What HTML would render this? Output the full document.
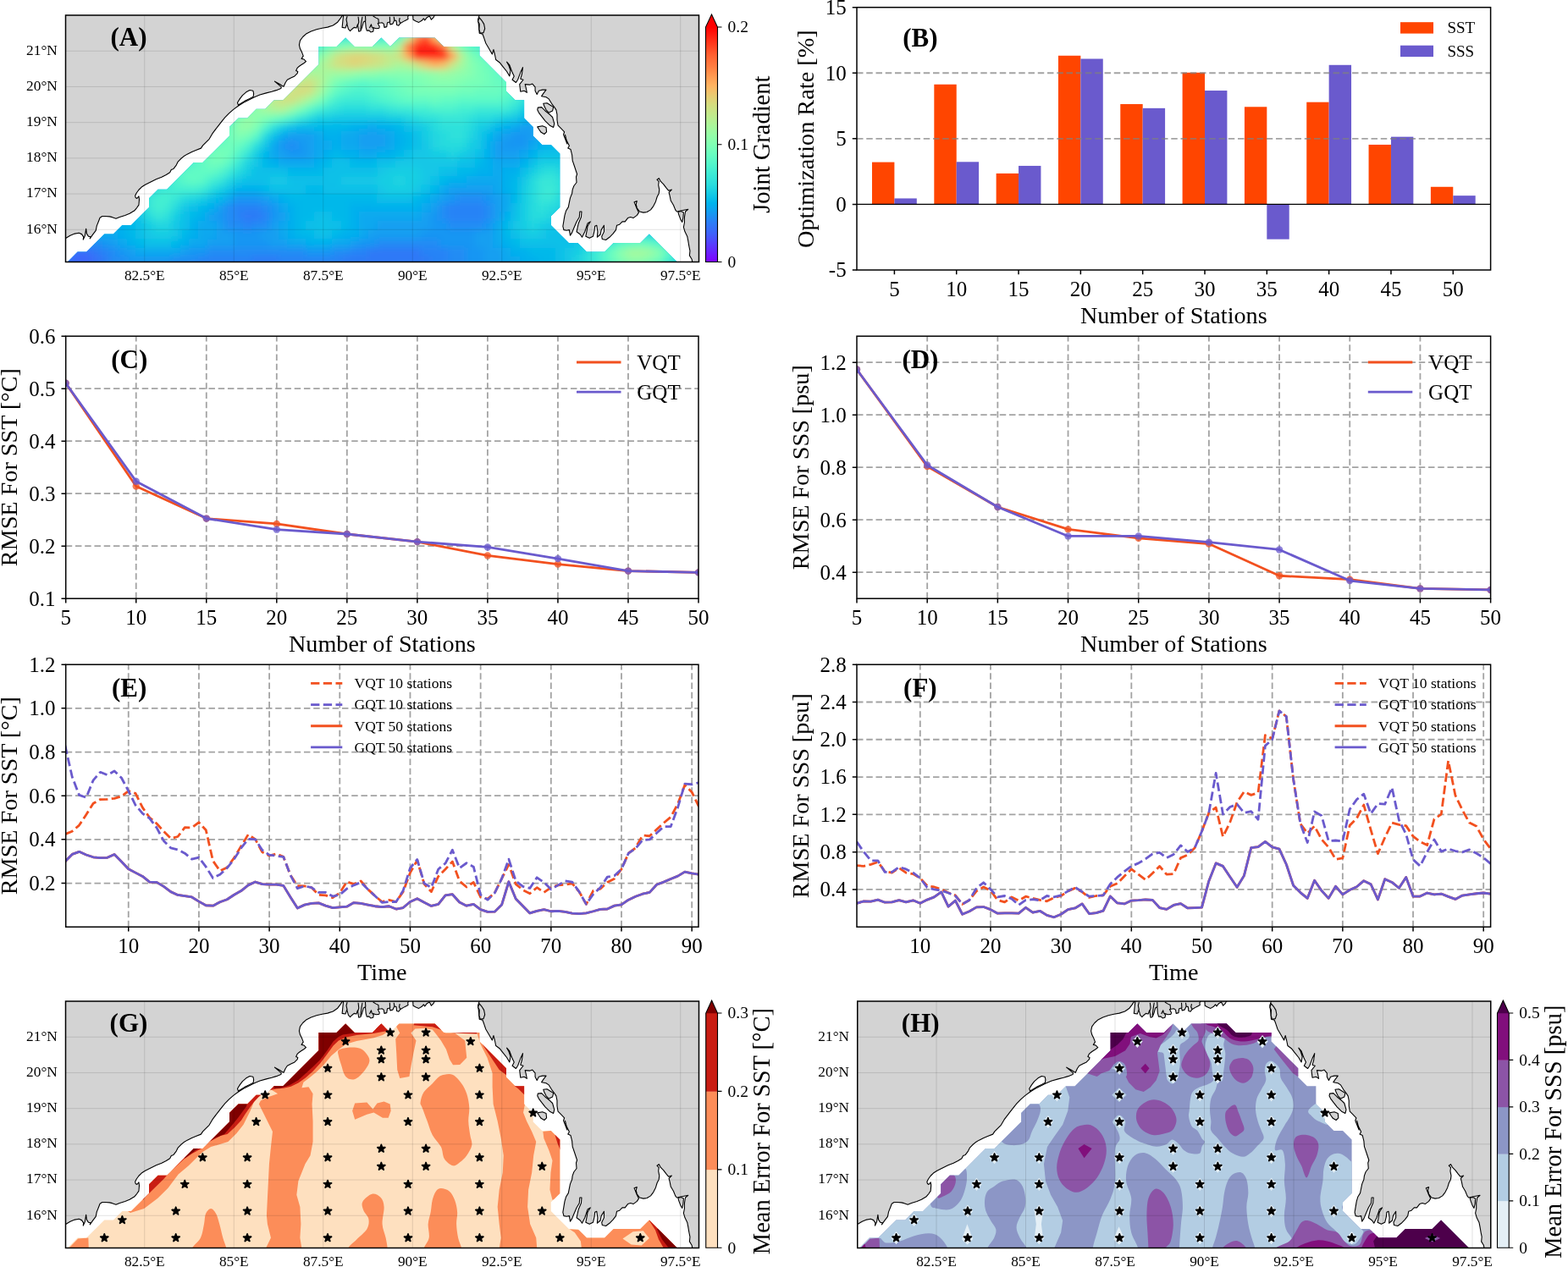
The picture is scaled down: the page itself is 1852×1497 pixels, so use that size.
<!DOCTYPE html>
<html lang="en"><head><meta charset="utf-8"><title>Figure</title>
<style>html,body{margin:0;padding:0;background:#fff}svg{display:block}text{fill:#000}</style></head>
<body>
<svg xmlns="http://www.w3.org/2000/svg" width="1852" height="1497" viewBox="0 0 1852 1497" font-family="'Liberation Serif','Times New Roman',serif">
<defs><linearGradient id="gradA" x1="0" y1="0" x2="0" y2="1"><stop offset="0" stop-color="#ff0000"/><stop offset="0.04" stop-color="#ff2111"/><stop offset="0.08" stop-color="#ff4221"/><stop offset="0.12" stop-color="#ff6232"/><stop offset="0.17" stop-color="#ff7f42"/><stop offset="0.21" stop-color="#ff9b52"/><stop offset="0.25" stop-color="#ffb462"/><stop offset="0.29" stop-color="#eaca71"/><stop offset="0.33" stop-color="#d5dd7f"/><stop offset="0.38" stop-color="#bfec8e"/><stop offset="0.42" stop-color="#aaf69b"/><stop offset="0.46" stop-color="#95fda8"/><stop offset="0.5" stop-color="#80ffb4"/><stop offset="0.54" stop-color="#6afdc0"/><stop offset="0.58" stop-color="#55f6ca"/><stop offset="0.62" stop-color="#40ecd4"/><stop offset="0.67" stop-color="#2bdddd"/><stop offset="0.71" stop-color="#15cae5"/><stop offset="0.75" stop-color="#00b4ec"/><stop offset="0.79" stop-color="#159bf1"/><stop offset="0.83" stop-color="#2b7ff6"/><stop offset="0.88" stop-color="#4062fa"/><stop offset="0.92" stop-color="#5542fd"/><stop offset="0.96" stop-color="#6a21fe"/><stop offset="1" stop-color="#8000ff"/></linearGradient></defs>
<rect width="1852" height="1497" fill="#fff"/>
<g transform="translate(0 0)">
<clipPath id="axA"><rect x="77.5" y="18" width="748" height="291.5"/></clipPath>
<clipPath id="mkA"><path d="M70.52 318.73 L91.62 297.62 L102.17 297.62 L123.28 276.52 L133.82 276.52 L144.38 265.98 L154.93 265.98 L176.03 244.88 L176.03 234.33 L186.57 223.78 L197.12 223.78 L228.78 192.12 L239.32 192.12 L270.98 160.48 L270.98 149.93 L281.52 139.38 L292.07 139.38 L302.62 128.82 L313.18 128.82 L323.73 118.28 L334.27 118.28 L376.48 76.08 L376.48 54.98 L397.58 54.98 L408.12 44.42 L418.68 54.98 L439.78 54.98 L450.33 44.42 L460.88 54.98 L471.43 44.42 L513.62 44.42 L524.17 54.98 L566.38 54.98 L566.38 65.53 L598.03 97.18 L598.03 107.72 L608.58 118.28 L619.12 118.28 L619.12 139.38 L629.67 149.93 L629.67 160.48 L640.23 171.03 L650.78 171.03 L661.33 181.57 L661.33 244.88 L650.78 255.43 L650.78 265.98 L671.88 287.08 L682.42 287.08 L692.98 297.62 L714.08 297.62 L724.62 287.08 L756.28 287.08 L766.83 276.52 L809.03 318.73Z"/></clipPath>
<g clip-path="url(#axA)">
<g fill="#d3d3d3" stroke="#000" stroke-width="1.1" stroke-linejoin="round">
<path d="M75.5 16 L75.5 281.49 L77.56 281.49 L82.96 278.25 L88.36 276.09 L93.22 275.33 L96.46 276.63 L98.62 279.87 L98.29 283.11 L100.24 278.79 L101.64 270.37 L102.4 276.09 L104.56 279.33 L107.26 279.87 L106.18 281.81 L109.96 276.63 L113.2 272.31 L114.28 266.91 L116.44 261.51 L118.06 257.19 L120.76 255.57 L124 255.57 L129.4 255.9 L132.63 256.65 L136.95 258.27 L141.27 256.44 L147.75 254.49 L153.15 252.33 L158.55 249.09 L161.79 245.31 L163.95 242.07 L164.49 235.59 L163.95 231.81 L161.79 234.51 L160.17 233.43 L159.63 231.27 L161.25 228.03 L163.95 224.25 L167.19 221.02 L171.51 218.32 L177.99 215.08 L184.47 211.84 L190.95 209.14 L196.35 206.44 L200.67 203.74 L202.29 200.5 L204.99 199.42 L208.23 195.1 L210.39 190.78 L213.63 187.54 L216.87 184.84 L221.19 182.14 L226.59 179.44 L231.99 177.28 L237.39 175.12 L239.55 171.88 L242.79 168.64 L247.11 164.32 L250.8 157.95 L257.28 149.31 L263.76 141.21 L265.38 139.05 L270.24 134.19 L275.64 129.33 L281.58 125.01 L287.52 121.23 L294 117.99 L300.48 114.75 L306.95 112.05 L314.51 109.89 L320.99 108.27 L326.39 106.65 L331.79 104.49 L332.33 102.87 L328.55 99.63 L325.31 96.93 L324.45 96.18 L329.63 99.09 L333.95 101.79 L335.03 102.33 L337.19 97.47 L339.35 94.23 L343.67 92.07 L347.99 89.91 L351.23 86.67 L351.77 84.51 L349.61 83.43 L351.23 80.19 L354.47 77.49 L358.79 74.79 L361.49 72.63 L358.79 69.94 L356.09 69.4 L358.25 66.16 L356.63 61.84 L354.47 57.52 L353.39 53.2 L354.47 47.8 L357.71 43.48 L362.03 39.7 L367.43 37 L373.91 34.84 L380.39 33.22 L386.87 32.14 L393.35 29.98 L398.75 26.2 L401.99 21.88 L404.15 18.64 L404.69 17.78 L404.69 16Z"/>
<path d="M566.2 16 L566.2 17.78 L564.58 22.96 L565.66 31.6 L566.2 39.16 L569.98 40.24 L571.6 44.56 L573.76 51.04 L577 56.44 L581.32 64 L582.94 58.6 L584.34 64 L585.64 70.48 L589.96 73.71 L594.28 79.11 L598.6 84.51 L601.84 89.91 L602.92 83.43 L600.76 76.95 L598.6 73.17 L601.84 76.95 L605.08 85.59 L607.24 89.91 L605.08 94.23 L609.4 97.47 L611.56 94.23 L614.79 85.59 L617.49 79.65 L616.41 87.75 L614.79 93.15 L618.03 94.23 L613.71 99.63 L614.79 108.27 L619.11 107.19 L622.35 109.35 L621.27 103.95 L620.19 99.63 L625.59 100.17 L628.83 99.09 L632.07 102.87 L632.07 107.19 L634.23 111.51 L636.39 107.19 L640.71 106.11 L645.03 106.11 L641.79 110.43 L639.63 113.67 L645.03 114.75 L648.27 116.91 L651.51 122.31 L654.75 126.63 L656.91 129.87 L657.99 135.27 L657.99 141.75 L659.07 148.23 L662.31 151.47 L666.63 155.79 L665.55 159.03 L667.71 164.43 L669.87 170.04 L667.54 159.32 L669.16 165.8 L672.4 172.28 L670.78 174.98 L674.02 176.6 L675.64 183.08 L676.18 189.56 L678.34 196.04 L680.5 202.52 L681.58 205.76 L680.5 209 L681.04 215.48 L677.8 219.79 L676.18 224.11 L675.64 228.43 L673.48 233.83 L672.4 239.23 L671.32 244.63 L668.62 248.95 L667 254.35 L665.92 260.83 L664.84 267.31 L665.92 271.63 L669.16 272.17 L672.4 271.63 L673.48 278.11 L675.64 274.87 L677.8 269.47 L681.04 261.91 L684.28 256.51 L684.82 250.03 L686.98 250.03 L686.44 256.51 L683.2 264.07 L681.04 273.79 L685.36 277.03 L687.52 280.27 L690.76 273.79 L694 264.07 L697.24 261.91 L694 267.31 L692.92 273.79 L691.84 279.19 L696.16 281.35 L700.48 279.19 L702.1 272.71 L702.63 267.31 L704.79 266.23 L705.87 273.79 L705.33 280.27 L709.11 277.03 L710.19 271.63 L713.43 266.23 L713.43 273.79 L710.73 279.19 L711.27 282.43 L715.59 283.51 L719.91 280.27 L724.23 275.95 L727.47 271.63 L728.55 266.23 L731.79 265.15 L735.03 261.91 L738.27 261.91 L741.51 257.59 L744.75 256.51 L747.99 257.59 L752.31 254.35 L754.47 251.11 L752.31 246.79 L750.15 241.39 L749.07 238.69 L752.31 237.61 L751.23 241.39 L752.31 245.71 L755.55 250.03 L759.87 251.11 L764.19 250.57 L768.51 247.87 L771.75 243.55 L774.45 238.15 L776.07 232.75 L778.23 228.43 L778.77 224.11 L777.69 218.71 L778.23 214.4 L776.07 212.24 L778.23 210.62 L780.39 214.4 L783.63 217.63 L786.87 221.95 L789.57 225.19 L793.35 224.11 L790.11 227.35 L791.19 231.67 L792.27 237.07 L795.51 242.47 L797.67 247.87 L799.29 250.03 L804.15 248.95 L812.79 247.33 L809.55 250.03 L808.47 256.51 L808.47 262.99 L807.39 268.39 L809.01 273.79 L811.71 279.19 L812.79 284.59 L813.87 291.07 L814.95 296.47 L814.41 301.87 L817.11 306.19 L817.65 309.21 L817.65 311.5 L827.5 311.5 L827.5 16Z"/>
<path d="M405.53 16 L405.53 17.97 L405.53 18.67 L404.13 32.36 L407.99 33.06 L409.74 28.14 L411.5 34.46 L413.6 36.57 L415.71 34.46 L418.16 32.36 L420.97 33.06 L422.38 28.85 L423.78 37.27 L425.89 36.57 L427.64 32.36 L429.4 26.04 L431.5 24.64 L432.2 32.36 L433.26 36.22 L435.71 35.87 L437.82 37.97 L440.63 37.27 L441.33 34.46 L439.92 32.36 L444.14 33.76 L447.65 33.41 L448.35 31.65 L446.24 27.44 L451.16 26.74 L453.26 28.14 L453.96 32.36 L456.77 31.65 L457.47 26.74 L460.28 26.04 L460.98 28.85 L463.79 28.14 L465.9 23.93 L468 24.64 L468.7 29.55 L470.81 30.25 L472.92 27.44 L477.83 24.64 L482.04 22.53 L481.69 19.72 L482.74 17.97 L482.74 16Z"/>
<path d="M487.66 16 L487.66 17.97 L488.01 23.23 L491.17 24.99 L494.68 26.39 L498.19 24.28 L500.29 21.83 L501.7 23.93 L504.5 20.42 L507.31 19.02 L509.42 23.23 L512.23 20.42 L512.93 18.67 L513.63 17.97 L513.63 16Z"/>
<path d="M635.31 127.17 L639.63 126.63 L643.95 130.95 L649.35 135.27 L652.59 138.51 L654.75 146.07 L653.67 150.39 L649.35 148.23 L643.95 142.83 L639.63 137.43 L636.39 133.11 L634.77 129.87Z"/>
<path d="M641.79 122.31 L646.11 121.77 L650.43 124.47 L653.67 126.63 L652.59 130.95 L648.27 133.11 L645.03 129.87 L642.87 125.55Z"/>
<path d="M634.77 149.85 L640.71 148.77 L645.03 150.39 L645.57 155.79 L642.87 158.49 L639.09 156.33 L636.39 152.55Z"/>
<path d="M566.2 20.8 L568.9 24.04 L571.6 28.36 L572.68 33.76 L571.06 38.62 L567.28 39.37 L565.98 34.84 L566.2 28.36 L564.58 25.12Z"/>
<path d="M800.91 250.57 L804.15 249.49 L807.39 251.11 L806.85 257.59 L805.77 262.45 L803.61 258.67 L801.99 254.35Z"/>
<path d="M281.58 124.47 L280.5 121.23 L283.2 116.91 L286.44 112.59 L290.76 108.81 L295.08 106.44 L298.86 107.19 L299.61 110.43 L299.18 114.21 L295.08 116.37 L288.6 119.61 L283.2 122.85Z" fill="#fff"/>
<path d="M410.09 19.02 L409.04 23.23 L410.09 28.14M423.08 19.72 L423.78 26.04 L422.73 29.55M427.99 19.72 L426.94 26.04 L425.89 35.16M431.5 19.02 L431.85 24.64M440.63 19.02 L444.14 21.13 L446.94 22.53 L447.3 27.44M460.28 19.72 L460.63 26.04M465.2 19.72 L465.9 23.93M472.21 21.13 L471.51 24.64 L472.92 27.44M436.42 33.06 L438.52 28.85 L439.22 32.36" fill="none"/>
</g>
<g clip-path="url(#mkA)">
<filter id="blA" x="-5%" y="-5%" width="110%" height="110%"><feGaussianBlur stdDeviation="4.2"/></filter><rect x="60" y="0" width="780" height="330" fill="#03b1ec"/><g filter="url(#blA)"><rect x="54.7" y="323.7" width="11.15" height="11.15" fill="#0ba8ef"/><rect x="65.25" y="323.7" width="11.15" height="11.15" fill="#129ff1"/><rect x="75.8" y="323.7" width="42.8" height="11.15" fill="#1996f3"/><rect x="118" y="323.7" width="21.7" height="11.15" fill="#129ff1"/><rect x="139.1" y="323.7" width="63.9" height="11.15" fill="#0ba8ef"/><rect x="202.4" y="323.7" width="317.1" height="11.15" fill="#129ff1"/><rect x="518.9" y="323.7" width="74.45" height="11.15" fill="#0ba8ef"/><rect x="592.75" y="323.7" width="63.9" height="11.15" fill="#04b0ed"/><rect x="656.05" y="323.7" width="32.25" height="11.15" fill="#04b8ea"/><rect x="687.7" y="323.7" width="32.25" height="11.15" fill="#0bc0e8"/><rect x="719.35" y="323.7" width="42.8" height="11.15" fill="#12c7e6"/><rect x="761.55" y="323.7" width="21.7" height="11.15" fill="#0bc0e8"/><rect x="782.65" y="323.7" width="32.25" height="11.15" fill="#04b8ea"/><rect x="814.3" y="323.7" width="21.7" height="11.15" fill="#04b0ed"/><rect x="54.7" y="313.15" width="11.15" height="11.15" fill="#1996f3"/><rect x="65.25" y="313.15" width="11.15" height="11.15" fill="#218cf4"/><rect x="75.8" y="313.15" width="11.15" height="11.15" fill="#2883f6"/><rect x="86.35" y="313.15" width="21.7" height="11.15" fill="#2f79f7"/><rect x="107.45" y="313.15" width="11.15" height="11.15" fill="#2883f6"/><rect x="118" y="313.15" width="11.15" height="11.15" fill="#218cf4"/><rect x="128.55" y="313.15" width="95.55" height="11.15" fill="#1996f3"/><rect x="223.5" y="313.15" width="201.05" height="11.15" fill="#218cf4"/><rect x="423.95" y="313.15" width="42.8" height="11.15" fill="#2883f6"/><rect x="466.15" y="313.15" width="53.35" height="11.15" fill="#218cf4"/><rect x="518.9" y="313.15" width="32.25" height="11.15" fill="#1996f3"/><rect x="550.55" y="313.15" width="32.25" height="11.15" fill="#129ff1"/><rect x="582.2" y="313.15" width="32.25" height="11.15" fill="#0ba8ef"/><rect x="613.85" y="313.15" width="32.25" height="11.15" fill="#04b0ed"/><rect x="645.5" y="313.15" width="21.7" height="11.15" fill="#04b8ea"/><rect x="666.6" y="313.15" width="11.15" height="11.15" fill="#0bc0e8"/><rect x="677.15" y="313.15" width="11.15" height="11.15" fill="#12c7e6"/><rect x="687.7" y="313.15" width="11.15" height="11.15" fill="#19cee3"/><rect x="698.25" y="313.15" width="11.15" height="11.15" fill="#21d5e1"/><rect x="708.8" y="313.15" width="11.15" height="11.15" fill="#2fe1db"/><rect x="719.35" y="313.15" width="11.15" height="11.15" fill="#37e6d8"/><rect x="729.9" y="313.15" width="32.25" height="11.15" fill="#3eead5"/><rect x="761.55" y="313.15" width="11.15" height="11.15" fill="#37e6d8"/><rect x="772.1" y="313.15" width="11.15" height="11.15" fill="#2fe1db"/><rect x="782.65" y="313.15" width="11.15" height="11.15" fill="#21d5e1"/><rect x="793.2" y="313.15" width="11.15" height="11.15" fill="#12c7e6"/><rect x="803.75" y="313.15" width="11.15" height="11.15" fill="#0bc0e8"/><rect x="814.3" y="313.15" width="11.15" height="11.15" fill="#04b8ea"/><rect x="824.85" y="313.15" width="11.15" height="11.15" fill="#04b0ed"/><rect x="54.7" y="302.6" width="11.15" height="11.15" fill="#218cf4"/><rect x="65.25" y="302.6" width="11.15" height="11.15" fill="#2f79f7"/><rect x="75.8" y="302.6" width="11.15" height="11.15" fill="#376ff9"/><rect x="86.35" y="302.6" width="21.7" height="11.15" fill="#3e64fa"/><rect x="107.45" y="302.6" width="11.15" height="11.15" fill="#376ff9"/><rect x="118" y="302.6" width="11.15" height="11.15" fill="#2f79f7"/><rect x="128.55" y="302.6" width="21.7" height="11.15" fill="#218cf4"/><rect x="149.65" y="302.6" width="53.35" height="11.15" fill="#1996f3"/><rect x="202.4" y="302.6" width="32.25" height="11.15" fill="#218cf4"/><rect x="234.05" y="302.6" width="63.9" height="11.15" fill="#2883f6"/><rect x="297.35" y="302.6" width="32.25" height="11.15" fill="#2f79f7"/><rect x="329" y="302.6" width="74.45" height="11.15" fill="#2883f6"/><rect x="402.85" y="302.6" width="106.1" height="11.15" fill="#2f79f7"/><rect x="508.35" y="302.6" width="21.7" height="11.15" fill="#2883f6"/><rect x="529.45" y="302.6" width="21.7" height="11.15" fill="#218cf4"/><rect x="550.55" y="302.6" width="21.7" height="11.15" fill="#1996f3"/><rect x="571.65" y="302.6" width="21.7" height="11.15" fill="#129ff1"/><rect x="592.75" y="302.6" width="21.7" height="11.15" fill="#0ba8ef"/><rect x="613.85" y="302.6" width="21.7" height="11.15" fill="#04b0ed"/><rect x="634.95" y="302.6" width="21.7" height="11.15" fill="#04b8ea"/><rect x="656.05" y="302.6" width="11.15" height="11.15" fill="#0bc0e8"/><rect x="666.6" y="302.6" width="11.15" height="11.15" fill="#12c7e6"/><rect x="677.15" y="302.6" width="11.15" height="11.15" fill="#21d5e1"/><rect x="687.7" y="302.6" width="11.15" height="11.15" fill="#2fe1db"/><rect x="698.25" y="302.6" width="11.15" height="11.15" fill="#3eead5"/><rect x="708.8" y="302.6" width="11.15" height="11.15" fill="#54f6cb"/><rect x="719.35" y="302.6" width="11.15" height="11.15" fill="#6afdc0"/><rect x="729.9" y="302.6" width="11.15" height="11.15" fill="#80ffb4"/><rect x="740.45" y="302.6" width="21.7" height="11.15" fill="#8efeac"/><rect x="761.55" y="302.6" width="11.15" height="11.15" fill="#80ffb4"/><rect x="772.1" y="302.6" width="11.15" height="11.15" fill="#71febc"/><rect x="782.65" y="302.6" width="11.15" height="11.15" fill="#4df3ce"/><rect x="793.2" y="302.6" width="11.15" height="11.15" fill="#2fe1db"/><rect x="803.75" y="302.6" width="11.15" height="11.15" fill="#12c7e6"/><rect x="814.3" y="302.6" width="21.7" height="11.15" fill="#04b8ea"/><rect x="54.7" y="292.05" width="11.15" height="11.15" fill="#1996f3"/><rect x="65.25" y="292.05" width="11.15" height="11.15" fill="#2883f6"/><rect x="75.8" y="292.05" width="11.15" height="11.15" fill="#2f79f7"/><rect x="86.35" y="292.05" width="21.7" height="11.15" fill="#376ff9"/><rect x="107.45" y="292.05" width="11.15" height="11.15" fill="#2f79f7"/><rect x="118" y="292.05" width="11.15" height="11.15" fill="#2883f6"/><rect x="128.55" y="292.05" width="11.15" height="11.15" fill="#218cf4"/><rect x="139.1" y="292.05" width="11.15" height="11.15" fill="#1996f3"/><rect x="149.65" y="292.05" width="11.15" height="11.15" fill="#129ff1"/><rect x="160.2" y="292.05" width="53.35" height="11.15" fill="#0ba8ef"/><rect x="212.95" y="292.05" width="11.15" height="11.15" fill="#129ff1"/><rect x="223.5" y="292.05" width="21.7" height="11.15" fill="#1996f3"/><rect x="244.6" y="292.05" width="116.65" height="11.15" fill="#218cf4"/><rect x="360.65" y="292.05" width="32.25" height="11.15" fill="#1996f3"/><rect x="392.3" y="292.05" width="21.7" height="11.15" fill="#218cf4"/><rect x="413.4" y="292.05" width="21.7" height="11.15" fill="#2883f6"/><rect x="434.5" y="292.05" width="63.9" height="11.15" fill="#2f79f7"/><rect x="497.8" y="292.05" width="32.25" height="11.15" fill="#2883f6"/><rect x="529.45" y="292.05" width="21.7" height="11.15" fill="#218cf4"/><rect x="550.55" y="292.05" width="21.7" height="11.15" fill="#1996f3"/><rect x="571.65" y="292.05" width="21.7" height="11.15" fill="#129ff1"/><rect x="592.75" y="292.05" width="11.15" height="11.15" fill="#0ba8ef"/><rect x="603.3" y="292.05" width="21.7" height="11.15" fill="#04b0ed"/><rect x="624.4" y="292.05" width="32.25" height="11.15" fill="#04b8ea"/><rect x="656.05" y="292.05" width="11.15" height="11.15" fill="#0bc0e8"/><rect x="666.6" y="292.05" width="11.15" height="11.15" fill="#12c7e6"/><rect x="677.15" y="292.05" width="11.15" height="11.15" fill="#19cee3"/><rect x="687.7" y="292.05" width="11.15" height="11.15" fill="#28dbde"/><rect x="698.25" y="292.05" width="11.15" height="11.15" fill="#3eead5"/><rect x="708.8" y="292.05" width="11.15" height="11.15" fill="#54f6cb"/><rect x="719.35" y="292.05" width="11.15" height="11.15" fill="#71febc"/><rect x="729.9" y="292.05" width="11.15" height="11.15" fill="#8efeac"/><rect x="740.45" y="292.05" width="21.7" height="11.15" fill="#a4f99f"/><rect x="761.55" y="292.05" width="11.15" height="11.15" fill="#9dfba3"/><rect x="772.1" y="292.05" width="11.15" height="11.15" fill="#87ffb0"/><rect x="782.65" y="292.05" width="11.15" height="11.15" fill="#62fbc4"/><rect x="793.2" y="292.05" width="11.15" height="11.15" fill="#37e6d8"/><rect x="803.75" y="292.05" width="11.15" height="11.15" fill="#19cee3"/><rect x="814.3" y="292.05" width="21.7" height="11.15" fill="#04b8ea"/><rect x="54.7" y="281.5" width="11.15" height="11.15" fill="#129ff1"/><rect x="65.25" y="281.5" width="11.15" height="11.15" fill="#1996f3"/><rect x="75.8" y="281.5" width="42.8" height="11.15" fill="#218cf4"/><rect x="118" y="281.5" width="11.15" height="11.15" fill="#1996f3"/><rect x="128.55" y="281.5" width="11.15" height="11.15" fill="#129ff1"/><rect x="139.1" y="281.5" width="11.15" height="11.15" fill="#0ba8ef"/><rect x="149.65" y="281.5" width="11.15" height="11.15" fill="#04b0ed"/><rect x="160.2" y="281.5" width="11.15" height="11.15" fill="#04b8ea"/><rect x="170.75" y="281.5" width="32.25" height="11.15" fill="#0bc0e8"/><rect x="202.4" y="281.5" width="11.15" height="11.15" fill="#04b8ea"/><rect x="212.95" y="281.5" width="11.15" height="11.15" fill="#04b0ed"/><rect x="223.5" y="281.5" width="21.7" height="11.15" fill="#0ba8ef"/><rect x="244.6" y="281.5" width="32.25" height="11.15" fill="#129ff1"/><rect x="276.25" y="281.5" width="42.8" height="11.15" fill="#1996f3"/><rect x="318.45" y="281.5" width="21.7" height="11.15" fill="#129ff1"/><rect x="339.55" y="281.5" width="21.7" height="11.15" fill="#0ba8ef"/><rect x="360.65" y="281.5" width="32.25" height="11.15" fill="#04b0ed"/><rect x="392.3" y="281.5" width="21.7" height="11.15" fill="#0ba8ef"/><rect x="413.4" y="281.5" width="11.15" height="11.15" fill="#129ff1"/><rect x="423.95" y="281.5" width="21.7" height="11.15" fill="#1996f3"/><rect x="445.05" y="281.5" width="74.45" height="11.15" fill="#218cf4"/><rect x="518.9" y="281.5" width="42.8" height="11.15" fill="#1996f3"/><rect x="561.1" y="281.5" width="21.7" height="11.15" fill="#129ff1"/><rect x="582.2" y="281.5" width="11.15" height="11.15" fill="#0ba8ef"/><rect x="592.75" y="281.5" width="11.15" height="11.15" fill="#04b0ed"/><rect x="603.3" y="281.5" width="11.15" height="11.15" fill="#04b8ea"/><rect x="613.85" y="281.5" width="63.9" height="11.15" fill="#0bc0e8"/><rect x="677.15" y="281.5" width="11.15" height="11.15" fill="#12c7e6"/><rect x="687.7" y="281.5" width="11.15" height="11.15" fill="#19cee3"/><rect x="698.25" y="281.5" width="11.15" height="11.15" fill="#21d5e1"/><rect x="708.8" y="281.5" width="11.15" height="11.15" fill="#2fe1db"/><rect x="719.35" y="281.5" width="11.15" height="11.15" fill="#45efd2"/><rect x="729.9" y="281.5" width="11.15" height="11.15" fill="#5bf9c7"/><rect x="740.45" y="281.5" width="11.15" height="11.15" fill="#62fbc4"/><rect x="751" y="281.5" width="11.15" height="11.15" fill="#6afdc0"/><rect x="761.55" y="281.5" width="11.15" height="11.15" fill="#62fbc4"/><rect x="772.1" y="281.5" width="11.15" height="11.15" fill="#54f6cb"/><rect x="782.65" y="281.5" width="11.15" height="11.15" fill="#37e6d8"/><rect x="793.2" y="281.5" width="11.15" height="11.15" fill="#21d5e1"/><rect x="803.75" y="281.5" width="11.15" height="11.15" fill="#0bc0e8"/><rect x="814.3" y="281.5" width="11.15" height="11.15" fill="#04b8ea"/><rect x="824.85" y="281.5" width="11.15" height="11.15" fill="#04b0ed"/><rect x="54.7" y="270.95" width="32.25" height="11.15" fill="#0ba8ef"/><rect x="86.35" y="270.95" width="21.7" height="11.15" fill="#129ff1"/><rect x="107.45" y="270.95" width="32.25" height="11.15" fill="#0ba8ef"/><rect x="139.1" y="270.95" width="11.15" height="11.15" fill="#04b0ed"/><rect x="149.65" y="270.95" width="11.15" height="11.15" fill="#04b8ea"/><rect x="160.2" y="270.95" width="11.15" height="11.15" fill="#0bc0e8"/><rect x="170.75" y="270.95" width="11.15" height="11.15" fill="#12c7e6"/><rect x="181.3" y="270.95" width="21.7" height="11.15" fill="#19cee3"/><rect x="202.4" y="270.95" width="11.15" height="11.15" fill="#12c7e6"/><rect x="212.95" y="270.95" width="11.15" height="11.15" fill="#04b8ea"/><rect x="223.5" y="270.95" width="11.15" height="11.15" fill="#04b0ed"/><rect x="234.05" y="270.95" width="21.7" height="11.15" fill="#0ba8ef"/><rect x="255.15" y="270.95" width="21.7" height="11.15" fill="#129ff1"/><rect x="276.25" y="270.95" width="32.25" height="11.15" fill="#1996f3"/><rect x="307.9" y="270.95" width="21.7" height="11.15" fill="#129ff1"/><rect x="329" y="270.95" width="11.15" height="11.15" fill="#0ba8ef"/><rect x="339.55" y="270.95" width="11.15" height="11.15" fill="#04b0ed"/><rect x="350.1" y="270.95" width="21.7" height="11.15" fill="#04b8ea"/><rect x="371.2" y="270.95" width="21.7" height="11.15" fill="#0bc0e8"/><rect x="392.3" y="270.95" width="11.15" height="11.15" fill="#04b8ea"/><rect x="402.85" y="270.95" width="21.7" height="11.15" fill="#04b0ed"/><rect x="423.95" y="270.95" width="11.15" height="11.15" fill="#0ba8ef"/><rect x="434.5" y="270.95" width="63.9" height="11.15" fill="#129ff1"/><rect x="497.8" y="270.95" width="63.9" height="11.15" fill="#1996f3"/><rect x="561.1" y="270.95" width="21.7" height="11.15" fill="#129ff1"/><rect x="582.2" y="270.95" width="11.15" height="11.15" fill="#0ba8ef"/><rect x="592.75" y="270.95" width="11.15" height="11.15" fill="#04b8ea"/><rect x="603.3" y="270.95" width="11.15" height="11.15" fill="#0bc0e8"/><rect x="613.85" y="270.95" width="11.15" height="11.15" fill="#12c7e6"/><rect x="624.4" y="270.95" width="11.15" height="11.15" fill="#19cee3"/><rect x="634.95" y="270.95" width="11.15" height="11.15" fill="#12c7e6"/><rect x="645.5" y="270.95" width="21.7" height="11.15" fill="#0bc0e8"/><rect x="666.6" y="270.95" width="32.25" height="11.15" fill="#04b8ea"/><rect x="698.25" y="270.95" width="11.15" height="11.15" fill="#0bc0e8"/><rect x="708.8" y="270.95" width="21.7" height="11.15" fill="#12c7e6"/><rect x="729.9" y="270.95" width="11.15" height="11.15" fill="#19cee3"/><rect x="740.45" y="270.95" width="32.25" height="11.15" fill="#21d5e1"/><rect x="772.1" y="270.95" width="11.15" height="11.15" fill="#19cee3"/><rect x="782.65" y="270.95" width="11.15" height="11.15" fill="#12c7e6"/><rect x="793.2" y="270.95" width="11.15" height="11.15" fill="#0bc0e8"/><rect x="803.75" y="270.95" width="11.15" height="11.15" fill="#04b8ea"/><rect x="814.3" y="270.95" width="21.7" height="11.15" fill="#04b0ed"/><rect x="54.7" y="260.4" width="95.55" height="11.15" fill="#04b0ed"/><rect x="149.65" y="260.4" width="11.15" height="11.15" fill="#04b8ea"/><rect x="160.2" y="260.4" width="11.15" height="11.15" fill="#0bc0e8"/><rect x="170.75" y="260.4" width="11.15" height="11.15" fill="#19cee3"/><rect x="181.3" y="260.4" width="21.7" height="11.15" fill="#21d5e1"/><rect x="202.4" y="260.4" width="11.15" height="11.15" fill="#12c7e6"/><rect x="212.95" y="260.4" width="11.15" height="11.15" fill="#0bc0e8"/><rect x="223.5" y="260.4" width="11.15" height="11.15" fill="#04b0ed"/><rect x="234.05" y="260.4" width="21.7" height="11.15" fill="#0ba8ef"/><rect x="255.15" y="260.4" width="11.15" height="11.15" fill="#129ff1"/><rect x="265.7" y="260.4" width="21.7" height="11.15" fill="#218cf4"/><rect x="286.8" y="260.4" width="11.15" height="11.15" fill="#2883f6"/><rect x="297.35" y="260.4" width="21.7" height="11.15" fill="#218cf4"/><rect x="318.45" y="260.4" width="11.15" height="11.15" fill="#129ff1"/><rect x="329" y="260.4" width="11.15" height="11.15" fill="#0ba8ef"/><rect x="339.55" y="260.4" width="11.15" height="11.15" fill="#04b0ed"/><rect x="350.1" y="260.4" width="11.15" height="11.15" fill="#04b8ea"/><rect x="360.65" y="260.4" width="42.8" height="11.15" fill="#0bc0e8"/><rect x="402.85" y="260.4" width="11.15" height="11.15" fill="#04b8ea"/><rect x="413.4" y="260.4" width="11.15" height="11.15" fill="#04b0ed"/><rect x="423.95" y="260.4" width="21.7" height="11.15" fill="#0ba8ef"/><rect x="445.05" y="260.4" width="63.9" height="11.15" fill="#129ff1"/><rect x="508.35" y="260.4" width="21.7" height="11.15" fill="#1996f3"/><rect x="529.45" y="260.4" width="42.8" height="11.15" fill="#218cf4"/><rect x="571.65" y="260.4" width="11.15" height="11.15" fill="#1996f3"/><rect x="582.2" y="260.4" width="11.15" height="11.15" fill="#0ba8ef"/><rect x="592.75" y="260.4" width="11.15" height="11.15" fill="#04b8ea"/><rect x="603.3" y="260.4" width="11.15" height="11.15" fill="#12c7e6"/><rect x="613.85" y="260.4" width="11.15" height="11.15" fill="#19cee3"/><rect x="624.4" y="260.4" width="11.15" height="11.15" fill="#21d5e1"/><rect x="634.95" y="260.4" width="11.15" height="11.15" fill="#19cee3"/><rect x="645.5" y="260.4" width="11.15" height="11.15" fill="#12c7e6"/><rect x="656.05" y="260.4" width="11.15" height="11.15" fill="#0bc0e8"/><rect x="666.6" y="260.4" width="127.2" height="11.15" fill="#04b8ea"/><rect x="793.2" y="260.4" width="42.8" height="11.15" fill="#04b0ed"/><rect x="54.7" y="249.85" width="95.55" height="11.15" fill="#04b0ed"/><rect x="149.65" y="249.85" width="11.15" height="11.15" fill="#04b8ea"/><rect x="160.2" y="249.85" width="11.15" height="11.15" fill="#12c7e6"/><rect x="170.75" y="249.85" width="11.15" height="11.15" fill="#28dbde"/><rect x="181.3" y="249.85" width="11.15" height="11.15" fill="#37e6d8"/><rect x="191.85" y="249.85" width="11.15" height="11.15" fill="#2fe1db"/><rect x="202.4" y="249.85" width="11.15" height="11.15" fill="#19cee3"/><rect x="212.95" y="249.85" width="11.15" height="11.15" fill="#0bc0e8"/><rect x="223.5" y="249.85" width="11.15" height="11.15" fill="#04b8ea"/><rect x="234.05" y="249.85" width="11.15" height="11.15" fill="#04b0ed"/><rect x="244.6" y="249.85" width="11.15" height="11.15" fill="#129ff1"/><rect x="255.15" y="249.85" width="11.15" height="11.15" fill="#1996f3"/><rect x="265.7" y="249.85" width="11.15" height="11.15" fill="#218cf4"/><rect x="276.25" y="249.85" width="11.15" height="11.15" fill="#2883f6"/><rect x="286.8" y="249.85" width="21.7" height="11.15" fill="#2f79f7"/><rect x="307.9" y="249.85" width="11.15" height="11.15" fill="#2883f6"/><rect x="318.45" y="249.85" width="11.15" height="11.15" fill="#1996f3"/><rect x="329" y="249.85" width="11.15" height="11.15" fill="#129ff1"/><rect x="339.55" y="249.85" width="11.15" height="11.15" fill="#04b0ed"/><rect x="350.1" y="249.85" width="21.7" height="11.15" fill="#04b8ea"/><rect x="371.2" y="249.85" width="21.7" height="11.15" fill="#0bc0e8"/><rect x="392.3" y="249.85" width="21.7" height="11.15" fill="#04b8ea"/><rect x="413.4" y="249.85" width="11.15" height="11.15" fill="#04b0ed"/><rect x="423.95" y="249.85" width="74.45" height="11.15" fill="#0ba8ef"/><rect x="497.8" y="249.85" width="11.15" height="11.15" fill="#129ff1"/><rect x="508.35" y="249.85" width="11.15" height="11.15" fill="#1996f3"/><rect x="518.9" y="249.85" width="11.15" height="11.15" fill="#218cf4"/><rect x="529.45" y="249.85" width="42.8" height="11.15" fill="#2883f6"/><rect x="571.65" y="249.85" width="11.15" height="11.15" fill="#218cf4"/><rect x="582.2" y="249.85" width="11.15" height="11.15" fill="#129ff1"/><rect x="592.75" y="249.85" width="11.15" height="11.15" fill="#04b0ed"/><rect x="603.3" y="249.85" width="11.15" height="11.15" fill="#0bc0e8"/><rect x="613.85" y="249.85" width="11.15" height="11.15" fill="#19cee3"/><rect x="624.4" y="249.85" width="21.7" height="11.15" fill="#28dbde"/><rect x="645.5" y="249.85" width="11.15" height="11.15" fill="#21d5e1"/><rect x="656.05" y="249.85" width="11.15" height="11.15" fill="#12c7e6"/><rect x="666.6" y="249.85" width="11.15" height="11.15" fill="#0bc0e8"/><rect x="677.15" y="249.85" width="21.7" height="11.15" fill="#04b8ea"/><rect x="698.25" y="249.85" width="137.75" height="11.15" fill="#04b0ed"/><rect x="54.7" y="239.3" width="85" height="11.15" fill="#04b0ed"/><rect x="139.1" y="239.3" width="11.15" height="11.15" fill="#04b8ea"/><rect x="149.65" y="239.3" width="11.15" height="11.15" fill="#0bc0e8"/><rect x="160.2" y="239.3" width="11.15" height="11.15" fill="#19cee3"/><rect x="170.75" y="239.3" width="11.15" height="11.15" fill="#37e6d8"/><rect x="181.3" y="239.3" width="11.15" height="11.15" fill="#45efd2"/><rect x="191.85" y="239.3" width="11.15" height="11.15" fill="#3eead5"/><rect x="202.4" y="239.3" width="11.15" height="11.15" fill="#28dbde"/><rect x="212.95" y="239.3" width="11.15" height="11.15" fill="#12c7e6"/><rect x="223.5" y="239.3" width="11.15" height="11.15" fill="#0bc0e8"/><rect x="234.05" y="239.3" width="11.15" height="11.15" fill="#04b8ea"/><rect x="244.6" y="239.3" width="11.15" height="11.15" fill="#04b0ed"/><rect x="255.15" y="239.3" width="11.15" height="11.15" fill="#129ff1"/><rect x="265.7" y="239.3" width="11.15" height="11.15" fill="#218cf4"/><rect x="276.25" y="239.3" width="32.25" height="11.15" fill="#2883f6"/><rect x="307.9" y="239.3" width="11.15" height="11.15" fill="#218cf4"/><rect x="318.45" y="239.3" width="11.15" height="11.15" fill="#1996f3"/><rect x="329" y="239.3" width="11.15" height="11.15" fill="#0ba8ef"/><rect x="339.55" y="239.3" width="11.15" height="11.15" fill="#04b0ed"/><rect x="350.1" y="239.3" width="63.9" height="11.15" fill="#04b8ea"/><rect x="413.4" y="239.3" width="85" height="11.15" fill="#04b0ed"/><rect x="497.8" y="239.3" width="11.15" height="11.15" fill="#0ba8ef"/><rect x="508.35" y="239.3" width="11.15" height="11.15" fill="#129ff1"/><rect x="518.9" y="239.3" width="11.15" height="11.15" fill="#218cf4"/><rect x="529.45" y="239.3" width="42.8" height="11.15" fill="#2883f6"/><rect x="571.65" y="239.3" width="11.15" height="11.15" fill="#218cf4"/><rect x="582.2" y="239.3" width="11.15" height="11.15" fill="#129ff1"/><rect x="592.75" y="239.3" width="11.15" height="11.15" fill="#0ba8ef"/><rect x="603.3" y="239.3" width="11.15" height="11.15" fill="#0bc0e8"/><rect x="613.85" y="239.3" width="11.15" height="11.15" fill="#19cee3"/><rect x="624.4" y="239.3" width="11.15" height="11.15" fill="#28dbde"/><rect x="634.95" y="239.3" width="11.15" height="11.15" fill="#2fe1db"/><rect x="645.5" y="239.3" width="11.15" height="11.15" fill="#28dbde"/><rect x="656.05" y="239.3" width="11.15" height="11.15" fill="#21d5e1"/><rect x="666.6" y="239.3" width="11.15" height="11.15" fill="#12c7e6"/><rect x="677.15" y="239.3" width="11.15" height="11.15" fill="#0bc0e8"/><rect x="687.7" y="239.3" width="11.15" height="11.15" fill="#04b8ea"/><rect x="698.25" y="239.3" width="137.75" height="11.15" fill="#04b0ed"/><rect x="54.7" y="228.75" width="95.55" height="11.15" fill="#04b0ed"/><rect x="149.65" y="228.75" width="11.15" height="11.15" fill="#0bc0e8"/><rect x="160.2" y="228.75" width="11.15" height="11.15" fill="#19cee3"/><rect x="170.75" y="228.75" width="11.15" height="11.15" fill="#37e6d8"/><rect x="181.3" y="228.75" width="21.7" height="11.15" fill="#45efd2"/><rect x="202.4" y="228.75" width="11.15" height="11.15" fill="#37e6d8"/><rect x="212.95" y="228.75" width="11.15" height="11.15" fill="#28dbde"/><rect x="223.5" y="228.75" width="11.15" height="11.15" fill="#21d5e1"/><rect x="234.05" y="228.75" width="11.15" height="11.15" fill="#19cee3"/><rect x="244.6" y="228.75" width="11.15" height="11.15" fill="#0bc0e8"/><rect x="255.15" y="228.75" width="11.15" height="11.15" fill="#04b8ea"/><rect x="265.7" y="228.75" width="11.15" height="11.15" fill="#0ba8ef"/><rect x="276.25" y="228.75" width="32.25" height="11.15" fill="#1996f3"/><rect x="307.9" y="228.75" width="11.15" height="11.15" fill="#129ff1"/><rect x="318.45" y="228.75" width="11.15" height="11.15" fill="#0ba8ef"/><rect x="329" y="228.75" width="11.15" height="11.15" fill="#04b0ed"/><rect x="339.55" y="228.75" width="106.1" height="11.15" fill="#04b8ea"/><rect x="445.05" y="228.75" width="42.8" height="11.15" fill="#0bc0e8"/><rect x="487.25" y="228.75" width="11.15" height="11.15" fill="#04b8ea"/><rect x="497.8" y="228.75" width="11.15" height="11.15" fill="#04b0ed"/><rect x="508.35" y="228.75" width="11.15" height="11.15" fill="#0ba8ef"/><rect x="518.9" y="228.75" width="11.15" height="11.15" fill="#129ff1"/><rect x="529.45" y="228.75" width="11.15" height="11.15" fill="#1996f3"/><rect x="540" y="228.75" width="32.25" height="11.15" fill="#218cf4"/><rect x="571.65" y="228.75" width="11.15" height="11.15" fill="#1996f3"/><rect x="582.2" y="228.75" width="11.15" height="11.15" fill="#129ff1"/><rect x="592.75" y="228.75" width="11.15" height="11.15" fill="#0ba8ef"/><rect x="603.3" y="228.75" width="11.15" height="11.15" fill="#04b8ea"/><rect x="613.85" y="228.75" width="11.15" height="11.15" fill="#19cee3"/><rect x="624.4" y="228.75" width="11.15" height="11.15" fill="#28dbde"/><rect x="634.95" y="228.75" width="21.7" height="11.15" fill="#37e6d8"/><rect x="656.05" y="228.75" width="11.15" height="11.15" fill="#28dbde"/><rect x="666.6" y="228.75" width="11.15" height="11.15" fill="#19cee3"/><rect x="677.15" y="228.75" width="11.15" height="11.15" fill="#0bc0e8"/><rect x="687.7" y="228.75" width="11.15" height="11.15" fill="#04b8ea"/><rect x="698.25" y="228.75" width="137.75" height="11.15" fill="#04b0ed"/><rect x="54.7" y="218.2" width="95.55" height="11.15" fill="#04b0ed"/><rect x="149.65" y="218.2" width="11.15" height="11.15" fill="#04b8ea"/><rect x="160.2" y="218.2" width="11.15" height="11.15" fill="#12c7e6"/><rect x="170.75" y="218.2" width="11.15" height="11.15" fill="#21d5e1"/><rect x="181.3" y="218.2" width="11.15" height="11.15" fill="#37e6d8"/><rect x="191.85" y="218.2" width="11.15" height="11.15" fill="#3eead5"/><rect x="202.4" y="218.2" width="32.25" height="11.15" fill="#45efd2"/><rect x="234.05" y="218.2" width="11.15" height="11.15" fill="#3eead5"/><rect x="244.6" y="218.2" width="11.15" height="11.15" fill="#28dbde"/><rect x="255.15" y="218.2" width="11.15" height="11.15" fill="#19cee3"/><rect x="265.7" y="218.2" width="11.15" height="11.15" fill="#0bc0e8"/><rect x="276.25" y="218.2" width="32.25" height="11.15" fill="#04b0ed"/><rect x="307.9" y="218.2" width="11.15" height="11.15" fill="#04b8ea"/><rect x="318.45" y="218.2" width="42.8" height="11.15" fill="#0bc0e8"/><rect x="360.65" y="218.2" width="21.7" height="11.15" fill="#04b8ea"/><rect x="381.75" y="218.2" width="63.9" height="11.15" fill="#0bc0e8"/><rect x="445.05" y="218.2" width="11.15" height="11.15" fill="#12c7e6"/><rect x="455.6" y="218.2" width="32.25" height="11.15" fill="#19cee3"/><rect x="487.25" y="218.2" width="11.15" height="11.15" fill="#12c7e6"/><rect x="497.8" y="218.2" width="11.15" height="11.15" fill="#0bc0e8"/><rect x="508.35" y="218.2" width="11.15" height="11.15" fill="#04b8ea"/><rect x="518.9" y="218.2" width="11.15" height="11.15" fill="#0ba8ef"/><rect x="529.45" y="218.2" width="53.35" height="11.15" fill="#129ff1"/><rect x="582.2" y="218.2" width="11.15" height="11.15" fill="#0ba8ef"/><rect x="592.75" y="218.2" width="11.15" height="11.15" fill="#04b0ed"/><rect x="603.3" y="218.2" width="11.15" height="11.15" fill="#04b8ea"/><rect x="613.85" y="218.2" width="11.15" height="11.15" fill="#19cee3"/><rect x="624.4" y="218.2" width="11.15" height="11.15" fill="#28dbde"/><rect x="634.95" y="218.2" width="11.15" height="11.15" fill="#37e6d8"/><rect x="645.5" y="218.2" width="11.15" height="11.15" fill="#3eead5"/><rect x="656.05" y="218.2" width="11.15" height="11.15" fill="#2fe1db"/><rect x="666.6" y="218.2" width="11.15" height="11.15" fill="#19cee3"/><rect x="677.15" y="218.2" width="11.15" height="11.15" fill="#0bc0e8"/><rect x="687.7" y="218.2" width="11.15" height="11.15" fill="#04b8ea"/><rect x="698.25" y="218.2" width="137.75" height="11.15" fill="#04b0ed"/><rect x="54.7" y="207.65" width="95.55" height="11.15" fill="#04b0ed"/><rect x="149.65" y="207.65" width="21.7" height="11.15" fill="#04b8ea"/><rect x="170.75" y="207.65" width="11.15" height="11.15" fill="#12c7e6"/><rect x="181.3" y="207.65" width="11.15" height="11.15" fill="#21d5e1"/><rect x="191.85" y="207.65" width="11.15" height="11.15" fill="#37e6d8"/><rect x="202.4" y="207.65" width="11.15" height="11.15" fill="#4df3ce"/><rect x="212.95" y="207.65" width="11.15" height="11.15" fill="#5bf9c7"/><rect x="223.5" y="207.65" width="11.15" height="11.15" fill="#62fbc4"/><rect x="234.05" y="207.65" width="11.15" height="11.15" fill="#5bf9c7"/><rect x="244.6" y="207.65" width="11.15" height="11.15" fill="#45efd2"/><rect x="255.15" y="207.65" width="11.15" height="11.15" fill="#37e6d8"/><rect x="265.7" y="207.65" width="11.15" height="11.15" fill="#21d5e1"/><rect x="276.25" y="207.65" width="11.15" height="11.15" fill="#12c7e6"/><rect x="286.8" y="207.65" width="32.25" height="11.15" fill="#0bc0e8"/><rect x="318.45" y="207.65" width="21.7" height="11.15" fill="#12c7e6"/><rect x="339.55" y="207.65" width="63.9" height="11.15" fill="#0bc0e8"/><rect x="402.85" y="207.65" width="42.8" height="11.15" fill="#12c7e6"/><rect x="445.05" y="207.65" width="21.7" height="11.15" fill="#19cee3"/><rect x="466.15" y="207.65" width="11.15" height="11.15" fill="#21d5e1"/><rect x="476.7" y="207.65" width="21.7" height="11.15" fill="#19cee3"/><rect x="497.8" y="207.65" width="11.15" height="11.15" fill="#12c7e6"/><rect x="508.35" y="207.65" width="11.15" height="11.15" fill="#0bc0e8"/><rect x="518.9" y="207.65" width="11.15" height="11.15" fill="#04b8ea"/><rect x="529.45" y="207.65" width="21.7" height="11.15" fill="#04b0ed"/><rect x="550.55" y="207.65" width="42.8" height="11.15" fill="#0ba8ef"/><rect x="592.75" y="207.65" width="11.15" height="11.15" fill="#04b0ed"/><rect x="603.3" y="207.65" width="11.15" height="11.15" fill="#04b8ea"/><rect x="613.85" y="207.65" width="11.15" height="11.15" fill="#12c7e6"/><rect x="624.4" y="207.65" width="11.15" height="11.15" fill="#28dbde"/><rect x="634.95" y="207.65" width="21.7" height="11.15" fill="#37e6d8"/><rect x="656.05" y="207.65" width="11.15" height="11.15" fill="#2fe1db"/><rect x="666.6" y="207.65" width="11.15" height="11.15" fill="#19cee3"/><rect x="677.15" y="207.65" width="11.15" height="11.15" fill="#0bc0e8"/><rect x="687.7" y="207.65" width="11.15" height="11.15" fill="#04b8ea"/><rect x="698.25" y="207.65" width="137.75" height="11.15" fill="#04b0ed"/><rect x="54.7" y="197.1" width="106.1" height="11.15" fill="#04b0ed"/><rect x="160.2" y="197.1" width="11.15" height="11.15" fill="#04b8ea"/><rect x="170.75" y="197.1" width="11.15" height="11.15" fill="#0bc0e8"/><rect x="181.3" y="197.1" width="11.15" height="11.15" fill="#19cee3"/><rect x="191.85" y="197.1" width="11.15" height="11.15" fill="#28dbde"/><rect x="202.4" y="197.1" width="11.15" height="11.15" fill="#45efd2"/><rect x="212.95" y="197.1" width="11.15" height="11.15" fill="#5bf9c7"/><rect x="223.5" y="197.1" width="32.25" height="11.15" fill="#62fbc4"/><rect x="255.15" y="197.1" width="11.15" height="11.15" fill="#54f6cb"/><rect x="265.7" y="197.1" width="11.15" height="11.15" fill="#3eead5"/><rect x="276.25" y="197.1" width="11.15" height="11.15" fill="#28dbde"/><rect x="286.8" y="197.1" width="11.15" height="11.15" fill="#19cee3"/><rect x="297.35" y="197.1" width="42.8" height="11.15" fill="#0bc0e8"/><rect x="339.55" y="197.1" width="42.8" height="11.15" fill="#04b8ea"/><rect x="381.75" y="197.1" width="63.9" height="11.15" fill="#0bc0e8"/><rect x="445.05" y="197.1" width="11.15" height="11.15" fill="#12c7e6"/><rect x="455.6" y="197.1" width="42.8" height="11.15" fill="#19cee3"/><rect x="497.8" y="197.1" width="21.7" height="11.15" fill="#12c7e6"/><rect x="518.9" y="197.1" width="21.7" height="11.15" fill="#0bc0e8"/><rect x="540" y="197.1" width="21.7" height="11.15" fill="#04b8ea"/><rect x="561.1" y="197.1" width="21.7" height="11.15" fill="#04b0ed"/><rect x="582.2" y="197.1" width="11.15" height="11.15" fill="#0ba8ef"/><rect x="592.75" y="197.1" width="21.7" height="11.15" fill="#04b0ed"/><rect x="613.85" y="197.1" width="11.15" height="11.15" fill="#0bc0e8"/><rect x="624.4" y="197.1" width="11.15" height="11.15" fill="#19cee3"/><rect x="634.95" y="197.1" width="11.15" height="11.15" fill="#28dbde"/><rect x="645.5" y="197.1" width="11.15" height="11.15" fill="#2fe1db"/><rect x="656.05" y="197.1" width="11.15" height="11.15" fill="#21d5e1"/><rect x="666.6" y="197.1" width="11.15" height="11.15" fill="#19cee3"/><rect x="677.15" y="197.1" width="11.15" height="11.15" fill="#0bc0e8"/><rect x="687.7" y="197.1" width="11.15" height="11.15" fill="#04b8ea"/><rect x="698.25" y="197.1" width="137.75" height="11.15" fill="#04b0ed"/><rect x="54.7" y="186.55" width="116.65" height="11.15" fill="#04b0ed"/><rect x="170.75" y="186.55" width="11.15" height="11.15" fill="#04b8ea"/><rect x="181.3" y="186.55" width="11.15" height="11.15" fill="#0bc0e8"/><rect x="191.85" y="186.55" width="11.15" height="11.15" fill="#19cee3"/><rect x="202.4" y="186.55" width="11.15" height="11.15" fill="#2fe1db"/><rect x="212.95" y="186.55" width="11.15" height="11.15" fill="#3eead5"/><rect x="223.5" y="186.55" width="11.15" height="11.15" fill="#54f6cb"/><rect x="234.05" y="186.55" width="11.15" height="11.15" fill="#62fbc4"/><rect x="244.6" y="186.55" width="21.7" height="11.15" fill="#71febc"/><rect x="265.7" y="186.55" width="11.15" height="11.15" fill="#5bf9c7"/><rect x="276.25" y="186.55" width="11.15" height="11.15" fill="#3eead5"/><rect x="286.8" y="186.55" width="11.15" height="11.15" fill="#21d5e1"/><rect x="297.35" y="186.55" width="11.15" height="11.15" fill="#12c7e6"/><rect x="307.9" y="186.55" width="11.15" height="11.15" fill="#04b8ea"/><rect x="318.45" y="186.55" width="11.15" height="11.15" fill="#04b0ed"/><rect x="329" y="186.55" width="42.8" height="11.15" fill="#0ba8ef"/><rect x="371.2" y="186.55" width="11.15" height="11.15" fill="#04b0ed"/><rect x="381.75" y="186.55" width="11.15" height="11.15" fill="#04b8ea"/><rect x="392.3" y="186.55" width="21.7" height="11.15" fill="#0bc0e8"/><rect x="413.4" y="186.55" width="32.25" height="11.15" fill="#04b8ea"/><rect x="445.05" y="186.55" width="21.7" height="11.15" fill="#0bc0e8"/><rect x="466.15" y="186.55" width="74.45" height="11.15" fill="#12c7e6"/><rect x="540" y="186.55" width="21.7" height="11.15" fill="#0bc0e8"/><rect x="561.1" y="186.55" width="11.15" height="11.15" fill="#04b8ea"/><rect x="571.65" y="186.55" width="11.15" height="11.15" fill="#04b0ed"/><rect x="582.2" y="186.55" width="32.25" height="11.15" fill="#0ba8ef"/><rect x="613.85" y="186.55" width="11.15" height="11.15" fill="#04b0ed"/><rect x="624.4" y="186.55" width="11.15" height="11.15" fill="#0bc0e8"/><rect x="634.95" y="186.55" width="32.25" height="11.15" fill="#19cee3"/><rect x="666.6" y="186.55" width="11.15" height="11.15" fill="#0bc0e8"/><rect x="677.15" y="186.55" width="21.7" height="11.15" fill="#04b8ea"/><rect x="698.25" y="186.55" width="137.75" height="11.15" fill="#04b0ed"/><rect x="54.7" y="176" width="127.2" height="11.15" fill="#04b0ed"/><rect x="181.3" y="176" width="11.15" height="11.15" fill="#04b8ea"/><rect x="191.85" y="176" width="11.15" height="11.15" fill="#0bc0e8"/><rect x="202.4" y="176" width="11.15" height="11.15" fill="#12c7e6"/><rect x="212.95" y="176" width="11.15" height="11.15" fill="#28dbde"/><rect x="223.5" y="176" width="11.15" height="11.15" fill="#3eead5"/><rect x="234.05" y="176" width="11.15" height="11.15" fill="#5bf9c7"/><rect x="244.6" y="176" width="11.15" height="11.15" fill="#71febc"/><rect x="255.15" y="176" width="11.15" height="11.15" fill="#78ffb8"/><rect x="265.7" y="176" width="11.15" height="11.15" fill="#71febc"/><rect x="276.25" y="176" width="11.15" height="11.15" fill="#54f6cb"/><rect x="286.8" y="176" width="11.15" height="11.15" fill="#37e6d8"/><rect x="297.35" y="176" width="11.15" height="11.15" fill="#19cee3"/><rect x="307.9" y="176" width="11.15" height="11.15" fill="#04b8ea"/><rect x="318.45" y="176" width="11.15" height="11.15" fill="#0ba8ef"/><rect x="329" y="176" width="11.15" height="11.15" fill="#129ff1"/><rect x="339.55" y="176" width="21.7" height="11.15" fill="#1996f3"/><rect x="360.65" y="176" width="11.15" height="11.15" fill="#129ff1"/><rect x="371.2" y="176" width="11.15" height="11.15" fill="#0ba8ef"/><rect x="381.75" y="176" width="11.15" height="11.15" fill="#04b0ed"/><rect x="392.3" y="176" width="11.15" height="11.15" fill="#04b8ea"/><rect x="402.85" y="176" width="21.7" height="11.15" fill="#04b0ed"/><rect x="423.95" y="176" width="21.7" height="11.15" fill="#0ba8ef"/><rect x="445.05" y="176" width="21.7" height="11.15" fill="#04b0ed"/><rect x="466.15" y="176" width="11.15" height="11.15" fill="#04b8ea"/><rect x="476.7" y="176" width="11.15" height="11.15" fill="#0bc0e8"/><rect x="487.25" y="176" width="21.7" height="11.15" fill="#12c7e6"/><rect x="508.35" y="176" width="21.7" height="11.15" fill="#19cee3"/><rect x="529.45" y="176" width="11.15" height="11.15" fill="#21d5e1"/><rect x="540" y="176" width="11.15" height="11.15" fill="#19cee3"/><rect x="550.55" y="176" width="11.15" height="11.15" fill="#12c7e6"/><rect x="561.1" y="176" width="11.15" height="11.15" fill="#0bc0e8"/><rect x="571.65" y="176" width="11.15" height="11.15" fill="#04b0ed"/><rect x="582.2" y="176" width="32.25" height="11.15" fill="#129ff1"/><rect x="613.85" y="176" width="11.15" height="11.15" fill="#0ba8ef"/><rect x="624.4" y="176" width="11.15" height="11.15" fill="#04b0ed"/><rect x="634.95" y="176" width="32.25" height="11.15" fill="#0bc0e8"/><rect x="666.6" y="176" width="21.7" height="11.15" fill="#04b8ea"/><rect x="687.7" y="176" width="148.3" height="11.15" fill="#04b0ed"/><rect x="54.7" y="165.45" width="137.75" height="11.15" fill="#04b0ed"/><rect x="191.85" y="165.45" width="11.15" height="11.15" fill="#04b8ea"/><rect x="202.4" y="165.45" width="11.15" height="11.15" fill="#0bc0e8"/><rect x="212.95" y="165.45" width="11.15" height="11.15" fill="#12c7e6"/><rect x="223.5" y="165.45" width="11.15" height="11.15" fill="#21d5e1"/><rect x="234.05" y="165.45" width="11.15" height="11.15" fill="#3eead5"/><rect x="244.6" y="165.45" width="11.15" height="11.15" fill="#5bf9c7"/><rect x="255.15" y="165.45" width="11.15" height="11.15" fill="#6afdc0"/><rect x="265.7" y="165.45" width="11.15" height="11.15" fill="#71febc"/><rect x="276.25" y="165.45" width="11.15" height="11.15" fill="#6afdc0"/><rect x="286.8" y="165.45" width="11.15" height="11.15" fill="#54f6cb"/><rect x="297.35" y="165.45" width="11.15" height="11.15" fill="#2fe1db"/><rect x="307.9" y="165.45" width="11.15" height="11.15" fill="#12c7e6"/><rect x="318.45" y="165.45" width="11.15" height="11.15" fill="#0ba8ef"/><rect x="329" y="165.45" width="11.15" height="11.15" fill="#1996f3"/><rect x="339.55" y="165.45" width="11.15" height="11.15" fill="#218cf4"/><rect x="350.1" y="165.45" width="11.15" height="11.15" fill="#1996f3"/><rect x="360.65" y="165.45" width="11.15" height="11.15" fill="#129ff1"/><rect x="371.2" y="165.45" width="21.7" height="11.15" fill="#0ba8ef"/><rect x="392.3" y="165.45" width="11.15" height="11.15" fill="#04b0ed"/><rect x="402.85" y="165.45" width="21.7" height="11.15" fill="#0ba8ef"/><rect x="423.95" y="165.45" width="32.25" height="11.15" fill="#129ff1"/><rect x="455.6" y="165.45" width="11.15" height="11.15" fill="#0ba8ef"/><rect x="466.15" y="165.45" width="11.15" height="11.15" fill="#04b0ed"/><rect x="476.7" y="165.45" width="11.15" height="11.15" fill="#04b8ea"/><rect x="487.25" y="165.45" width="11.15" height="11.15" fill="#0bc0e8"/><rect x="497.8" y="165.45" width="11.15" height="11.15" fill="#12c7e6"/><rect x="508.35" y="165.45" width="11.15" height="11.15" fill="#21d5e1"/><rect x="518.9" y="165.45" width="32.25" height="11.15" fill="#28dbde"/><rect x="550.55" y="165.45" width="11.15" height="11.15" fill="#19cee3"/><rect x="561.1" y="165.45" width="11.15" height="11.15" fill="#12c7e6"/><rect x="571.65" y="165.45" width="11.15" height="11.15" fill="#04b0ed"/><rect x="582.2" y="165.45" width="11.15" height="11.15" fill="#129ff1"/><rect x="592.75" y="165.45" width="32.25" height="11.15" fill="#1996f3"/><rect x="624.4" y="165.45" width="11.15" height="11.15" fill="#0ba8ef"/><rect x="634.95" y="165.45" width="11.15" height="11.15" fill="#04b0ed"/><rect x="645.5" y="165.45" width="32.25" height="11.15" fill="#04b8ea"/><rect x="677.15" y="165.45" width="158.85" height="11.15" fill="#04b0ed"/><rect x="54.7" y="154.9" width="148.3" height="11.15" fill="#04b0ed"/><rect x="202.4" y="154.9" width="21.7" height="11.15" fill="#04b8ea"/><rect x="223.5" y="154.9" width="11.15" height="11.15" fill="#12c7e6"/><rect x="234.05" y="154.9" width="11.15" height="11.15" fill="#21d5e1"/><rect x="244.6" y="154.9" width="11.15" height="11.15" fill="#37e6d8"/><rect x="255.15" y="154.9" width="11.15" height="11.15" fill="#54f6cb"/><rect x="265.7" y="154.9" width="11.15" height="11.15" fill="#71febc"/><rect x="276.25" y="154.9" width="11.15" height="11.15" fill="#80ffb4"/><rect x="286.8" y="154.9" width="11.15" height="11.15" fill="#78ffb8"/><rect x="297.35" y="154.9" width="11.15" height="11.15" fill="#5bf9c7"/><rect x="307.9" y="154.9" width="11.15" height="11.15" fill="#28dbde"/><rect x="318.45" y="154.9" width="11.15" height="11.15" fill="#0bc0e8"/><rect x="329" y="154.9" width="11.15" height="11.15" fill="#0ba8ef"/><rect x="339.55" y="154.9" width="32.25" height="11.15" fill="#129ff1"/><rect x="371.2" y="154.9" width="11.15" height="11.15" fill="#0ba8ef"/><rect x="381.75" y="154.9" width="21.7" height="11.15" fill="#04b0ed"/><rect x="402.85" y="154.9" width="21.7" height="11.15" fill="#0ba8ef"/><rect x="423.95" y="154.9" width="32.25" height="11.15" fill="#129ff1"/><rect x="455.6" y="154.9" width="11.15" height="11.15" fill="#0ba8ef"/><rect x="466.15" y="154.9" width="11.15" height="11.15" fill="#04b0ed"/><rect x="476.7" y="154.9" width="11.15" height="11.15" fill="#04b8ea"/><rect x="487.25" y="154.9" width="11.15" height="11.15" fill="#0bc0e8"/><rect x="497.8" y="154.9" width="11.15" height="11.15" fill="#19cee3"/><rect x="508.35" y="154.9" width="11.15" height="11.15" fill="#21d5e1"/><rect x="518.9" y="154.9" width="11.15" height="11.15" fill="#28dbde"/><rect x="529.45" y="154.9" width="21.7" height="11.15" fill="#2fe1db"/><rect x="550.55" y="154.9" width="11.15" height="11.15" fill="#21d5e1"/><rect x="561.1" y="154.9" width="11.15" height="11.15" fill="#12c7e6"/><rect x="571.65" y="154.9" width="11.15" height="11.15" fill="#04b8ea"/><rect x="582.2" y="154.9" width="11.15" height="11.15" fill="#0ba8ef"/><rect x="592.75" y="154.9" width="11.15" height="11.15" fill="#129ff1"/><rect x="603.3" y="154.9" width="21.7" height="11.15" fill="#1996f3"/><rect x="624.4" y="154.9" width="11.15" height="11.15" fill="#129ff1"/><rect x="634.95" y="154.9" width="21.7" height="11.15" fill="#0ba8ef"/><rect x="656.05" y="154.9" width="179.95" height="11.15" fill="#04b0ed"/><rect x="54.7" y="144.35" width="158.85" height="11.15" fill="#04b0ed"/><rect x="212.95" y="144.35" width="21.7" height="11.15" fill="#04b8ea"/><rect x="234.05" y="144.35" width="11.15" height="11.15" fill="#0bc0e8"/><rect x="244.6" y="144.35" width="11.15" height="11.15" fill="#21d5e1"/><rect x="255.15" y="144.35" width="11.15" height="11.15" fill="#3eead5"/><rect x="265.7" y="144.35" width="11.15" height="11.15" fill="#6afdc0"/><rect x="276.25" y="144.35" width="11.15" height="11.15" fill="#8efeac"/><rect x="286.8" y="144.35" width="11.15" height="11.15" fill="#95fda8"/><rect x="297.35" y="144.35" width="11.15" height="11.15" fill="#80ffb4"/><rect x="307.9" y="144.35" width="11.15" height="11.15" fill="#54f6cb"/><rect x="318.45" y="144.35" width="11.15" height="11.15" fill="#2fe1db"/><rect x="329" y="144.35" width="11.15" height="11.15" fill="#19cee3"/><rect x="339.55" y="144.35" width="11.15" height="11.15" fill="#0bc0e8"/><rect x="350.1" y="144.35" width="63.9" height="11.15" fill="#04b8ea"/><rect x="413.4" y="144.35" width="21.7" height="11.15" fill="#04b0ed"/><rect x="434.5" y="144.35" width="11.15" height="11.15" fill="#0ba8ef"/><rect x="445.05" y="144.35" width="21.7" height="11.15" fill="#04b0ed"/><rect x="466.15" y="144.35" width="11.15" height="11.15" fill="#04b8ea"/><rect x="476.7" y="144.35" width="11.15" height="11.15" fill="#0bc0e8"/><rect x="487.25" y="144.35" width="11.15" height="11.15" fill="#12c7e6"/><rect x="497.8" y="144.35" width="11.15" height="11.15" fill="#19cee3"/><rect x="508.35" y="144.35" width="11.15" height="11.15" fill="#28dbde"/><rect x="518.9" y="144.35" width="32.25" height="11.15" fill="#2fe1db"/><rect x="550.55" y="144.35" width="11.15" height="11.15" fill="#28dbde"/><rect x="561.1" y="144.35" width="11.15" height="11.15" fill="#19cee3"/><rect x="571.65" y="144.35" width="11.15" height="11.15" fill="#12c7e6"/><rect x="582.2" y="144.35" width="11.15" height="11.15" fill="#04b8ea"/><rect x="592.75" y="144.35" width="11.15" height="11.15" fill="#04b0ed"/><rect x="603.3" y="144.35" width="11.15" height="11.15" fill="#0ba8ef"/><rect x="613.85" y="144.35" width="32.25" height="11.15" fill="#129ff1"/><rect x="645.5" y="144.35" width="11.15" height="11.15" fill="#0ba8ef"/><rect x="656.05" y="144.35" width="179.95" height="11.15" fill="#04b0ed"/><rect x="54.7" y="133.8" width="158.85" height="11.15" fill="#04b0ed"/><rect x="212.95" y="133.8" width="32.25" height="11.15" fill="#04b8ea"/><rect x="244.6" y="133.8" width="11.15" height="11.15" fill="#12c7e6"/><rect x="255.15" y="133.8" width="11.15" height="11.15" fill="#2fe1db"/><rect x="265.7" y="133.8" width="11.15" height="11.15" fill="#54f6cb"/><rect x="276.25" y="133.8" width="11.15" height="11.15" fill="#80ffb4"/><rect x="286.8" y="133.8" width="11.15" height="11.15" fill="#95fda8"/><rect x="297.35" y="133.8" width="11.15" height="11.15" fill="#8efeac"/><rect x="307.9" y="133.8" width="11.15" height="11.15" fill="#80ffb4"/><rect x="318.45" y="133.8" width="11.15" height="11.15" fill="#71febc"/><rect x="329" y="133.8" width="11.15" height="11.15" fill="#62fbc4"/><rect x="339.55" y="133.8" width="11.15" height="11.15" fill="#4df3ce"/><rect x="350.1" y="133.8" width="11.15" height="11.15" fill="#37e6d8"/><rect x="360.65" y="133.8" width="11.15" height="11.15" fill="#28dbde"/><rect x="371.2" y="133.8" width="21.7" height="11.15" fill="#19cee3"/><rect x="392.3" y="133.8" width="63.9" height="11.15" fill="#12c7e6"/><rect x="455.6" y="133.8" width="21.7" height="11.15" fill="#19cee3"/><rect x="476.7" y="133.8" width="11.15" height="11.15" fill="#21d5e1"/><rect x="487.25" y="133.8" width="11.15" height="11.15" fill="#28dbde"/><rect x="497.8" y="133.8" width="21.7" height="11.15" fill="#2fe1db"/><rect x="518.9" y="133.8" width="32.25" height="11.15" fill="#37e6d8"/><rect x="550.55" y="133.8" width="11.15" height="11.15" fill="#2fe1db"/><rect x="561.1" y="133.8" width="21.7" height="11.15" fill="#28dbde"/><rect x="582.2" y="133.8" width="11.15" height="11.15" fill="#21d5e1"/><rect x="592.75" y="133.8" width="11.15" height="11.15" fill="#19cee3"/><rect x="603.3" y="133.8" width="11.15" height="11.15" fill="#12c7e6"/><rect x="613.85" y="133.8" width="11.15" height="11.15" fill="#04b8ea"/><rect x="624.4" y="133.8" width="11.15" height="11.15" fill="#0ba8ef"/><rect x="634.95" y="133.8" width="11.15" height="11.15" fill="#129ff1"/><rect x="645.5" y="133.8" width="11.15" height="11.15" fill="#0ba8ef"/><rect x="656.05" y="133.8" width="179.95" height="11.15" fill="#04b0ed"/><rect x="54.7" y="123.25" width="148.3" height="11.15" fill="#04b0ed"/><rect x="202.4" y="123.25" width="42.8" height="11.15" fill="#04b8ea"/><rect x="244.6" y="123.25" width="11.15" height="11.15" fill="#0bc0e8"/><rect x="255.15" y="123.25" width="11.15" height="11.15" fill="#21d5e1"/><rect x="265.7" y="123.25" width="11.15" height="11.15" fill="#37e6d8"/><rect x="276.25" y="123.25" width="11.15" height="11.15" fill="#5bf9c7"/><rect x="286.8" y="123.25" width="11.15" height="11.15" fill="#71febc"/><rect x="297.35" y="123.25" width="11.15" height="11.15" fill="#8efeac"/><rect x="307.9" y="123.25" width="11.15" height="11.15" fill="#a4f99f"/><rect x="318.45" y="123.25" width="21.7" height="11.15" fill="#b2f396"/><rect x="339.55" y="123.25" width="11.15" height="11.15" fill="#95fda8"/><rect x="350.1" y="123.25" width="11.15" height="11.15" fill="#78ffb8"/><rect x="360.65" y="123.25" width="11.15" height="11.15" fill="#5bf9c7"/><rect x="371.2" y="123.25" width="11.15" height="11.15" fill="#45efd2"/><rect x="381.75" y="123.25" width="11.15" height="11.15" fill="#37e6d8"/><rect x="392.3" y="123.25" width="11.15" height="11.15" fill="#2fe1db"/><rect x="402.85" y="123.25" width="32.25" height="11.15" fill="#28dbde"/><rect x="434.5" y="123.25" width="21.7" height="11.15" fill="#2fe1db"/><rect x="455.6" y="123.25" width="11.15" height="11.15" fill="#37e6d8"/><rect x="466.15" y="123.25" width="21.7" height="11.15" fill="#3eead5"/><rect x="487.25" y="123.25" width="21.7" height="11.15" fill="#45efd2"/><rect x="508.35" y="123.25" width="32.25" height="11.15" fill="#4df3ce"/><rect x="540" y="123.25" width="21.7" height="11.15" fill="#45efd2"/><rect x="561.1" y="123.25" width="42.8" height="11.15" fill="#3eead5"/><rect x="603.3" y="123.25" width="11.15" height="11.15" fill="#2fe1db"/><rect x="613.85" y="123.25" width="11.15" height="11.15" fill="#19cee3"/><rect x="624.4" y="123.25" width="11.15" height="11.15" fill="#04b8ea"/><rect x="634.95" y="123.25" width="32.25" height="11.15" fill="#04b0ed"/><rect x="666.6" y="123.25" width="53.35" height="11.15" fill="#04b8ea"/><rect x="719.35" y="123.25" width="116.65" height="11.15" fill="#04b0ed"/><rect x="54.7" y="112.7" width="137.75" height="11.15" fill="#04b0ed"/><rect x="191.85" y="112.7" width="53.35" height="11.15" fill="#04b8ea"/><rect x="244.6" y="112.7" width="11.15" height="11.15" fill="#0bc0e8"/><rect x="255.15" y="112.7" width="11.15" height="11.15" fill="#12c7e6"/><rect x="265.7" y="112.7" width="11.15" height="11.15" fill="#21d5e1"/><rect x="276.25" y="112.7" width="11.15" height="11.15" fill="#37e6d8"/><rect x="286.8" y="112.7" width="11.15" height="11.15" fill="#4df3ce"/><rect x="297.35" y="112.7" width="11.15" height="11.15" fill="#71febc"/><rect x="307.9" y="112.7" width="11.15" height="11.15" fill="#9dfba3"/><rect x="318.45" y="112.7" width="11.15" height="11.15" fill="#c1ea8c"/><rect x="329" y="112.7" width="21.7" height="11.15" fill="#d0e183"/><rect x="350.1" y="112.7" width="11.15" height="11.15" fill="#baef91"/><rect x="360.65" y="112.7" width="11.15" height="11.15" fill="#9dfba3"/><rect x="371.2" y="112.7" width="11.15" height="11.15" fill="#80ffb4"/><rect x="381.75" y="112.7" width="11.15" height="11.15" fill="#5bf9c7"/><rect x="392.3" y="112.7" width="11.15" height="11.15" fill="#45efd2"/><rect x="402.85" y="112.7" width="32.25" height="11.15" fill="#3eead5"/><rect x="434.5" y="112.7" width="11.15" height="11.15" fill="#45efd2"/><rect x="445.05" y="112.7" width="11.15" height="11.15" fill="#4df3ce"/><rect x="455.6" y="112.7" width="11.15" height="11.15" fill="#54f6cb"/><rect x="466.15" y="112.7" width="11.15" height="11.15" fill="#5bf9c7"/><rect x="476.7" y="112.7" width="32.25" height="11.15" fill="#62fbc4"/><rect x="508.35" y="112.7" width="11.15" height="11.15" fill="#6afdc0"/><rect x="518.9" y="112.7" width="21.7" height="11.15" fill="#62fbc4"/><rect x="540" y="112.7" width="53.35" height="11.15" fill="#5bf9c7"/><rect x="592.75" y="112.7" width="11.15" height="11.15" fill="#54f6cb"/><rect x="603.3" y="112.7" width="11.15" height="11.15" fill="#45efd2"/><rect x="613.85" y="112.7" width="11.15" height="11.15" fill="#2fe1db"/><rect x="624.4" y="112.7" width="11.15" height="11.15" fill="#12c7e6"/><rect x="634.95" y="112.7" width="106.1" height="11.15" fill="#04b8ea"/><rect x="740.45" y="112.7" width="95.55" height="11.15" fill="#04b0ed"/><rect x="54.7" y="102.15" width="127.2" height="11.15" fill="#04b0ed"/><rect x="181.3" y="102.15" width="63.9" height="11.15" fill="#04b8ea"/><rect x="244.6" y="102.15" width="21.7" height="11.15" fill="#0bc0e8"/><rect x="265.7" y="102.15" width="11.15" height="11.15" fill="#12c7e6"/><rect x="276.25" y="102.15" width="11.15" height="11.15" fill="#21d5e1"/><rect x="286.8" y="102.15" width="11.15" height="11.15" fill="#2fe1db"/><rect x="297.35" y="102.15" width="11.15" height="11.15" fill="#4df3ce"/><rect x="307.9" y="102.15" width="11.15" height="11.15" fill="#6afdc0"/><rect x="318.45" y="102.15" width="11.15" height="11.15" fill="#95fda8"/><rect x="329" y="102.15" width="11.15" height="11.15" fill="#b2f396"/><rect x="339.55" y="102.15" width="11.15" height="11.15" fill="#d0e183"/><rect x="350.1" y="102.15" width="11.15" height="11.15" fill="#d7db7e"/><rect x="360.65" y="102.15" width="11.15" height="11.15" fill="#d0e183"/><rect x="371.2" y="102.15" width="11.15" height="11.15" fill="#abf69a"/><rect x="381.75" y="102.15" width="11.15" height="11.15" fill="#80ffb4"/><rect x="392.3" y="102.15" width="11.15" height="11.15" fill="#62fbc4"/><rect x="402.85" y="102.15" width="11.15" height="11.15" fill="#54f6cb"/><rect x="413.4" y="102.15" width="21.7" height="11.15" fill="#4df3ce"/><rect x="434.5" y="102.15" width="11.15" height="11.15" fill="#54f6cb"/><rect x="445.05" y="102.15" width="11.15" height="11.15" fill="#5bf9c7"/><rect x="455.6" y="102.15" width="11.15" height="11.15" fill="#62fbc4"/><rect x="466.15" y="102.15" width="11.15" height="11.15" fill="#6afdc0"/><rect x="476.7" y="102.15" width="11.15" height="11.15" fill="#71febc"/><rect x="487.25" y="102.15" width="53.35" height="11.15" fill="#78ffb8"/><rect x="540" y="102.15" width="21.7" height="11.15" fill="#71febc"/><rect x="561.1" y="102.15" width="32.25" height="11.15" fill="#6afdc0"/><rect x="592.75" y="102.15" width="11.15" height="11.15" fill="#62fbc4"/><rect x="603.3" y="102.15" width="11.15" height="11.15" fill="#54f6cb"/><rect x="613.85" y="102.15" width="11.15" height="11.15" fill="#37e6d8"/><rect x="624.4" y="102.15" width="11.15" height="11.15" fill="#21d5e1"/><rect x="634.95" y="102.15" width="11.15" height="11.15" fill="#12c7e6"/><rect x="645.5" y="102.15" width="32.25" height="11.15" fill="#0bc0e8"/><rect x="677.15" y="102.15" width="74.45" height="11.15" fill="#04b8ea"/><rect x="751" y="102.15" width="85" height="11.15" fill="#04b0ed"/><rect x="54.7" y="91.6" width="116.65" height="11.15" fill="#04b0ed"/><rect x="170.75" y="91.6" width="63.9" height="11.15" fill="#04b8ea"/><rect x="234.05" y="91.6" width="32.25" height="11.15" fill="#0bc0e8"/><rect x="265.7" y="91.6" width="11.15" height="11.15" fill="#12c7e6"/><rect x="276.25" y="91.6" width="11.15" height="11.15" fill="#19cee3"/><rect x="286.8" y="91.6" width="11.15" height="11.15" fill="#21d5e1"/><rect x="297.35" y="91.6" width="11.15" height="11.15" fill="#2fe1db"/><rect x="307.9" y="91.6" width="11.15" height="11.15" fill="#3eead5"/><rect x="318.45" y="91.6" width="11.15" height="11.15" fill="#5bf9c7"/><rect x="329" y="91.6" width="11.15" height="11.15" fill="#87ffb0"/><rect x="339.55" y="91.6" width="11.15" height="11.15" fill="#abf69a"/><rect x="350.1" y="91.6" width="11.15" height="11.15" fill="#c8e688"/><rect x="360.65" y="91.6" width="11.15" height="11.15" fill="#d0e183"/><rect x="371.2" y="91.6" width="11.15" height="11.15" fill="#baef91"/><rect x="381.75" y="91.6" width="11.15" height="11.15" fill="#95fda8"/><rect x="392.3" y="91.6" width="11.15" height="11.15" fill="#78ffb8"/><rect x="402.85" y="91.6" width="11.15" height="11.15" fill="#6afdc0"/><rect x="413.4" y="91.6" width="11.15" height="11.15" fill="#62fbc4"/><rect x="423.95" y="91.6" width="11.15" height="11.15" fill="#5bf9c7"/><rect x="434.5" y="91.6" width="21.7" height="11.15" fill="#62fbc4"/><rect x="455.6" y="91.6" width="11.15" height="11.15" fill="#6afdc0"/><rect x="466.15" y="91.6" width="11.15" height="11.15" fill="#71febc"/><rect x="476.7" y="91.6" width="21.7" height="11.15" fill="#78ffb8"/><rect x="497.8" y="91.6" width="11.15" height="11.15" fill="#80ffb4"/><rect x="508.35" y="91.6" width="32.25" height="11.15" fill="#87ffb0"/><rect x="540" y="91.6" width="11.15" height="11.15" fill="#80ffb4"/><rect x="550.55" y="91.6" width="21.7" height="11.15" fill="#78ffb8"/><rect x="571.65" y="91.6" width="11.15" height="11.15" fill="#71febc"/><rect x="582.2" y="91.6" width="11.15" height="11.15" fill="#6afdc0"/><rect x="592.75" y="91.6" width="11.15" height="11.15" fill="#62fbc4"/><rect x="603.3" y="91.6" width="11.15" height="11.15" fill="#4df3ce"/><rect x="613.85" y="91.6" width="11.15" height="11.15" fill="#37e6d8"/><rect x="624.4" y="91.6" width="11.15" height="11.15" fill="#28dbde"/><rect x="634.95" y="91.6" width="11.15" height="11.15" fill="#19cee3"/><rect x="645.5" y="91.6" width="11.15" height="11.15" fill="#12c7e6"/><rect x="656.05" y="91.6" width="42.8" height="11.15" fill="#0bc0e8"/><rect x="698.25" y="91.6" width="63.9" height="11.15" fill="#04b8ea"/><rect x="761.55" y="91.6" width="74.45" height="11.15" fill="#04b0ed"/><rect x="54.7" y="81.05" width="106.1" height="11.15" fill="#04b0ed"/><rect x="160.2" y="81.05" width="74.45" height="11.15" fill="#04b8ea"/><rect x="234.05" y="81.05" width="32.25" height="11.15" fill="#0bc0e8"/><rect x="265.7" y="81.05" width="21.7" height="11.15" fill="#12c7e6"/><rect x="286.8" y="81.05" width="11.15" height="11.15" fill="#19cee3"/><rect x="297.35" y="81.05" width="11.15" height="11.15" fill="#21d5e1"/><rect x="307.9" y="81.05" width="11.15" height="11.15" fill="#28dbde"/><rect x="318.45" y="81.05" width="11.15" height="11.15" fill="#3eead5"/><rect x="329" y="81.05" width="11.15" height="11.15" fill="#5bf9c7"/><rect x="339.55" y="81.05" width="11.15" height="11.15" fill="#80ffb4"/><rect x="350.1" y="81.05" width="11.15" height="11.15" fill="#9dfba3"/><rect x="360.65" y="81.05" width="21.7" height="11.15" fill="#abf69a"/><rect x="381.75" y="81.05" width="11.15" height="11.15" fill="#a4f99f"/><rect x="392.3" y="81.05" width="21.7" height="11.15" fill="#9dfba3"/><rect x="413.4" y="81.05" width="11.15" height="11.15" fill="#95fda8"/><rect x="423.95" y="81.05" width="21.7" height="11.15" fill="#8efeac"/><rect x="445.05" y="81.05" width="53.35" height="11.15" fill="#87ffb0"/><rect x="497.8" y="81.05" width="11.15" height="11.15" fill="#8efeac"/><rect x="508.35" y="81.05" width="11.15" height="11.15" fill="#95fda8"/><rect x="518.9" y="81.05" width="11.15" height="11.15" fill="#9dfba3"/><rect x="529.45" y="81.05" width="11.15" height="11.15" fill="#95fda8"/><rect x="540" y="81.05" width="11.15" height="11.15" fill="#8efeac"/><rect x="550.55" y="81.05" width="11.15" height="11.15" fill="#87ffb0"/><rect x="561.1" y="81.05" width="11.15" height="11.15" fill="#78ffb8"/><rect x="571.65" y="81.05" width="11.15" height="11.15" fill="#71febc"/><rect x="582.2" y="81.05" width="11.15" height="11.15" fill="#62fbc4"/><rect x="592.75" y="81.05" width="11.15" height="11.15" fill="#54f6cb"/><rect x="603.3" y="81.05" width="11.15" height="11.15" fill="#45efd2"/><rect x="613.85" y="81.05" width="11.15" height="11.15" fill="#37e6d8"/><rect x="624.4" y="81.05" width="11.15" height="11.15" fill="#28dbde"/><rect x="634.95" y="81.05" width="11.15" height="11.15" fill="#19cee3"/><rect x="645.5" y="81.05" width="21.7" height="11.15" fill="#12c7e6"/><rect x="666.6" y="81.05" width="32.25" height="11.15" fill="#0bc0e8"/><rect x="698.25" y="81.05" width="74.45" height="11.15" fill="#04b8ea"/><rect x="772.1" y="81.05" width="63.9" height="11.15" fill="#04b0ed"/><rect x="54.7" y="70.5" width="106.1" height="11.15" fill="#04b0ed"/><rect x="160.2" y="70.5" width="74.45" height="11.15" fill="#04b8ea"/><rect x="234.05" y="70.5" width="32.25" height="11.15" fill="#0bc0e8"/><rect x="265.7" y="70.5" width="21.7" height="11.15" fill="#12c7e6"/><rect x="286.8" y="70.5" width="21.7" height="11.15" fill="#19cee3"/><rect x="307.9" y="70.5" width="11.15" height="11.15" fill="#21d5e1"/><rect x="318.45" y="70.5" width="11.15" height="11.15" fill="#2fe1db"/><rect x="329" y="70.5" width="11.15" height="11.15" fill="#3eead5"/><rect x="339.55" y="70.5" width="11.15" height="11.15" fill="#54f6cb"/><rect x="350.1" y="70.5" width="11.15" height="11.15" fill="#6afdc0"/><rect x="360.65" y="70.5" width="11.15" height="11.15" fill="#80ffb4"/><rect x="371.2" y="70.5" width="11.15" height="11.15" fill="#9dfba3"/><rect x="381.75" y="70.5" width="11.15" height="11.15" fill="#baef91"/><rect x="392.3" y="70.5" width="11.15" height="11.15" fill="#d0e183"/><rect x="402.85" y="70.5" width="11.15" height="11.15" fill="#d7db7e"/><rect x="413.4" y="70.5" width="11.15" height="11.15" fill="#ded579"/><rect x="423.95" y="70.5" width="11.15" height="11.15" fill="#d7db7e"/><rect x="434.5" y="70.5" width="11.15" height="11.15" fill="#d0e183"/><rect x="445.05" y="70.5" width="11.15" height="11.15" fill="#c8e688"/><rect x="455.6" y="70.5" width="11.15" height="11.15" fill="#baef91"/><rect x="466.15" y="70.5" width="11.15" height="11.15" fill="#abf69a"/><rect x="476.7" y="70.5" width="11.15" height="11.15" fill="#b2f396"/><rect x="487.25" y="70.5" width="11.15" height="11.15" fill="#d0e183"/><rect x="497.8" y="70.5" width="11.15" height="11.15" fill="#edc76f"/><rect x="508.35" y="70.5" width="11.15" height="11.15" fill="#ffb05f"/><rect x="518.9" y="70.5" width="11.15" height="11.15" fill="#f4c069"/><rect x="529.45" y="70.5" width="11.15" height="11.15" fill="#c8e688"/><rect x="540" y="70.5" width="11.15" height="11.15" fill="#a4f99f"/><rect x="550.55" y="70.5" width="11.15" height="11.15" fill="#87ffb0"/><rect x="561.1" y="70.5" width="11.15" height="11.15" fill="#78ffb8"/><rect x="571.65" y="70.5" width="11.15" height="11.15" fill="#6afdc0"/><rect x="582.2" y="70.5" width="11.15" height="11.15" fill="#5bf9c7"/><rect x="592.75" y="70.5" width="11.15" height="11.15" fill="#4df3ce"/><rect x="603.3" y="70.5" width="11.15" height="11.15" fill="#3eead5"/><rect x="613.85" y="70.5" width="11.15" height="11.15" fill="#2fe1db"/><rect x="624.4" y="70.5" width="11.15" height="11.15" fill="#21d5e1"/><rect x="634.95" y="70.5" width="11.15" height="11.15" fill="#19cee3"/><rect x="645.5" y="70.5" width="21.7" height="11.15" fill="#12c7e6"/><rect x="666.6" y="70.5" width="32.25" height="11.15" fill="#0bc0e8"/><rect x="698.25" y="70.5" width="74.45" height="11.15" fill="#04b8ea"/><rect x="772.1" y="70.5" width="63.9" height="11.15" fill="#04b0ed"/><rect x="54.7" y="59.95" width="106.1" height="11.15" fill="#04b0ed"/><rect x="160.2" y="59.95" width="74.45" height="11.15" fill="#04b8ea"/><rect x="234.05" y="59.95" width="42.8" height="11.15" fill="#0bc0e8"/><rect x="276.25" y="59.95" width="21.7" height="11.15" fill="#12c7e6"/><rect x="297.35" y="59.95" width="21.7" height="11.15" fill="#19cee3"/><rect x="318.45" y="59.95" width="11.15" height="11.15" fill="#21d5e1"/><rect x="329" y="59.95" width="11.15" height="11.15" fill="#28dbde"/><rect x="339.55" y="59.95" width="11.15" height="11.15" fill="#37e6d8"/><rect x="350.1" y="59.95" width="11.15" height="11.15" fill="#45efd2"/><rect x="360.65" y="59.95" width="11.15" height="11.15" fill="#62fbc4"/><rect x="371.2" y="59.95" width="11.15" height="11.15" fill="#80ffb4"/><rect x="381.75" y="59.95" width="11.15" height="11.15" fill="#a4f99f"/><rect x="392.3" y="59.95" width="11.15" height="11.15" fill="#c8e688"/><rect x="402.85" y="59.95" width="11.15" height="11.15" fill="#d7db7e"/><rect x="413.4" y="59.95" width="21.7" height="11.15" fill="#ded579"/><rect x="434.5" y="59.95" width="11.15" height="11.15" fill="#d7db7e"/><rect x="445.05" y="59.95" width="11.15" height="11.15" fill="#d0e183"/><rect x="455.6" y="59.95" width="11.15" height="11.15" fill="#c1ea8c"/><rect x="466.15" y="59.95" width="11.15" height="11.15" fill="#d0e183"/><rect x="476.7" y="59.95" width="11.15" height="11.15" fill="#ffa85a"/><rect x="487.25" y="59.95" width="11.15" height="11.15" fill="#ff2412"/><rect x="497.8" y="59.95" width="11.15" height="11.15" fill="#ff2412"/><rect x="508.35" y="59.95" width="11.15" height="11.15" fill="#ff2412"/><rect x="518.9" y="59.95" width="11.15" height="11.15" fill="#ff2412"/><rect x="529.45" y="59.95" width="11.15" height="11.15" fill="#ffa85a"/><rect x="540" y="59.95" width="11.15" height="11.15" fill="#b2f396"/><rect x="550.55" y="59.95" width="11.15" height="11.15" fill="#80ffb4"/><rect x="561.1" y="59.95" width="11.15" height="11.15" fill="#6afdc0"/><rect x="571.65" y="59.95" width="11.15" height="11.15" fill="#54f6cb"/><rect x="582.2" y="59.95" width="11.15" height="11.15" fill="#45efd2"/><rect x="592.75" y="59.95" width="11.15" height="11.15" fill="#3eead5"/><rect x="603.3" y="59.95" width="11.15" height="11.15" fill="#2fe1db"/><rect x="613.85" y="59.95" width="11.15" height="11.15" fill="#28dbde"/><rect x="624.4" y="59.95" width="21.7" height="11.15" fill="#19cee3"/><rect x="645.5" y="59.95" width="21.7" height="11.15" fill="#12c7e6"/><rect x="666.6" y="59.95" width="32.25" height="11.15" fill="#0bc0e8"/><rect x="698.25" y="59.95" width="74.45" height="11.15" fill="#04b8ea"/><rect x="772.1" y="59.95" width="63.9" height="11.15" fill="#04b0ed"/><rect x="54.7" y="49.4" width="127.2" height="11.15" fill="#04b0ed"/><rect x="181.3" y="49.4" width="74.45" height="11.15" fill="#04b8ea"/><rect x="255.15" y="49.4" width="32.25" height="11.15" fill="#0bc0e8"/><rect x="286.8" y="49.4" width="32.25" height="11.15" fill="#12c7e6"/><rect x="318.45" y="49.4" width="21.7" height="11.15" fill="#19cee3"/><rect x="339.55" y="49.4" width="11.15" height="11.15" fill="#21d5e1"/><rect x="350.1" y="49.4" width="11.15" height="11.15" fill="#28dbde"/><rect x="360.65" y="49.4" width="11.15" height="11.15" fill="#37e6d8"/><rect x="371.2" y="49.4" width="11.15" height="11.15" fill="#4df3ce"/><rect x="381.75" y="49.4" width="11.15" height="11.15" fill="#6afdc0"/><rect x="392.3" y="49.4" width="11.15" height="11.15" fill="#78ffb8"/><rect x="402.85" y="49.4" width="11.15" height="11.15" fill="#87ffb0"/><rect x="413.4" y="49.4" width="21.7" height="11.15" fill="#8efeac"/><rect x="434.5" y="49.4" width="32.25" height="11.15" fill="#87ffb0"/><rect x="466.15" y="49.4" width="11.15" height="11.15" fill="#b2f396"/><rect x="476.7" y="49.4" width="11.15" height="11.15" fill="#ff793e"/><rect x="487.25" y="49.4" width="11.15" height="11.15" fill="#ff2412"/><rect x="497.8" y="49.4" width="11.15" height="11.15" fill="#ff2412"/><rect x="508.35" y="49.4" width="11.15" height="11.15" fill="#ff2412"/><rect x="518.9" y="49.4" width="11.15" height="11.15" fill="#ff6f39"/><rect x="529.45" y="49.4" width="11.15" height="11.15" fill="#baef91"/><rect x="540" y="49.4" width="11.15" height="11.15" fill="#78ffb8"/><rect x="550.55" y="49.4" width="11.15" height="11.15" fill="#5bf9c7"/><rect x="561.1" y="49.4" width="11.15" height="11.15" fill="#4df3ce"/><rect x="571.65" y="49.4" width="11.15" height="11.15" fill="#3eead5"/><rect x="582.2" y="49.4" width="11.15" height="11.15" fill="#37e6d8"/><rect x="592.75" y="49.4" width="11.15" height="11.15" fill="#28dbde"/><rect x="603.3" y="49.4" width="11.15" height="11.15" fill="#21d5e1"/><rect x="613.85" y="49.4" width="11.15" height="11.15" fill="#19cee3"/><rect x="624.4" y="49.4" width="21.7" height="11.15" fill="#12c7e6"/><rect x="645.5" y="49.4" width="32.25" height="11.15" fill="#0bc0e8"/><rect x="677.15" y="49.4" width="74.45" height="11.15" fill="#04b8ea"/><rect x="751" y="49.4" width="85" height="11.15" fill="#04b0ed"/><rect x="54.7" y="38.85" width="137.75" height="11.15" fill="#04b0ed"/><rect x="191.85" y="38.85" width="85" height="11.15" fill="#04b8ea"/><rect x="276.25" y="38.85" width="42.8" height="11.15" fill="#0bc0e8"/><rect x="318.45" y="38.85" width="32.25" height="11.15" fill="#12c7e6"/><rect x="350.1" y="38.85" width="11.15" height="11.15" fill="#19cee3"/><rect x="360.65" y="38.85" width="11.15" height="11.15" fill="#21d5e1"/><rect x="371.2" y="38.85" width="11.15" height="11.15" fill="#28dbde"/><rect x="381.75" y="38.85" width="11.15" height="11.15" fill="#2fe1db"/><rect x="392.3" y="38.85" width="21.7" height="11.15" fill="#37e6d8"/><rect x="413.4" y="38.85" width="42.8" height="11.15" fill="#3eead5"/><rect x="455.6" y="38.85" width="11.15" height="11.15" fill="#45efd2"/><rect x="466.15" y="38.85" width="11.15" height="11.15" fill="#62fbc4"/><rect x="476.7" y="38.85" width="11.15" height="11.15" fill="#baef91"/><rect x="487.25" y="38.85" width="11.15" height="11.15" fill="#ff8344"/><rect x="497.8" y="38.85" width="11.15" height="11.15" fill="#ff4422"/><rect x="508.35" y="38.85" width="11.15" height="11.15" fill="#ffb05f"/><rect x="518.9" y="38.85" width="11.15" height="11.15" fill="#9dfba3"/><rect x="529.45" y="38.85" width="11.15" height="11.15" fill="#5bf9c7"/><rect x="540" y="38.85" width="11.15" height="11.15" fill="#3eead5"/><rect x="550.55" y="38.85" width="11.15" height="11.15" fill="#37e6d8"/><rect x="561.1" y="38.85" width="11.15" height="11.15" fill="#2fe1db"/><rect x="571.65" y="38.85" width="11.15" height="11.15" fill="#28dbde"/><rect x="582.2" y="38.85" width="11.15" height="11.15" fill="#21d5e1"/><rect x="592.75" y="38.85" width="11.15" height="11.15" fill="#19cee3"/><rect x="603.3" y="38.85" width="21.7" height="11.15" fill="#12c7e6"/><rect x="624.4" y="38.85" width="32.25" height="11.15" fill="#0bc0e8"/><rect x="656.05" y="38.85" width="85" height="11.15" fill="#04b8ea"/><rect x="740.45" y="38.85" width="95.55" height="11.15" fill="#04b0ed"/><rect x="54.7" y="28.3" width="169.4" height="11.15" fill="#04b0ed"/><rect x="223.5" y="28.3" width="95.55" height="11.15" fill="#04b8ea"/><rect x="318.45" y="28.3" width="53.35" height="11.15" fill="#0bc0e8"/><rect x="371.2" y="28.3" width="63.9" height="11.15" fill="#12c7e6"/><rect x="434.5" y="28.3" width="32.25" height="11.15" fill="#19cee3"/><rect x="466.15" y="28.3" width="11.15" height="11.15" fill="#21d5e1"/><rect x="476.7" y="28.3" width="11.15" height="11.15" fill="#37e6d8"/><rect x="487.25" y="28.3" width="11.15" height="11.15" fill="#54f6cb"/><rect x="497.8" y="28.3" width="11.15" height="11.15" fill="#62fbc4"/><rect x="508.35" y="28.3" width="11.15" height="11.15" fill="#4df3ce"/><rect x="518.9" y="28.3" width="11.15" height="11.15" fill="#37e6d8"/><rect x="529.45" y="28.3" width="11.15" height="11.15" fill="#21d5e1"/><rect x="540" y="28.3" width="21.7" height="11.15" fill="#19cee3"/><rect x="561.1" y="28.3" width="32.25" height="11.15" fill="#12c7e6"/><rect x="592.75" y="28.3" width="32.25" height="11.15" fill="#0bc0e8"/><rect x="624.4" y="28.3" width="85" height="11.15" fill="#04b8ea"/><rect x="708.8" y="28.3" width="127.2" height="11.15" fill="#04b0ed"/><rect x="54.7" y="17.75" width="211.6" height="11.15" fill="#04b0ed"/><rect x="265.7" y="17.75" width="137.75" height="11.15" fill="#04b8ea"/><rect x="402.85" y="17.75" width="85" height="11.15" fill="#0bc0e8"/><rect x="487.25" y="17.75" width="32.25" height="11.15" fill="#12c7e6"/><rect x="518.9" y="17.75" width="53.35" height="11.15" fill="#0bc0e8"/><rect x="571.65" y="17.75" width="95.55" height="11.15" fill="#04b8ea"/><rect x="666.6" y="17.75" width="169.4" height="11.15" fill="#04b0ed"/></g>
</g>
<path d="M170.75 18V309.5M276.25 18V309.5M381.75 18V309.5M487.25 18V309.5M592.75 18V309.5M698.25 18V309.5M803.75 18V309.5M77.5 271.25H825.5M77.5 229.05H825.5M77.5 186.85H825.5M77.5 144.65H825.5M77.5 102.45H825.5M77.5 60.25H825.5" stroke="#000" stroke-opacity="0.2" stroke-width="0.6" fill="none"/>
</g>
<rect x="77.5" y="18" width="748" height="291.5" fill="none" stroke="#000" stroke-width="1.5"/>
<text x="170.75" y="330.6" font-size="17.3" text-anchor="middle" >82.5°E</text>
<text x="276.25" y="330.6" font-size="17.3" text-anchor="middle" >85°E</text>
<text x="381.75" y="330.6" font-size="17.3" text-anchor="middle" >87.5°E</text>
<text x="487.25" y="330.6" font-size="17.3" text-anchor="middle" >90°E</text>
<text x="592.75" y="330.6" font-size="17.3" text-anchor="middle" >92.5°E</text>
<text x="698.25" y="330.6" font-size="17.3" text-anchor="middle" >95°E</text>
<text x="803.75" y="330.6" font-size="17.3" text-anchor="middle" >97.5°E</text>
<text x="67.8" y="275.65" font-size="17.3" text-anchor="end" >16°N</text>
<text x="67.8" y="233.45" font-size="17.3" text-anchor="end" >17°N</text>
<text x="67.8" y="191.25" font-size="17.3" text-anchor="end" >18°N</text>
<text x="67.8" y="149.05" font-size="17.3" text-anchor="end" >19°N</text>
<text x="67.8" y="106.85" font-size="17.3" text-anchor="end" >20°N</text>
<text x="67.8" y="64.65" font-size="17.3" text-anchor="end" >21°N</text>
<text x="152" y="54.2" font-size="31" text-anchor="middle" font-weight="bold" >(A)</text>
</g>
<rect x="833.5" y="32" width="14" height="277.5" fill="url(#gradA)"/>
<path d="M833.5 32.3L840.5 17L847.5 32.3Z" fill="#ff0000"/>
<path d="M833.5 309.5L833.5 32L840.5 17L847.5 32L847.5 309.5Z" fill="none" stroke="#000" stroke-width="1.1" stroke-linejoin="miter"/>
<path d="M847.5 309.5h5M847.5 170.75h5M847.5 32h5" stroke="#000" stroke-width="1.2"/>
<text x="859.5" y="315.9" font-size="19.5" text-anchor="start" >0</text>
<text x="859.5" y="177.15" font-size="19.5" text-anchor="start" >0.1</text>
<text x="859.5" y="38.4" font-size="19.5" text-anchor="start" >0.2</text>
<text x="909.5" y="170.7" font-size="28.5" text-anchor="middle" transform="rotate(-90 909.5 170.7)" >Joint Gradient</text>
<g>
<rect x="1030" y="191.6" width="26.4" height="49.8" fill="#ff4500"/>
<rect x="1056.4" y="234.42" width="26.4" height="6.98" fill="#6a5acd"/>
<rect x="1103.32" y="99.75" width="26.4" height="141.65" fill="#ff4500"/>
<rect x="1129.72" y="191.29" width="26.4" height="50.11" fill="#6a5acd"/>
<rect x="1176.64" y="204.94" width="26.4" height="36.46" fill="#ff4500"/>
<rect x="1203.04" y="195.94" width="26.4" height="45.46" fill="#6a5acd"/>
<rect x="1249.96" y="65.77" width="26.4" height="175.63" fill="#ff4500"/>
<rect x="1276.36" y="69.49" width="26.4" height="171.91" fill="#6a5acd"/>
<rect x="1323.28" y="123.02" width="26.4" height="118.38" fill="#ff4500"/>
<rect x="1349.68" y="127.83" width="26.4" height="113.57" fill="#6a5acd"/>
<rect x="1396.6" y="85.78" width="26.4" height="155.62" fill="#ff4500"/>
<rect x="1423" y="107.04" width="26.4" height="134.36" fill="#6a5acd"/>
<rect x="1469.92" y="126.28" width="26.4" height="115.12" fill="#ff4500"/>
<rect x="1496.32" y="241.4" width="26.4" height="41.27" fill="#6a5acd"/>
<rect x="1543.24" y="120.69" width="26.4" height="120.71" fill="#ff4500"/>
<rect x="1569.64" y="76.79" width="26.4" height="164.61" fill="#6a5acd"/>
<rect x="1616.56" y="170.96" width="26.4" height="70.44" fill="#ff4500"/>
<rect x="1642.96" y="161.65" width="26.4" height="79.75" fill="#6a5acd"/>
<rect x="1689.88" y="220.77" width="26.4" height="20.63" fill="#ff4500"/>
<rect x="1716.28" y="231.16" width="26.4" height="10.24" fill="#6a5acd"/>
<path d="M1012 163.82H1760.6M1012 86.25H1760.6" stroke="#808080" stroke-opacity="0.72" stroke-width="1.8" stroke-dasharray="7.5 3.75" fill="none"/>
<path d="M1012 241.4H1760.6" stroke="#000" stroke-width="1.4"/>
</g>
<rect x="1012" y="8.7" width="748.6" height="310.3" fill="none" stroke="#000" stroke-width="1.5"/>
<path d="M1056.4 319v5.2M1129.72 319v5.2M1203.04 319v5.2M1276.36 319v5.2M1349.68 319v5.2M1423 319v5.2M1496.32 319v5.2M1569.64 319v5.2M1642.96 319v5.2M1716.28 319v5.2" stroke="#000" stroke-width="1.5" fill="none"/>
<text x="1056.4" y="349.6" font-size="25" text-anchor="middle" >5</text>
<text x="1129.72" y="349.6" font-size="25" text-anchor="middle" >10</text>
<text x="1203.04" y="349.6" font-size="25" text-anchor="middle" >15</text>
<text x="1276.36" y="349.6" font-size="25" text-anchor="middle" >20</text>
<text x="1349.68" y="349.6" font-size="25" text-anchor="middle" >25</text>
<text x="1423" y="349.6" font-size="25" text-anchor="middle" >30</text>
<text x="1496.32" y="349.6" font-size="25" text-anchor="middle" >35</text>
<text x="1569.64" y="349.6" font-size="25" text-anchor="middle" >40</text>
<text x="1642.96" y="349.6" font-size="25" text-anchor="middle" >45</text>
<text x="1716.28" y="349.6" font-size="25" text-anchor="middle" >50</text>
<path d="M1012 318.98h-5.2M1012 241.4h-5.2M1012 163.82h-5.2M1012 86.25h-5.2M1012 8.67h-5.2" stroke="#000" stroke-width="1.5" fill="none"/>
<text x="999.7" y="327.38" font-size="25" text-anchor="end" >-5</text>
<text x="999.7" y="249.8" font-size="25" text-anchor="end" >0</text>
<text x="999.7" y="172.22" font-size="25" text-anchor="end" >5</text>
<text x="999.7" y="94.65" font-size="25" text-anchor="end" >10</text>
<text x="999.7" y="17.07" font-size="25" text-anchor="end" >15</text>
<text x="1386.3" y="381.6" font-size="28.2" text-anchor="middle" >Number of Stations</text>
<text x="961.3" y="164.15" font-size="28.3" text-anchor="middle" transform="rotate(-90 961.3 164.15)" >Optimization Rate [%]</text>
<text x="1086.9" y="54.9" font-size="31" text-anchor="middle" font-weight="bold" >(B)</text>
<rect x="1654" y="26.2" width="39" height="13.4" fill="#ff4500"/>
<rect x="1654" y="53.7" width="39" height="13.4" fill="#6a5acd"/>
<text x="1709.4" y="39.3" font-size="19" text-anchor="start" >SST</text>
<text x="1709.4" y="66.9" font-size="19" text-anchor="start" >SSS</text>
<path d="M160.73 707.2V397.2M243.77 707.2V397.2M326.8 707.2V397.2M409.83 707.2V397.2M492.87 707.2V397.2M575.9 707.2V397.2M658.93 707.2V397.2M741.97 707.2V397.2M77.7 645.2H825M77.7 583.2H825M77.7 521.2H825M77.7 459.2H825" stroke="#a3a3a3" stroke-width="1.8" stroke-dasharray="7.5 3.75" fill="none"/>
<clipPath id="clC"><rect x="77.7" y="397.2" width="747.3" height="310"/></clipPath>
<g clip-path="url(#clC)">
<path d="M77.7 452.81 L160.73 574.58 L243.77 612.59 L326.8 618.97 L409.83 631 L492.87 640.12 L575.9 656.42 L658.93 666.53 L741.97 674.59 L825 676.39" stroke="#f2501f" stroke-width="2.8" fill="none" stroke-linejoin="round"/>
<g fill="#f2501f" fill-opacity="0.75"><circle cx="77.7" cy="452.81" r="4.2"/><circle cx="160.73" cy="574.58" r="4.2"/><circle cx="243.77" cy="612.59" r="4.2"/><circle cx="326.8" cy="618.97" r="4.2"/><circle cx="409.83" cy="631" r="4.2"/><circle cx="492.87" cy="640.12" r="4.2"/><circle cx="575.9" cy="656.42" r="4.2"/><circle cx="658.93" cy="666.53" r="4.2"/><circle cx="741.97" cy="674.59" r="4.2"/><circle cx="825" cy="676.39" r="4.2"/></g>
<path d="M77.7 452.81 L160.73 568.69 L243.77 612.59 L326.8 625.67 L409.83 631 L492.87 640.12 L575.9 646.44 L658.93 660.08 L741.97 674.59 L825 676.39" stroke="#6a5acd" stroke-width="2.8" fill="none" stroke-linejoin="round"/>
<g fill="#6a5acd" fill-opacity="0.75"><circle cx="77.7" cy="452.81" r="4.2"/><circle cx="160.73" cy="568.69" r="4.2"/><circle cx="243.77" cy="612.59" r="4.2"/><circle cx="326.8" cy="625.67" r="4.2"/><circle cx="409.83" cy="631" r="4.2"/><circle cx="492.87" cy="640.12" r="4.2"/><circle cx="575.9" cy="646.44" r="4.2"/><circle cx="658.93" cy="660.08" r="4.2"/><circle cx="741.97" cy="674.59" r="4.2"/><circle cx="825" cy="676.39" r="4.2"/></g>
</g>
<rect x="77.7" y="397.2" width="747.3" height="310" fill="none" stroke="#000" stroke-width="1.5"/>
<path d="M77.7 707.2v5.2M160.73 707.2v5.2M243.77 707.2v5.2M326.8 707.2v5.2M409.83 707.2v5.2M492.87 707.2v5.2M575.9 707.2v5.2M658.93 707.2v5.2M741.97 707.2v5.2M825 707.2v5.2" stroke="#000" stroke-width="1.5" fill="none"/>
<text x="77.7" y="737.8" font-size="25" text-anchor="middle" >5</text>
<text x="160.73" y="737.8" font-size="25" text-anchor="middle" >10</text>
<text x="243.77" y="737.8" font-size="25" text-anchor="middle" >15</text>
<text x="326.8" y="737.8" font-size="25" text-anchor="middle" >20</text>
<text x="409.83" y="737.8" font-size="25" text-anchor="middle" >25</text>
<text x="492.87" y="737.8" font-size="25" text-anchor="middle" >30</text>
<text x="575.9" y="737.8" font-size="25" text-anchor="middle" >35</text>
<text x="658.93" y="737.8" font-size="25" text-anchor="middle" >40</text>
<text x="741.97" y="737.8" font-size="25" text-anchor="middle" >45</text>
<text x="825" y="737.8" font-size="25" text-anchor="middle" >50</text>
<path d="M77.7 707.2h-5.2M77.7 645.2h-5.2M77.7 583.2h-5.2M77.7 521.2h-5.2M77.7 459.2h-5.2M77.7 397.2h-5.2" stroke="#000" stroke-width="1.5" fill="none"/>
<text x="65.4" y="715.6" font-size="25" text-anchor="end" >0.1</text>
<text x="65.4" y="653.6" font-size="25" text-anchor="end" >0.2</text>
<text x="65.4" y="591.6" font-size="25" text-anchor="end" >0.3</text>
<text x="65.4" y="529.6" font-size="25" text-anchor="end" >0.4</text>
<text x="65.4" y="467.6" font-size="25" text-anchor="end" >0.5</text>
<text x="65.4" y="405.6" font-size="25" text-anchor="end" >0.6</text>
<text x="451.35" y="770.2" font-size="28.2" text-anchor="middle" >Number of Stations</text>
<text x="20.5" y="552.2" font-size="28.2" text-anchor="middle" transform="rotate(-90 20.5 552.2)" >RMSE For SST [°C]</text>
<text x="152.7" y="434.9" font-size="31" text-anchor="middle" font-weight="bold" >(C)</text>
<path d="M681 428H733.5" stroke="#f2501f" stroke-width="2.8"/>
<path d="M681 463.2H733.5" stroke="#6a5acd" stroke-width="2.8"/>
<text x="752.3" y="436.6" font-size="25" text-anchor="start" >VQT</text>
<text x="752.3" y="471.8" font-size="25" text-anchor="start" >GQT</text>
<path d="M1095.18 707.2V397.2M1178.36 707.2V397.2M1261.53 707.2V397.2M1344.71 707.2V397.2M1427.89 707.2V397.2M1511.07 707.2V397.2M1594.24 707.2V397.2M1677.42 707.2V397.2M1012 676.2H1760.6M1012 614.2H1760.6M1012 552.2H1760.6M1012 490.2H1760.6M1012 428.2H1760.6" stroke="#a3a3a3" stroke-width="1.8" stroke-dasharray="7.5 3.75" fill="none"/>
<clipPath id="clD"><rect x="1012" y="397.2" width="748.6" height="310"/></clipPath>
<g clip-path="url(#clD)">
<path d="M1012 436.57 L1095.18 551.12 L1178.36 599.01 L1261.53 625.39 L1344.71 635.81 L1427.89 642.5 L1511.07 680.23 L1594.24 684.69 L1677.42 695.42 L1760.6 696.97" stroke="#f2501f" stroke-width="2.8" fill="none" stroke-linejoin="round"/>
<g fill="#f2501f" fill-opacity="0.75"><circle cx="1012" cy="436.57" r="4.2"/><circle cx="1095.18" cy="551.12" r="4.2"/><circle cx="1178.36" cy="599.01" r="4.2"/><circle cx="1261.53" cy="625.39" r="4.2"/><circle cx="1344.71" cy="635.81" r="4.2"/><circle cx="1427.89" cy="642.5" r="4.2"/><circle cx="1511.07" cy="680.23" r="4.2"/><circle cx="1594.24" cy="684.69" r="4.2"/><circle cx="1677.42" cy="695.42" r="4.2"/><circle cx="1760.6" cy="696.97" r="4.2"/></g>
<path d="M1012 436.57 L1095.18 549.5 L1178.36 599.01 L1261.53 633.42 L1344.71 633.42 L1427.89 640.61 L1511.07 649.45 L1594.24 686.03 L1677.42 695.42 L1760.6 696.97" stroke="#6a5acd" stroke-width="2.8" fill="none" stroke-linejoin="round"/>
<g fill="#6a5acd" fill-opacity="0.75"><circle cx="1012" cy="436.57" r="4.2"/><circle cx="1095.18" cy="549.5" r="4.2"/><circle cx="1178.36" cy="599.01" r="4.2"/><circle cx="1261.53" cy="633.42" r="4.2"/><circle cx="1344.71" cy="633.42" r="4.2"/><circle cx="1427.89" cy="640.61" r="4.2"/><circle cx="1511.07" cy="649.45" r="4.2"/><circle cx="1594.24" cy="686.03" r="4.2"/><circle cx="1677.42" cy="695.42" r="4.2"/><circle cx="1760.6" cy="696.97" r="4.2"/></g>
</g>
<rect x="1012" y="397.2" width="748.6" height="310" fill="none" stroke="#000" stroke-width="1.5"/>
<path d="M1012 707.2v5.2M1095.18 707.2v5.2M1178.36 707.2v5.2M1261.53 707.2v5.2M1344.71 707.2v5.2M1427.89 707.2v5.2M1511.07 707.2v5.2M1594.24 707.2v5.2M1677.42 707.2v5.2M1760.6 707.2v5.2" stroke="#000" stroke-width="1.5" fill="none"/>
<text x="1012" y="737.8" font-size="25" text-anchor="middle" >5</text>
<text x="1095.18" y="737.8" font-size="25" text-anchor="middle" >10</text>
<text x="1178.36" y="737.8" font-size="25" text-anchor="middle" >15</text>
<text x="1261.53" y="737.8" font-size="25" text-anchor="middle" >20</text>
<text x="1344.71" y="737.8" font-size="25" text-anchor="middle" >25</text>
<text x="1427.89" y="737.8" font-size="25" text-anchor="middle" >30</text>
<text x="1511.07" y="737.8" font-size="25" text-anchor="middle" >35</text>
<text x="1594.24" y="737.8" font-size="25" text-anchor="middle" >40</text>
<text x="1677.42" y="737.8" font-size="25" text-anchor="middle" >45</text>
<text x="1760.6" y="737.8" font-size="25" text-anchor="middle" >50</text>
<path d="M1012 676.2h-5.2M1012 614.2h-5.2M1012 552.2h-5.2M1012 490.2h-5.2M1012 428.2h-5.2" stroke="#000" stroke-width="1.5" fill="none"/>
<text x="999.7" y="684.6" font-size="25" text-anchor="end" >0.4</text>
<text x="999.7" y="622.6" font-size="25" text-anchor="end" >0.6</text>
<text x="999.7" y="560.6" font-size="25" text-anchor="end" >0.8</text>
<text x="999.7" y="498.6" font-size="25" text-anchor="end" >1.0</text>
<text x="999.7" y="436.6" font-size="25" text-anchor="end" >1.2</text>
<text x="1386.3" y="770.2" font-size="28.2" text-anchor="middle" >Number of Stations</text>
<text x="955" y="552.2" font-size="28.2" text-anchor="middle" transform="rotate(-90 955 552.2)" >RMSE For SSS [psu]</text>
<text x="1086.9" y="434.9" font-size="31" text-anchor="middle" font-weight="bold" >(D)</text>
<path d="M1615.8 428H1668.3" stroke="#f2501f" stroke-width="2.8"/>
<path d="M1615.8 463.2H1668.3" stroke="#6a5acd" stroke-width="2.8"/>
<text x="1687.1" y="436.6" font-size="25" text-anchor="start" >VQT</text>
<text x="1687.1" y="471.8" font-size="25" text-anchor="start" >GQT</text>
<path d="M151.74 1095.2V785.2M234.92 1095.2V785.2M318.1 1095.2V785.2M401.28 1095.2V785.2M484.46 1095.2V785.2M567.64 1095.2V785.2M650.82 1095.2V785.2M734 1095.2V785.2M817.18 1095.2V785.2M77.7 1043.53H825M77.7 991.87H825M77.7 940.2H825M77.7 888.54H825M77.7 836.87H825" stroke="#a3a3a3" stroke-width="1.8" stroke-dasharray="7.5 3.75" fill="none"/>
<clipPath id="clE"><rect x="77.7" y="785.2" width="747.3" height="310"/></clipPath>
<g clip-path="url(#clE)" fill="none" stroke-width="2.8" stroke-linejoin="round">
<path d="M76.88 985.67 L85.2 982.18 L93.51 975.08 L101.83 962.55 L110.15 949.24 L118.47 944.59 L126.79 944.34 L135.1 943.3 L143.42 940.85 L151.74 934.52 L160.06 937.36 L168.38 954.15 L176.69 966.04 L185.01 973.01 L193.33 982.18 L201.65 990.58 L209.97 988.51 L218.28 977.66 L226.6 977.92 L234.92 971.72 L243.24 980.76 L251.56 1017.18 L259.87 1029.07 L268.19 1024.93 L276.51 1013.7 L284.83 999.62 L293.15 986.06 L301.46 991.61 L309.78 1006.72 L318.1 1010.98 L326.42 1008.79 L334.74 1012.28 L343.05 1033.98 L351.37 1046.63 L359.69 1046.89 L368.01 1048.7 L376.33 1057.23 L384.64 1057.82 L392.96 1060.64 L401.28 1055.03 L409.6 1041.73 L417.92 1044.57 L426.23 1040.95 L434.55 1050.77 L442.87 1058.52 L451.19 1065.49 L459.51 1063.43 L467.82 1065.49 L476.14 1053.61 L484.46 1031.13 L492.78 1016.41 L501.1 1044.57 L509.41 1053.61 L517.73 1035.4 L526.05 1027 L534.37 1017.96 L542.69 1040.95 L551 1048.03 L559.32 1042.5 L567.64 1059.94 L575.96 1062.13 L584.28 1055.03 L592.59 1038.21 L600.91 1021.4 L609.23 1044.57 L617.55 1051.54 L625.87 1055.73 L634.18 1048.7 L642.5 1054.38 L650.82 1048.7 L659.14 1045.86 L667.46 1045.21 L675.77 1043.79 L684.09 1053.61 L692.41 1068.33 L700.73 1052.32 L709.05 1050.12 L717.36 1042.5 L725.68 1038.21 L734 1027 L742.32 1008.14 L750.64 1001.76 L758.95 987.06 L767.27 987.73 L775.59 980.06 L783.91 972.34 L792.23 965.34 L800.54 949.92 L808.86 927.54 L817.18 935.91 L825.5 953.12" stroke="#f2501f" stroke-dasharray="10.3 4.4"/>
<path d="M76.88 880.79 L85.2 917.73 L93.51 939.43 L101.83 942.27 L110.15 921.86 L118.47 912.3 L126.79 915.66 L135.1 911.01 L143.42 919.02 L151.74 934.52 L160.06 951.31 L168.38 961.13 L176.69 966.81 L185.01 977.92 L193.33 993.42 L201.65 1001.81 L209.97 1003.88 L218.28 1008.14 L226.6 1015.12 L234.92 1013.05 L243.24 1024.16 L251.56 1037.46 L259.87 1033.2 L268.19 1025.58 L276.51 1015.12 L284.83 1001.81 L293.15 991.35 L301.46 991.61 L309.78 1004.53 L318.1 1010.21 L326.42 1011.24 L334.74 1012.28 L343.05 1033.98 L351.37 1049.73 L359.69 1046.89 L368.01 1048.7 L376.33 1054.38 L384.64 1054.38 L392.96 1059.03 L401.28 1057.23 L409.6 1050.12 L417.92 1045.86 L426.23 1042.5 L434.55 1050.77 L442.87 1058.52 L451.19 1066.27 L459.51 1065.49 L467.82 1065.49 L476.14 1052.32 L484.46 1025.58 L492.78 1015.51 L501.1 1043.79 L509.41 1048.7 L517.73 1027 L526.05 1020.03 L534.37 1004.27 L542.69 1025.58 L551 1019.77 L559.32 1024.16 L567.64 1057.23 L575.96 1063.17 L584.28 1055.03 L592.59 1038.21 L600.91 1015.12 L609.23 1040.95 L617.55 1047.33 L625.87 1049.48 L634.18 1036.82 L642.5 1042.5 L650.82 1050.77 L659.14 1045.86 L667.46 1040.95 L675.77 1042.11 L684.09 1053.61 L692.41 1068.33 L700.73 1056.45 L709.05 1048.7 L717.36 1036.12 L725.68 1034.75 L734 1027 L742.32 1008.14 L750.64 1002.46 L758.95 992.64 L767.27 991.97 L775.59 984.25 L783.91 976.63 L792.23 976.63 L800.54 954.15 L808.86 926.1 L817.18 926.77 L825.5 924.7" stroke="#6a5acd" stroke-dasharray="10.3 4.4"/>
<path d="M76.88 1017.96 L85.2 1009.43 L93.51 1006.33 L101.83 1009.95 L110.15 1012.79 L118.47 1013.7 L126.79 1013.31 L135.1 1009.43 L143.42 1017.96 L151.74 1026.74 L160.06 1031.13 L168.38 1035.4 L176.69 1042.11 L185.01 1042.37 L193.33 1047.41 L201.65 1053.61 L209.97 1057.48 L218.28 1058.52 L226.6 1059.94 L234.92 1065.1 L243.24 1069.75 L251.56 1070.14 L259.87 1065.75 L268.19 1062.78 L276.51 1057.23 L284.83 1052.58 L293.15 1045.86 L301.46 1041.98 L309.78 1044.57 L318.1 1045.21 L326.42 1045.21 L334.74 1046.38 L343.05 1059.94 L351.37 1072.98 L359.69 1069.11 L368.01 1067.3 L376.33 1066.91 L384.64 1070.14 L392.96 1072.54 L401.28 1071.85 L409.6 1071.18 L417.92 1066.53 L426.23 1067.3 L434.55 1069.11 L442.87 1070.74 L451.19 1071.56 L459.51 1070.74 L467.82 1074.02 L476.14 1072.54 L484.46 1065.49 L492.78 1061.75 L501.1 1066.27 L509.41 1070.4 L517.73 1068.33 L526.05 1057.82 L534.37 1056.71 L542.69 1066.01 L551 1070.14 L559.32 1068.33 L567.64 1074.64 L575.96 1077.45 L584.28 1077.17 L592.59 1069.11 L600.91 1041.73 L609.23 1062.03 L617.55 1070.4 L625.87 1078.93 L634.18 1076.34 L642.5 1074.64 L650.82 1076.76 L659.14 1076.34 L667.46 1077.45 L675.77 1079.18 L684.09 1079.55 L692.41 1078.93 L700.73 1076.76 L709.05 1074.35 L717.36 1074.02 L725.68 1070.14 L734 1068.85 L742.32 1063.17 L750.64 1059.29 L758.95 1056.19 L767.27 1054.38 L775.59 1045.21 L783.91 1042.11 L792.23 1038.5 L800.54 1035.14 L808.86 1030.1 L817.18 1031.91 L825.5 1033.2" stroke="#f2501f"/>
<path d="M76.88 1017.96 L85.2 1009.43 L93.51 1006.33 L101.83 1009.95 L110.15 1012.79 L118.47 1013.7 L126.79 1013.31 L135.1 1009.43 L143.42 1017.96 L151.74 1026.74 L160.06 1031.13 L168.38 1035.4 L176.69 1042.11 L185.01 1042.37 L193.33 1047.41 L201.65 1053.61 L209.97 1057.48 L218.28 1058.52 L226.6 1059.94 L234.92 1065.1 L243.24 1069.75 L251.56 1070.14 L259.87 1065.75 L268.19 1062.78 L276.51 1057.23 L284.83 1052.58 L293.15 1045.86 L301.46 1041.98 L309.78 1044.57 L318.1 1045.21 L326.42 1045.21 L334.74 1046.38 L343.05 1059.94 L351.37 1072.98 L359.69 1069.11 L368.01 1067.3 L376.33 1066.91 L384.64 1070.14 L392.96 1072.54 L401.28 1071.85 L409.6 1071.18 L417.92 1066.53 L426.23 1067.3 L434.55 1069.11 L442.87 1070.74 L451.19 1071.56 L459.51 1070.74 L467.82 1074.02 L476.14 1072.54 L484.46 1065.49 L492.78 1061.75 L501.1 1066.27 L509.41 1070.4 L517.73 1068.33 L526.05 1057.82 L534.37 1056.71 L542.69 1066.01 L551 1070.14 L559.32 1068.33 L567.64 1074.64 L575.96 1077.45 L584.28 1077.17 L592.59 1069.11 L600.91 1041.73 L609.23 1062.03 L617.55 1070.4 L625.87 1078.93 L634.18 1076.34 L642.5 1074.64 L650.82 1076.76 L659.14 1076.34 L667.46 1077.45 L675.77 1079.18 L684.09 1079.55 L692.41 1078.93 L700.73 1076.76 L709.05 1074.35 L717.36 1074.02 L725.68 1070.14 L734 1068.85 L742.32 1063.17 L750.64 1059.29 L758.95 1056.19 L767.27 1054.38 L775.59 1045.21 L783.91 1042.11 L792.23 1038.5 L800.54 1035.14 L808.86 1030.1 L817.18 1031.91 L825.5 1033.2" stroke="#6a5acd"/>
</g>
<rect x="77.7" y="785.2" width="747.3" height="310" fill="none" stroke="#000" stroke-width="1.5"/>
<path d="M151.74 1095.2v5.2M234.92 1095.2v5.2M318.1 1095.2v5.2M401.28 1095.2v5.2M484.46 1095.2v5.2M567.64 1095.2v5.2M650.82 1095.2v5.2M734 1095.2v5.2M817.18 1095.2v5.2" stroke="#000" stroke-width="1.5" fill="none"/>
<text x="151.74" y="1125.8" font-size="25" text-anchor="middle" >10</text>
<text x="234.92" y="1125.8" font-size="25" text-anchor="middle" >20</text>
<text x="318.1" y="1125.8" font-size="25" text-anchor="middle" >30</text>
<text x="401.28" y="1125.8" font-size="25" text-anchor="middle" >40</text>
<text x="484.46" y="1125.8" font-size="25" text-anchor="middle" >50</text>
<text x="567.64" y="1125.8" font-size="25" text-anchor="middle" >60</text>
<text x="650.82" y="1125.8" font-size="25" text-anchor="middle" >70</text>
<text x="734" y="1125.8" font-size="25" text-anchor="middle" >80</text>
<text x="817.18" y="1125.8" font-size="25" text-anchor="middle" >90</text>
<path d="M77.7 1043.53h-5.2M77.7 991.87h-5.2M77.7 940.2h-5.2M77.7 888.54h-5.2M77.7 836.87h-5.2M77.7 785.2h-5.2" stroke="#000" stroke-width="1.5" fill="none"/>
<text x="65.4" y="1051.93" font-size="25" text-anchor="end" >0.2</text>
<text x="65.4" y="1000.27" font-size="25" text-anchor="end" >0.4</text>
<text x="65.4" y="948.6" font-size="25" text-anchor="end" >0.6</text>
<text x="65.4" y="896.94" font-size="25" text-anchor="end" >0.8</text>
<text x="65.4" y="845.27" font-size="25" text-anchor="end" >1.0</text>
<text x="65.4" y="793.6" font-size="25" text-anchor="end" >1.2</text>
<text x="451.35" y="1158.2" font-size="28.2" text-anchor="middle" >Time</text>
<text x="20.5" y="940.2" font-size="28.2" text-anchor="middle" transform="rotate(-90 20.5 940.2)" >RMSE For SST [°C]</text>
<text x="152.7" y="822.9" font-size="31" text-anchor="middle" font-weight="bold" >(E)</text>
<path d="M367.1 807.4H404.3" stroke="#f2501f" stroke-width="2.8" stroke-dasharray="10.3 4.4"/>
<text x="418.6" y="813.2" font-size="17.5" text-anchor="start" >VQT 10 stations</text>
<path d="M367.1 832.57H404.3" stroke="#6a5acd" stroke-width="2.8" stroke-dasharray="10.3 4.4"/>
<text x="418.6" y="838.37" font-size="17.5" text-anchor="start" >GQT 10 stations</text>
<path d="M367.1 857.74H404.3" stroke="#f2501f" stroke-width="2.8"/>
<text x="418.6" y="863.54" font-size="17.5" text-anchor="start" >VQT 50 stations</text>
<path d="M367.1 882.91H404.3" stroke="#6a5acd" stroke-width="2.8"/>
<text x="418.6" y="888.71" font-size="17.5" text-anchor="start" >GQT 50 stations</text>
<path d="M1086.8 1095.2V785.2M1169.97 1095.2V785.2M1253.15 1095.2V785.2M1336.33 1095.2V785.2M1419.5 1095.2V785.2M1502.67 1095.2V785.2M1585.85 1095.2V785.2M1669.03 1095.2V785.2M1752.2 1095.2V785.2M1012 1050.91H1760.6M1012 1006.63H1760.6M1012 962.34H1760.6M1012 918.06H1760.6M1012 873.77H1760.6M1012 829.49H1760.6" stroke="#a3a3a3" stroke-width="1.8" stroke-dasharray="7.5 3.75" fill="none"/>
<clipPath id="clF"><rect x="1012" y="785.2" width="748.6" height="310"/></clipPath>
<g clip-path="url(#clF)" fill="none" stroke-width="2.8" stroke-linejoin="round">
<path d="M1011.94 1022.68 L1020.26 1023.4 L1028.58 1021.3 L1036.89 1018.48 L1045.21 1029.72 L1053.53 1031.12 L1061.85 1025.51 L1070.16 1031.12 L1078.48 1032.54 L1086.8 1037.44 L1095.12 1046.56 L1103.43 1047.97 L1111.75 1050.8 L1120.07 1054.7 L1128.39 1057.78 L1136.7 1068.3 L1145.02 1063.43 L1153.34 1052.91 L1161.66 1047.97 L1169.97 1052.18 L1178.29 1063.43 L1186.61 1065.93 L1194.93 1059.88 L1203.24 1064.09 L1211.56 1059.22 L1219.88 1061.32 L1228.2 1063.43 L1236.51 1064.81 L1244.83 1060.6 L1253.15 1058.5 L1261.47 1052.91 L1269.78 1049.36 L1278.1 1053.86 L1286.42 1060.33 L1294.74 1058.5 L1303.06 1057.78 L1311.37 1047.26 L1319.69 1043.76 L1328.01 1035.34 L1336.33 1026.91 L1344.64 1033.2 L1352.96 1039.54 L1361.28 1031.83 L1369.6 1023.4 L1377.91 1033.2 L1386.23 1032.54 L1394.55 1013.6 L1402.87 1010.06 L1411.18 1001.65 L1419.5 982.27 L1427.82 960.35 L1436.13 954.08 L1444.45 988.58 L1452.77 971.64 L1461.09 947.95 L1469.4 935.44 L1477.72 939.38 L1486.04 936.55 L1494.36 868.68 L1502.67 872.66 L1510.99 839.84 L1519.31 846.65 L1527.63 920.71 L1535.94 973.41 L1544.26 984.49 L1552.58 976.07 L1560.9 991.68 L1569.21 1001.09 L1577.53 1015.26 L1585.85 1013.94 L1594.17 975.3 L1602.49 966.77 L1610.8 951.05 L1619.12 980.61 L1627.44 1008.62 L1635.76 989.47 L1644.07 972.12 L1652.39 974.3 L1660.71 975.63 L1669.03 988.14 L1677.34 994.45 L1685.66 998.55 L1693.98 967.77 L1702.3 962.12 L1710.61 898.79 L1718.93 939.76 L1727.25 957.03 L1735.57 972.12 L1743.88 976.29 L1752.2 991.57 L1760.52 1002.75" stroke="#f2501f" stroke-dasharray="10.3 4.4"/>
<path d="M1011.94 994.63 L1020.26 1006.56 L1028.58 1016.81 L1036.89 1016.81 L1045.21 1030.43 L1053.53 1030.43 L1061.85 1024.39 L1070.16 1026.91 L1078.48 1031.12 L1086.8 1037.44 L1095.12 1048.7 L1103.43 1050.8 L1111.75 1052.18 L1120.07 1054.99 L1128.39 1058.5 L1136.7 1068.3 L1145.02 1063.43 L1153.34 1049.36 L1161.66 1042.78 L1169.97 1050.8 L1178.29 1059.88 L1186.61 1058.5 L1194.93 1061.99 L1203.24 1069.29 L1211.56 1063.43 L1219.88 1062.71 L1228.2 1063.69 L1236.51 1058.5 L1244.83 1059.88 L1253.15 1057.78 L1261.47 1052.91 L1269.78 1048.26 L1278.1 1053.57 L1286.42 1059.22 L1294.74 1058.5 L1303.06 1057.78 L1311.37 1044.49 L1319.69 1036.46 L1328.01 1029.72 L1336.33 1023.4 L1344.64 1019.91 L1352.96 1014.98 L1361.28 1008.95 L1369.6 1007.29 L1377.91 1013.6 L1386.23 1009.4 L1394.55 998.88 L1402.87 1006.56 L1411.18 1001.65 L1419.5 982.27 L1427.82 960.35 L1436.13 913.41 L1444.45 962.01 L1452.77 953.49 L1461.09 950.16 L1469.4 960.35 L1477.72 958.58 L1486.04 968.21 L1494.36 881.12 L1502.67 873.77 L1510.99 839.84 L1519.31 846.65 L1527.63 920.71 L1535.94 973.41 L1544.26 995.56 L1552.58 959.02 L1560.9 963.78 L1569.21 993.56 L1577.53 993.01 L1585.85 994.01 L1594.17 956.25 L1602.49 944.63 L1610.8 938.15 L1619.12 961.46 L1627.44 949.5 L1635.76 950.16 L1644.07 930.6 L1652.39 968.99 L1660.71 985.59 L1669.03 1015.49 L1677.34 1023.24 L1685.66 1006.63 L1693.98 992.01 L1702.3 1006.08 L1710.61 1002.86 L1718.93 1005.52 L1727.25 1006.85 L1735.57 1003.93 L1743.88 1008.29 L1752.2 1013.38 L1760.52 1020.47" stroke="#6a5acd" stroke-dasharray="10.3 4.4"/>
<path d="M1011.94 1067.33 L1020.26 1064.81 L1028.58 1065.09 L1036.89 1063.09 L1045.21 1066.19 L1053.53 1065.97 L1061.85 1063.69 L1070.16 1065.79 L1078.48 1063.82 L1086.8 1067.33 L1095.12 1063.09 L1103.43 1059.88 L1111.75 1053.86 L1120.07 1071.13 L1128.39 1064.09 L1136.7 1080.25 L1145.02 1076.74 L1153.34 1071.84 L1161.66 1071.55 L1169.97 1074.64 L1178.29 1079.15 L1186.61 1078.85 L1194.93 1078.85 L1203.24 1079.15 L1211.56 1072.28 L1219.88 1078.15 L1228.2 1076.32 L1236.51 1081.36 L1244.83 1083.76 L1253.15 1080.25 L1261.47 1074.64 L1269.78 1072.95 L1278.1 1067.9 L1286.42 1079.55 L1294.74 1078.59 L1303.06 1076.05 L1311.37 1058.92 L1319.69 1066.91 L1328.01 1067.9 L1336.33 1064.09 L1344.64 1063.69 L1352.96 1062.98 L1361.28 1063.43 L1369.6 1072.54 L1377.91 1074.39 L1386.23 1069.45 L1394.55 1067.63 L1402.87 1072.95 L1411.18 1072.54 L1419.5 1072.11 L1427.82 1040.95 L1436.13 1019.91 L1444.45 1023.4 L1452.77 1036.08 L1461.09 1048.26 L1469.4 1034.64 L1477.72 1001.65 L1486.04 1000.54 L1494.36 994.34 L1502.67 1000.87 L1510.99 1003.15 L1519.31 1021.29 L1527.63 1046.23 L1535.94 1054.57 L1544.26 1061.34 L1552.58 1040.18 L1560.9 1052.28 L1569.21 1061.34 L1577.53 1047.29 L1585.85 1056.82 L1594.17 1051.52 L1602.49 1047.74 L1610.8 1040.64 L1619.12 1044.71 L1627.44 1062.87 L1635.76 1038.67 L1644.07 1042.44 L1652.39 1049.25 L1660.71 1036.41 L1669.03 1059.07 L1677.34 1059.07 L1685.66 1055.01 L1693.98 1056.82 L1702.3 1056.05 L1710.61 1059.38 L1718.93 1062.43 L1727.25 1058.02 L1735.57 1056.82 L1743.88 1055.75 L1752.2 1055.01 L1760.52 1056.05" stroke="#f2501f"/>
<path d="M1011.94 1067.33 L1020.26 1064.81 L1028.58 1065.09 L1036.89 1063.09 L1045.21 1066.19 L1053.53 1065.97 L1061.85 1063.69 L1070.16 1065.79 L1078.48 1063.82 L1086.8 1067.33 L1095.12 1063.09 L1103.43 1059.88 L1111.75 1053.86 L1120.07 1071.13 L1128.39 1064.09 L1136.7 1080.25 L1145.02 1076.74 L1153.34 1071.84 L1161.66 1071.55 L1169.97 1074.64 L1178.29 1079.15 L1186.61 1078.85 L1194.93 1078.85 L1203.24 1079.15 L1211.56 1072.28 L1219.88 1078.15 L1228.2 1076.32 L1236.51 1081.36 L1244.83 1083.76 L1253.15 1080.25 L1261.47 1074.64 L1269.78 1072.95 L1278.1 1067.9 L1286.42 1079.55 L1294.74 1078.59 L1303.06 1076.05 L1311.37 1058.92 L1319.69 1066.91 L1328.01 1067.9 L1336.33 1064.09 L1344.64 1063.69 L1352.96 1062.98 L1361.28 1063.43 L1369.6 1072.54 L1377.91 1074.39 L1386.23 1069.45 L1394.55 1067.63 L1402.87 1072.95 L1411.18 1072.54 L1419.5 1072.11 L1427.82 1040.95 L1436.13 1019.91 L1444.45 1023.4 L1452.77 1036.08 L1461.09 1048.26 L1469.4 1034.64 L1477.72 1001.65 L1486.04 1000.54 L1494.36 994.34 L1502.67 1000.87 L1510.99 1003.15 L1519.31 1021.29 L1527.63 1046.23 L1535.94 1054.57 L1544.26 1061.34 L1552.58 1040.18 L1560.9 1052.28 L1569.21 1061.34 L1577.53 1047.29 L1585.85 1056.82 L1594.17 1051.52 L1602.49 1047.74 L1610.8 1040.64 L1619.12 1044.71 L1627.44 1062.87 L1635.76 1038.67 L1644.07 1042.44 L1652.39 1049.25 L1660.71 1036.41 L1669.03 1059.07 L1677.34 1059.07 L1685.66 1055.01 L1693.98 1056.82 L1702.3 1056.05 L1710.61 1059.38 L1718.93 1062.43 L1727.25 1058.02 L1735.57 1056.82 L1743.88 1055.75 L1752.2 1055.01 L1760.52 1056.05" stroke="#6a5acd"/>
</g>
<rect x="1012" y="785.2" width="748.6" height="310" fill="none" stroke="#000" stroke-width="1.5"/>
<path d="M1086.8 1095.2v5.2M1169.97 1095.2v5.2M1253.15 1095.2v5.2M1336.33 1095.2v5.2M1419.5 1095.2v5.2M1502.67 1095.2v5.2M1585.85 1095.2v5.2M1669.03 1095.2v5.2M1752.2 1095.2v5.2" stroke="#000" stroke-width="1.5" fill="none"/>
<text x="1086.8" y="1125.8" font-size="25" text-anchor="middle" >10</text>
<text x="1169.97" y="1125.8" font-size="25" text-anchor="middle" >20</text>
<text x="1253.15" y="1125.8" font-size="25" text-anchor="middle" >30</text>
<text x="1336.33" y="1125.8" font-size="25" text-anchor="middle" >40</text>
<text x="1419.5" y="1125.8" font-size="25" text-anchor="middle" >50</text>
<text x="1502.67" y="1125.8" font-size="25" text-anchor="middle" >60</text>
<text x="1585.85" y="1125.8" font-size="25" text-anchor="middle" >70</text>
<text x="1669.03" y="1125.8" font-size="25" text-anchor="middle" >80</text>
<text x="1752.2" y="1125.8" font-size="25" text-anchor="middle" >90</text>
<path d="M1012 1050.91h-5.2M1012 1006.63h-5.2M1012 962.34h-5.2M1012 918.06h-5.2M1012 873.77h-5.2M1012 829.49h-5.2M1012 785.2h-5.2" stroke="#000" stroke-width="1.5" fill="none"/>
<text x="999.7" y="1059.31" font-size="25" text-anchor="end" >0.4</text>
<text x="999.7" y="1015.03" font-size="25" text-anchor="end" >0.8</text>
<text x="999.7" y="970.74" font-size="25" text-anchor="end" >1.2</text>
<text x="999.7" y="926.46" font-size="25" text-anchor="end" >1.6</text>
<text x="999.7" y="882.17" font-size="25" text-anchor="end" >2.0</text>
<text x="999.7" y="837.89" font-size="25" text-anchor="end" >2.4</text>
<text x="999.7" y="793.6" font-size="25" text-anchor="end" >2.8</text>
<text x="1386.3" y="1158.2" font-size="28.2" text-anchor="middle" >Time</text>
<text x="955" y="940.2" font-size="28.2" text-anchor="middle" transform="rotate(-90 955 940.2)" >RMSE For SSS [psu]</text>
<text x="1086.9" y="822.9" font-size="31" text-anchor="middle" font-weight="bold" >(F)</text>
<path d="M1576.6 807.4H1613.8" stroke="#f2501f" stroke-width="2.8" stroke-dasharray="10.3 4.4"/>
<text x="1628.1" y="813.2" font-size="17.5" text-anchor="start" >VQT 10 stations</text>
<path d="M1576.6 832.57H1613.8" stroke="#6a5acd" stroke-width="2.8" stroke-dasharray="10.3 4.4"/>
<text x="1628.1" y="838.37" font-size="17.5" text-anchor="start" >GQT 10 stations</text>
<path d="M1576.6 857.74H1613.8" stroke="#f2501f" stroke-width="2.8"/>
<text x="1628.1" y="863.54" font-size="17.5" text-anchor="start" >VQT 50 stations</text>
<path d="M1576.6 882.91H1613.8" stroke="#6a5acd" stroke-width="2.8"/>
<text x="1628.1" y="888.71" font-size="17.5" text-anchor="start" >GQT 50 stations</text>
<g transform="translate(0 1165)">
<clipPath id="axG"><rect x="77.5" y="18" width="748" height="291.5"/></clipPath>
<clipPath id="mkG"><path d="M70.52 318.73 L91.62 297.62 L102.17 297.62 L123.28 276.52 L133.82 276.52 L144.38 265.98 L154.93 265.98 L176.03 244.88 L176.03 234.33 L186.57 223.78 L197.12 223.78 L228.78 192.12 L239.32 192.12 L270.98 160.48 L270.98 149.93 L281.52 139.38 L292.07 139.38 L302.62 128.82 L313.18 128.82 L323.73 118.28 L334.27 118.28 L376.48 76.08 L376.48 54.98 L397.58 54.98 L408.12 44.42 L418.68 54.98 L439.78 54.98 L450.33 44.42 L460.88 54.98 L471.43 44.42 L513.62 44.42 L524.17 54.98 L566.38 54.98 L566.38 65.53 L598.03 97.18 L598.03 107.72 L608.58 118.28 L619.12 118.28 L619.12 139.38 L629.67 149.93 L629.67 160.48 L640.23 171.03 L650.78 171.03 L661.33 181.57 L661.33 244.88 L650.78 255.43 L650.78 265.98 L671.88 287.08 L682.42 287.08 L692.98 297.62 L714.08 297.62 L724.62 287.08 L756.28 287.08 L766.83 276.52 L809.03 318.73Z"/></clipPath>
<g clip-path="url(#axG)">
<g fill="#d3d3d3" stroke="#000" stroke-width="1.1" stroke-linejoin="round">
<path d="M75.5 16 L75.5 281.49 L77.56 281.49 L82.96 278.25 L88.36 276.09 L93.22 275.33 L96.46 276.63 L98.62 279.87 L98.29 283.11 L100.24 278.79 L101.64 270.37 L102.4 276.09 L104.56 279.33 L107.26 279.87 L106.18 281.81 L109.96 276.63 L113.2 272.31 L114.28 266.91 L116.44 261.51 L118.06 257.19 L120.76 255.57 L124 255.57 L129.4 255.9 L132.63 256.65 L136.95 258.27 L141.27 256.44 L147.75 254.49 L153.15 252.33 L158.55 249.09 L161.79 245.31 L163.95 242.07 L164.49 235.59 L163.95 231.81 L161.79 234.51 L160.17 233.43 L159.63 231.27 L161.25 228.03 L163.95 224.25 L167.19 221.02 L171.51 218.32 L177.99 215.08 L184.47 211.84 L190.95 209.14 L196.35 206.44 L200.67 203.74 L202.29 200.5 L204.99 199.42 L208.23 195.1 L210.39 190.78 L213.63 187.54 L216.87 184.84 L221.19 182.14 L226.59 179.44 L231.99 177.28 L237.39 175.12 L239.55 171.88 L242.79 168.64 L247.11 164.32 L250.8 157.95 L257.28 149.31 L263.76 141.21 L265.38 139.05 L270.24 134.19 L275.64 129.33 L281.58 125.01 L287.52 121.23 L294 117.99 L300.48 114.75 L306.95 112.05 L314.51 109.89 L320.99 108.27 L326.39 106.65 L331.79 104.49 L332.33 102.87 L328.55 99.63 L325.31 96.93 L324.45 96.18 L329.63 99.09 L333.95 101.79 L335.03 102.33 L337.19 97.47 L339.35 94.23 L343.67 92.07 L347.99 89.91 L351.23 86.67 L351.77 84.51 L349.61 83.43 L351.23 80.19 L354.47 77.49 L358.79 74.79 L361.49 72.63 L358.79 69.94 L356.09 69.4 L358.25 66.16 L356.63 61.84 L354.47 57.52 L353.39 53.2 L354.47 47.8 L357.71 43.48 L362.03 39.7 L367.43 37 L373.91 34.84 L380.39 33.22 L386.87 32.14 L393.35 29.98 L398.75 26.2 L401.99 21.88 L404.15 18.64 L404.69 17.78 L404.69 16Z"/>
<path d="M566.2 16 L566.2 17.78 L564.58 22.96 L565.66 31.6 L566.2 39.16 L569.98 40.24 L571.6 44.56 L573.76 51.04 L577 56.44 L581.32 64 L582.94 58.6 L584.34 64 L585.64 70.48 L589.96 73.71 L594.28 79.11 L598.6 84.51 L601.84 89.91 L602.92 83.43 L600.76 76.95 L598.6 73.17 L601.84 76.95 L605.08 85.59 L607.24 89.91 L605.08 94.23 L609.4 97.47 L611.56 94.23 L614.79 85.59 L617.49 79.65 L616.41 87.75 L614.79 93.15 L618.03 94.23 L613.71 99.63 L614.79 108.27 L619.11 107.19 L622.35 109.35 L621.27 103.95 L620.19 99.63 L625.59 100.17 L628.83 99.09 L632.07 102.87 L632.07 107.19 L634.23 111.51 L636.39 107.19 L640.71 106.11 L645.03 106.11 L641.79 110.43 L639.63 113.67 L645.03 114.75 L648.27 116.91 L651.51 122.31 L654.75 126.63 L656.91 129.87 L657.99 135.27 L657.99 141.75 L659.07 148.23 L662.31 151.47 L666.63 155.79 L665.55 159.03 L667.71 164.43 L669.87 170.04 L667.54 159.32 L669.16 165.8 L672.4 172.28 L670.78 174.98 L674.02 176.6 L675.64 183.08 L676.18 189.56 L678.34 196.04 L680.5 202.52 L681.58 205.76 L680.5 209 L681.04 215.48 L677.8 219.79 L676.18 224.11 L675.64 228.43 L673.48 233.83 L672.4 239.23 L671.32 244.63 L668.62 248.95 L667 254.35 L665.92 260.83 L664.84 267.31 L665.92 271.63 L669.16 272.17 L672.4 271.63 L673.48 278.11 L675.64 274.87 L677.8 269.47 L681.04 261.91 L684.28 256.51 L684.82 250.03 L686.98 250.03 L686.44 256.51 L683.2 264.07 L681.04 273.79 L685.36 277.03 L687.52 280.27 L690.76 273.79 L694 264.07 L697.24 261.91 L694 267.31 L692.92 273.79 L691.84 279.19 L696.16 281.35 L700.48 279.19 L702.1 272.71 L702.63 267.31 L704.79 266.23 L705.87 273.79 L705.33 280.27 L709.11 277.03 L710.19 271.63 L713.43 266.23 L713.43 273.79 L710.73 279.19 L711.27 282.43 L715.59 283.51 L719.91 280.27 L724.23 275.95 L727.47 271.63 L728.55 266.23 L731.79 265.15 L735.03 261.91 L738.27 261.91 L741.51 257.59 L744.75 256.51 L747.99 257.59 L752.31 254.35 L754.47 251.11 L752.31 246.79 L750.15 241.39 L749.07 238.69 L752.31 237.61 L751.23 241.39 L752.31 245.71 L755.55 250.03 L759.87 251.11 L764.19 250.57 L768.51 247.87 L771.75 243.55 L774.45 238.15 L776.07 232.75 L778.23 228.43 L778.77 224.11 L777.69 218.71 L778.23 214.4 L776.07 212.24 L778.23 210.62 L780.39 214.4 L783.63 217.63 L786.87 221.95 L789.57 225.19 L793.35 224.11 L790.11 227.35 L791.19 231.67 L792.27 237.07 L795.51 242.47 L797.67 247.87 L799.29 250.03 L804.15 248.95 L812.79 247.33 L809.55 250.03 L808.47 256.51 L808.47 262.99 L807.39 268.39 L809.01 273.79 L811.71 279.19 L812.79 284.59 L813.87 291.07 L814.95 296.47 L814.41 301.87 L817.11 306.19 L817.65 309.21 L817.65 311.5 L827.5 311.5 L827.5 16Z"/>
<path d="M405.53 16 L405.53 17.97 L405.53 18.67 L404.13 32.36 L407.99 33.06 L409.74 28.14 L411.5 34.46 L413.6 36.57 L415.71 34.46 L418.16 32.36 L420.97 33.06 L422.38 28.85 L423.78 37.27 L425.89 36.57 L427.64 32.36 L429.4 26.04 L431.5 24.64 L432.2 32.36 L433.26 36.22 L435.71 35.87 L437.82 37.97 L440.63 37.27 L441.33 34.46 L439.92 32.36 L444.14 33.76 L447.65 33.41 L448.35 31.65 L446.24 27.44 L451.16 26.74 L453.26 28.14 L453.96 32.36 L456.77 31.65 L457.47 26.74 L460.28 26.04 L460.98 28.85 L463.79 28.14 L465.9 23.93 L468 24.64 L468.7 29.55 L470.81 30.25 L472.92 27.44 L477.83 24.64 L482.04 22.53 L481.69 19.72 L482.74 17.97 L482.74 16Z"/>
<path d="M487.66 16 L487.66 17.97 L488.01 23.23 L491.17 24.99 L494.68 26.39 L498.19 24.28 L500.29 21.83 L501.7 23.93 L504.5 20.42 L507.31 19.02 L509.42 23.23 L512.23 20.42 L512.93 18.67 L513.63 17.97 L513.63 16Z"/>
<path d="M635.31 127.17 L639.63 126.63 L643.95 130.95 L649.35 135.27 L652.59 138.51 L654.75 146.07 L653.67 150.39 L649.35 148.23 L643.95 142.83 L639.63 137.43 L636.39 133.11 L634.77 129.87Z"/>
<path d="M641.79 122.31 L646.11 121.77 L650.43 124.47 L653.67 126.63 L652.59 130.95 L648.27 133.11 L645.03 129.87 L642.87 125.55Z"/>
<path d="M634.77 149.85 L640.71 148.77 L645.03 150.39 L645.57 155.79 L642.87 158.49 L639.09 156.33 L636.39 152.55Z"/>
<path d="M566.2 20.8 L568.9 24.04 L571.6 28.36 L572.68 33.76 L571.06 38.62 L567.28 39.37 L565.98 34.84 L566.2 28.36 L564.58 25.12Z"/>
<path d="M800.91 250.57 L804.15 249.49 L807.39 251.11 L806.85 257.59 L805.77 262.45 L803.61 258.67 L801.99 254.35Z"/>
<path d="M281.58 124.47 L280.5 121.23 L283.2 116.91 L286.44 112.59 L290.76 108.81 L295.08 106.44 L298.86 107.19 L299.61 110.43 L299.18 114.21 L295.08 116.37 L288.6 119.61 L283.2 122.85Z" fill="#fff"/>
<path d="M410.09 19.02 L409.04 23.23 L410.09 28.14M423.08 19.72 L423.78 26.04 L422.73 29.55M427.99 19.72 L426.94 26.04 L425.89 35.16M431.5 19.02 L431.85 24.64M440.63 19.02 L444.14 21.13 L446.94 22.53 L447.3 27.44M460.28 19.72 L460.63 26.04M465.2 19.72 L465.9 23.93M472.21 21.13 L471.51 24.64 L472.92 27.44M436.42 33.06 L438.52 28.85 L439.22 32.36" fill="none"/>
</g>
<g clip-path="url(#mkG)">
<rect x="60" y="0" width="790" height="330" fill="#fee0bf"/><path d="M153.94 268.05 L170.14 262.99 L186.33 250.84 L198.48 238.69 L210.63 222.49 L222.78 212.37 L238.98 196.17 L249.1 190.1 L269.35 184.03 L279.47 173.9 L287.57 163.78 L295.67 147.58 L299.72 137.46 L304.78 131.38 L311.87 124.3 L319.96 122.27 L328.06 127.33 L315.91 131.38 L307.82 135.43 L305.79 139.48 L313.89 155.68 L321.99 171.88 L319.96 190.1 L317.94 210.35 L316.93 230.59 L315.91 250.84 L314.9 271.09 L315.91 281.21 L319.96 297.41 L313.89 309.96 L313.89 321.71 L356.41 321.71 L356.41 309.96 L354.38 297.41 L355.4 281.21 L354.38 260.96 L350.33 246.79 L352.36 230.59 L360.46 210.35 L366.53 200.22 L369.57 184.03 L369.57 159.73 L368.56 139.48 L369.57 127.33 L364.51 119.24 L356.41 120.25 L358.43 113.77 L365.32 108.5 L373.82 101.62 L382.53 92.91 L391.23 82.59 L399.94 74.89 L409.05 68.62 L421.2 64.97 L441.45 61.33 L451.97 58.09 L461.69 51.41 L461.69 30.15 L360.46 30.15 L259.22 131.38 L137.74 256.91Z" fill="#fc8d59"/><path d="M79.02 313.61 L81.05 309.96 L92.19 298.42 L104.33 297.41 L104.74 309.96 L104.74 313.61Z" fill="#fc8d59"/><path d="M399.94 75.7C401.8 74.02 406.86 73 411.08 72.67C415.29 72.33 421.54 72.33 425.25 73.68C428.96 75.03 431.49 78.23 433.35 80.77C435.2 83.3 436.72 85.83 436.38 88.86C436.05 91.9 433.85 95.61 431.32 98.99C428.79 102.36 424.24 107.26 421.2 109.11C418.16 110.97 415.46 110.8 413.1 110.12C410.74 109.45 408.71 107.93 407.03 105.06C405.34 102.19 404.16 96.63 402.98 92.91C401.8 89.2 400.45 85.66 399.94 82.79C399.43 79.92 398.08 77.39 399.94 75.7Z" fill="#fc8d59"/><path d="M419.17 138.47 L433.35 137.46 L440.43 145.56 L445.5 138.47 L453.59 136.45 L460.68 139.48 L461.69 147.58 L458.66 155.68 L451.97 155.68 L441.45 149.61 L433.35 151.63 L419.17 157.7 L416.14 147.58Z" fill="#fc8d59"/><path d="M428.29 254.89C429.97 251.68 435.88 246.62 439.42 245.78C442.96 244.94 447.18 247.3 449.55 249.83C451.91 252.36 453.26 255.73 453.59 260.96C453.93 266.19 451.23 275.14 451.57 281.21C451.91 287.29 454.61 292.62 455.62 297.41C456.63 302.2 457.31 305.91 457.64 309.96C457.98 314.01 465.41 319.75 457.64 321.71C449.88 323.66 418.84 323.66 411.08 321.71C403.31 319.75 409.39 313.67 411.08 309.96C412.76 306.25 417.49 303.21 421.2 299.43C424.91 295.65 430.99 291.33 433.35 287.29C435.71 283.24 436.05 278.85 435.37 275.14C434.7 271.43 430.48 268.39 429.3 265.01C428.12 261.64 426.6 258.1 428.29 254.89Z" fill="#fc8d59"/><path d="M249.1 262.99C251.12 262.99 253.49 266.03 255.17 269.06C256.86 272.1 257.87 276.49 259.22 281.21C260.57 285.94 261.92 292.62 263.27 297.41C264.62 302.2 266.48 305.91 267.32 309.96C268.17 314.01 275.25 319.75 268.33 321.71C261.42 323.66 232.73 323.66 225.82 321.71C218.9 319.75 224.97 314.01 226.83 309.96C228.68 305.91 234.59 302.2 236.95 297.41C239.31 292.62 239.99 285.94 241 281.21C242.01 276.49 241.68 272.1 243.03 269.06C244.38 266.03 247.07 262.99 249.1 262.99Z" fill="#fc8d59"/><path d="M468.22 48.37 L470.25 38.25 L518.84 38.25 L525.93 55.46 L537.06 55.46 L549.21 64.57 L551.24 84.82 L543.14 92.91 L535.04 93.32 L530.99 86.84 L526.94 74.69 L520.86 64.57 L514.79 56.47 L510.74 51.41 L500.62 49.99 L490.49 50.4 L485.43 55.46 L491.51 64.57 L488.47 78.74 L485.43 94.94 L483.41 107.09 L472.27 109.11 L469.23 98.99 L468.22 78.74 L467.21 62.54 L472.27 55.46Z" fill="#fc8d59"/><path d="M524.91 104.66C527.61 104.32 531.66 103.31 535.04 105.06C538.41 106.82 542.46 111.47 545.16 115.19C547.86 118.9 549.72 122.61 551.24 127.33C552.75 132.06 553.93 138.13 554.27 143.53C554.61 148.93 553.09 154.33 553.26 159.73C553.43 165.13 554.61 171.2 555.28 175.93C555.96 180.65 557.98 184.03 557.31 188.07C556.63 192.12 553.6 196.85 551.24 200.22C548.87 203.6 545.84 206.3 543.14 208.32C540.44 210.35 538.07 213.05 535.04 212.37C532 211.7 527.28 207.98 524.91 204.27C522.55 200.56 523.23 194.82 520.86 190.1C518.5 185.38 513.44 180.99 510.74 175.93C508.04 170.86 506.69 165.13 504.67 159.73C502.64 154.33 499.94 147.24 498.59 143.53C497.24 139.82 496.23 140.49 496.57 137.46C496.91 134.42 498.26 129.02 500.62 125.31C502.98 121.6 507.7 118.22 510.74 115.19C513.78 112.15 516.48 108.84 518.84 107.09C521.2 105.33 522.21 104.99 524.91 104.66Z" fill="#fc8d59"/><path d="M520.86 239.1C523.56 239.1 528.29 240.45 530.99 242.74C533.69 245.04 535.54 248.82 537.06 252.87C538.58 256.91 539.76 262.31 540.1 267.04C540.44 271.76 538.92 276.15 539.09 281.21C539.26 286.27 540.1 292.62 541.11 297.41C542.12 302.2 544.32 305.91 545.16 309.96C546 314.01 553.77 319.75 546.17 321.71C538.58 323.66 507.2 323.66 499.61 321.71C492.01 319.75 499.44 314.01 500.62 309.96C501.8 305.91 505.85 302.2 506.69 297.41C507.54 292.62 505.34 286.27 505.68 281.21C506.02 276.15 507.87 271.76 508.72 267.04C509.56 262.31 509.73 256.91 510.74 252.87C511.75 248.82 513.1 245.04 514.79 242.74C516.48 240.45 518.16 239.1 520.86 239.1Z" fill="#fc8d59"/><path d="M560.35 48.37 L563.38 55.46 L567.43 68.62 L575.53 84.82 L581.61 103.04 L581.61 119.24 L582.62 139.48 L587.68 159.73 L591.73 179.98 L594.77 200.22 L593.75 220.47 L589.7 240.72 L587.68 260.96 L589.7 281.21 L591.73 297.41 L589.7 309.96 L589.7 321.71 L634.65 321.71 L634.25 309.96 L633.24 297.41 L626.15 281.21 L623.11 260.96 L624.12 240.72 L628.17 220.47 L630.2 200.22 L633.24 184.03 L628.17 171.88 L622.1 159.73 L618.05 149.61 L620.07 139.48 L632.22 137.46 L632.22 48.37Z" fill="#fc8d59"/><path d="M641.33 171.88 L652.47 170.86 L672.72 170.86 L672.72 248.82 L652.47 252.87 L649.43 240.72 L650.45 220.47 L652.47 206.3 L648.42 194.15 L642.35 179.98Z" fill="#fc8d59"/><path d="M672.72 287.29 L684.87 288.3 L697.01 287.29 L715.24 287.29 L723.33 281.21 L757.75 281.21 L766.87 271.09 L814.45 305.51 L814.45 321.71 L686.89 321.71 L686.89 309.96 L685.88 301.46 L678.79 291.33Z" fill="#fc8d59"/><path d="M735.48 298.42 L747.63 290.32 L759.78 289.31 L766.87 298.02 L757.75 306.52 L745.61 305.51Z" fill="#fee0bf"/><path d="M169.12 252.87 L171.96 249.22 L178.84 242.34 L185.73 235.45 L193.62 227.76 L200.51 219.86 L209.01 212.17 L217.72 204.27 L226.42 198.2 L237.56 192.33 L248.09 183.62 L261.05 176.74 L268.54 174.91 L277.04 167.22 L284.94 158.72 L290 150.82 L295.26 143.13 L300.53 136.24 L305.59 130.98 L311.87 126.32 L317.74 123.28 L326.44 121.46 L334.95 120.65 L343.65 118.83 L352.36 114.58 L360.86 108.5 L369.57 100.81 L378.28 91.29 L386.78 79.96 L393.66 70.44 L399.94 64.57 L409.05 60.52 L421.2 58.09 L441.45 56.06 L451.97 54.04 L461.69 52.42 L461.69 30.15 L360.46 30.15 L259.22 131.38 L157.99 240.72Z" fill="#c91d13"/><path d="M437.85 51.41 L450 50.4 L454.05 48.37 L456.07 42.3 L437.85 42.3Z" fill="#c91d13"/><path d="M488.47 46.35 L490.49 40.27 L516.82 40.27 L522.89 52.42 L510.74 48.37Z" fill="#c91d13"/><path d="M524.91 54.44 L535.04 53.43 L563.38 53.43 L563.38 56.47 L547.19 56.06Z" fill="#c91d13"/><path d="M569.46 68.62 L577.56 80.77 L589.7 98.99 L597.8 105.06 L603.88 103.04 L603.88 94.94 L575.53 66.59Z" fill="#c91d13"/><path d="M607.93 118.22 L611.98 121.26 L619.06 128.35 L624.12 128.35 L624.12 115.19 L609.95 115.19Z" fill="#c91d13"/><path d="M655.51 175.93 L658.54 186.05 L661.58 193.14 L666.64 193.14 L666.64 175.93Z" fill="#c91d13"/><path d="M766.87 277.16 L773.95 288.3 L778 299.43 L784.08 309.96 L786.1 321.71 L814.45 321.71 L814.45 305.51 L769.9 269.06Z" fill="#c91d13"/><path d="M218.73 203.26 L230.88 194.15 L243.03 186.05 L255.17 178.96 L265.09 174.91 L274.61 163.78 L281.49 155.27 L286.56 148.19 L291.01 142.32 L292.02 138.87 L302.55 128.35 L313.08 128.35 L323.2 118.63 L324.01 120.65 L330.7 120.65 L341.83 117.21 L352.36 111.14 L360.86 103.44 L369.57 95.55 L378.28 87.04 L386.78 75.7 L393.66 65.38 L399.94 60.11 L405 57.48 L419.17 55.46 L421.2 44.32 L360.46 38.25 L340.21 98.99 L259.22 131.38 L198.48 200.22Z" fill="#7f0000"/><path d="M775.98 287.29 L782.05 299.43 L790.15 309.96 L792.17 321.71 L814.45 321.71 L814.45 305.51 L782.05 281.21Z" fill="#7f0000"/>
</g>
<path d="M123.28 292.93L124.36 296.13L127.74 296.17L125.03 298.2L126.04 301.43L123.28 299.48L120.51 301.43L121.52 298.2L118.81 296.17L122.19 296.13ZM144.38 271.82L145.46 275.03L148.84 275.07L146.13 277.1L147.14 280.33L144.38 278.38L141.61 280.33L142.62 277.1L139.91 275.07L143.29 275.03ZM207.68 292.93L208.76 296.13L212.14 296.17L209.43 298.2L210.44 301.43L207.68 299.48L204.91 301.43L205.92 298.2L203.21 296.17L206.59 296.13ZM207.68 261.28L208.76 264.48L212.14 264.52L209.43 266.55L210.44 269.78L207.68 267.83L204.91 269.78L205.92 266.55L203.21 264.52L206.59 264.48ZM218.22 229.63L219.31 232.83L222.69 232.87L219.98 234.9L220.99 238.13L218.22 236.18L215.46 238.13L216.47 234.9L213.76 232.87L217.14 232.83ZM239.32 197.98L240.41 201.18L243.79 201.22L241.08 203.25L242.09 206.48L239.32 204.53L236.56 206.48L237.57 203.25L234.86 201.22L238.24 201.18ZM292.07 292.93L293.16 296.13L296.54 296.17L293.83 298.2L294.84 301.43L292.07 299.48L289.31 301.43L290.32 298.2L287.61 296.17L290.99 296.13ZM292.07 261.28L293.16 264.48L296.54 264.52L293.83 266.55L294.84 269.78L292.07 267.83L289.31 269.78L290.32 266.55L287.61 264.52L290.99 264.48ZM292.07 229.63L293.16 232.83L296.54 232.87L293.83 234.9L294.84 238.13L292.07 236.18L289.31 238.13L290.32 234.9L287.61 232.87L290.99 232.83ZM292.07 197.98L293.16 201.18L296.54 201.22L293.83 203.25L294.84 206.48L292.07 204.53L289.31 206.48L290.32 203.25L287.61 201.22L290.99 201.18ZM302.62 155.78L303.71 158.98L307.09 159.02L304.38 161.05L305.39 164.28L302.62 162.33L299.86 164.28L300.87 161.05L298.16 159.02L301.54 158.98ZM313.18 124.12L314.26 127.33L317.64 127.37L314.93 129.4L315.94 132.63L313.18 130.67L310.41 132.63L311.42 129.4L308.71 127.37L312.09 127.33ZM387.02 292.93L388.11 296.13L391.49 296.17L388.78 298.2L389.79 301.43L387.02 299.48L384.26 301.43L385.27 298.2L382.56 296.17L385.94 296.13ZM387.02 261.28L388.11 264.48L391.49 264.52L388.78 266.55L389.79 269.78L387.02 267.83L384.26 269.78L385.27 266.55L382.56 264.52L385.94 264.48ZM387.02 229.63L388.11 232.83L391.49 232.87L388.78 234.9L389.79 238.13L387.02 236.18L384.26 238.13L385.27 234.9L382.56 232.87L385.94 232.83ZM387.02 197.98L388.11 201.18L391.49 201.22L388.78 203.25L389.79 206.48L387.02 204.53L384.26 206.48L385.27 203.25L382.56 201.22L385.94 201.18ZM387.02 155.78L388.11 158.98L391.49 159.02L388.78 161.05L389.79 164.28L387.02 162.33L384.26 164.28L385.27 161.05L382.56 159.02L385.94 158.98ZM387.02 124.12L388.11 127.33L391.49 127.37L388.78 129.4L389.79 132.63L387.02 130.67L384.26 132.63L385.27 129.4L382.56 127.37L385.94 127.33ZM387.02 92.48L388.11 95.68L391.49 95.72L388.78 97.75L389.79 100.98L387.02 99.03L384.26 100.98L385.27 97.75L382.56 95.72L385.94 95.68ZM408.12 60.83L409.21 64.03L412.59 64.07L409.88 66.1L410.89 69.33L408.12 67.38L405.36 69.33L406.37 66.1L403.66 64.07L407.04 64.03ZM450.33 71.38L451.41 74.58L454.79 74.62L452.08 76.65L453.09 79.88L450.33 77.92L447.56 79.88L448.57 76.65L445.86 74.62L449.24 74.58ZM450.33 81.92L451.41 85.13L454.79 85.17L452.08 87.2L453.09 90.43L450.33 88.47L447.56 90.43L448.57 87.2L445.86 85.17L449.24 85.13ZM450.33 103.02L451.41 106.23L454.79 106.27L452.08 108.3L453.09 111.53L450.33 109.57L447.56 111.53L448.57 108.3L445.86 106.27L449.24 106.23ZM450.33 187.43L451.41 190.63L454.79 190.67L452.08 192.7L453.09 195.93L450.33 193.97L447.56 195.93L448.57 192.7L445.86 190.67L449.24 190.63ZM450.33 208.53L451.41 211.73L454.79 211.77L452.08 213.8L453.09 217.03L450.33 215.08L447.56 217.03L448.57 213.8L445.86 211.77L449.24 211.73ZM460.88 50.27L461.96 53.48L465.34 53.52L462.63 55.55L463.64 58.78L460.88 56.83L458.11 58.78L459.12 55.55L456.41 53.52L459.79 53.48ZM481.98 124.12L483.06 127.33L486.44 127.37L483.73 129.4L484.74 132.63L481.98 130.67L479.21 132.63L480.22 129.4L477.51 127.37L480.89 127.33ZM481.98 155.78L483.06 158.98L486.44 159.02L483.73 161.05L484.74 164.28L481.98 162.33L479.21 164.28L480.22 161.05L477.51 159.02L480.89 158.98ZM481.98 229.63L483.06 232.83L486.44 232.87L483.73 234.9L484.74 238.13L481.98 236.18L479.21 238.13L480.22 234.9L477.51 232.87L480.89 232.83ZM481.98 261.28L483.06 264.48L486.44 264.52L483.73 266.55L484.74 269.78L481.98 267.83L479.21 269.78L480.22 266.55L477.51 264.52L480.89 264.48ZM481.98 292.93L483.06 296.13L486.44 296.17L483.73 298.2L484.74 301.43L481.98 299.48L479.21 301.43L480.22 298.2L477.51 296.17L480.89 296.13ZM503.08 50.27L504.16 53.48L507.54 53.52L504.83 55.55L505.84 58.78L503.08 56.83L500.31 58.78L501.32 55.55L498.61 53.52L501.99 53.48ZM503.08 71.38L504.16 74.58L507.54 74.62L504.83 76.65L505.84 79.88L503.08 77.92L500.31 79.88L501.32 76.65L498.61 74.62L501.99 74.58ZM503.08 81.92L504.16 85.13L507.54 85.17L504.83 87.2L505.84 90.43L503.08 88.47L500.31 90.43L501.32 87.2L498.61 85.17L501.99 85.13ZM503.08 103.02L504.16 106.23L507.54 106.27L504.83 108.3L505.84 111.53L503.08 109.57L500.31 111.53L501.32 108.3L498.61 106.27L501.99 106.23ZM503.08 187.43L504.16 190.63L507.54 190.67L504.83 192.7L505.84 195.93L503.08 193.97L500.31 195.93L501.32 192.7L498.61 190.67L501.99 190.63ZM503.08 208.53L504.16 211.73L507.54 211.77L504.83 213.8L505.84 217.03L503.08 215.08L500.31 217.03L501.32 213.8L498.61 211.77L501.99 211.73ZM555.83 60.83L556.91 64.03L560.29 64.07L557.58 66.1L558.59 69.33L555.83 67.38L553.06 69.33L554.07 66.1L551.36 64.07L554.74 64.03ZM566.38 92.48L567.46 95.68L570.84 95.72L568.13 97.75L569.14 100.98L566.38 99.03L563.61 100.98L564.62 97.75L561.91 95.72L565.29 95.68ZM566.38 124.12L567.46 127.33L570.84 127.37L568.13 129.4L569.14 132.63L566.38 130.67L563.61 132.63L564.62 129.4L561.91 127.37L565.29 127.33ZM566.38 155.78L567.46 158.98L570.84 159.02L568.13 161.05L569.14 164.28L566.38 162.33L563.61 164.28L564.62 161.05L561.91 159.02L565.29 158.98ZM566.38 197.98L567.46 201.18L570.84 201.22L568.13 203.25L569.14 206.48L566.38 204.53L563.61 206.48L564.62 203.25L561.91 201.22L565.29 201.18ZM566.38 229.63L567.46 232.83L570.84 232.87L568.13 234.9L569.14 238.13L566.38 236.18L563.61 238.13L564.62 234.9L561.91 232.87L565.29 232.83ZM566.38 261.28L567.46 264.48L570.84 264.52L568.13 266.55L569.14 269.78L566.38 267.83L563.61 269.78L564.62 266.55L561.91 264.52L565.29 264.48ZM566.38 292.93L567.46 296.13L570.84 296.17L568.13 298.2L569.14 301.43L566.38 299.48L563.61 301.43L564.62 298.2L561.91 296.17L565.29 296.13ZM629.67 145.23L630.76 148.43L634.14 148.47L631.43 150.5L632.44 153.73L629.67 151.78L626.91 153.73L627.92 150.5L625.21 148.47L628.59 148.43ZM640.23 208.53L641.31 211.73L644.69 211.77L641.98 213.8L642.99 217.03L640.23 215.08L637.46 217.03L638.47 213.8L635.76 211.77L639.14 211.73ZM640.23 261.28L641.31 264.48L644.69 264.52L641.98 266.55L642.99 269.78L640.23 267.83L637.46 269.78L638.47 266.55L635.76 264.52L639.14 264.48ZM661.33 292.93L662.41 296.13L665.79 296.17L663.08 298.2L664.09 301.43L661.33 299.48L658.56 301.43L659.57 298.2L656.86 296.17L660.24 296.13ZM756.28 292.93L757.36 296.13L760.74 296.17L758.03 298.2L759.04 301.43L756.28 299.48L753.51 301.43L754.52 298.2L751.81 296.17L755.19 296.13Z" fill="#000" stroke="#000" stroke-width="1.8" stroke-linejoin="round"/>
<path d="M170.75 18V309.5M276.25 18V309.5M381.75 18V309.5M487.25 18V309.5M592.75 18V309.5M698.25 18V309.5M803.75 18V309.5M77.5 271.25H825.5M77.5 229.05H825.5M77.5 186.85H825.5M77.5 144.65H825.5M77.5 102.45H825.5M77.5 60.25H825.5" stroke="#000" stroke-opacity="0.2" stroke-width="0.6" fill="none"/>
</g>
<rect x="77.5" y="18" width="748" height="291.5" fill="none" stroke="#000" stroke-width="1.5"/>
<text x="170.75" y="330.6" font-size="17.3" text-anchor="middle" >82.5°E</text>
<text x="276.25" y="330.6" font-size="17.3" text-anchor="middle" >85°E</text>
<text x="381.75" y="330.6" font-size="17.3" text-anchor="middle" >87.5°E</text>
<text x="487.25" y="330.6" font-size="17.3" text-anchor="middle" >90°E</text>
<text x="592.75" y="330.6" font-size="17.3" text-anchor="middle" >92.5°E</text>
<text x="698.25" y="330.6" font-size="17.3" text-anchor="middle" >95°E</text>
<text x="803.75" y="330.6" font-size="17.3" text-anchor="middle" >97.5°E</text>
<text x="67.8" y="275.65" font-size="17.3" text-anchor="end" >16°N</text>
<text x="67.8" y="233.45" font-size="17.3" text-anchor="end" >17°N</text>
<text x="67.8" y="191.25" font-size="17.3" text-anchor="end" >18°N</text>
<text x="67.8" y="149.05" font-size="17.3" text-anchor="end" >19°N</text>
<text x="67.8" y="106.85" font-size="17.3" text-anchor="end" >20°N</text>
<text x="67.8" y="64.65" font-size="17.3" text-anchor="end" >21°N</text>
<text x="152" y="54.2" font-size="31" text-anchor="middle" font-weight="bold" >(G)</text>
</g>
<rect x="833.75" y="1381.83" width="13.75" height="92.72" fill="#fee0bf"/>
<rect x="833.75" y="1289.42" width="13.75" height="92.72" fill="#fc8d59"/>
<rect x="833.75" y="1197" width="13.75" height="92.72" fill="#c91d13"/>
<path d="M833.75 1197.3L840.62 1182L847.5 1197.3Z" fill="#7f0000"/>
<path d="M833.75 1474.25L833.75 1197L840.62 1182L847.5 1197L847.5 1474.25Z" fill="none" stroke="#000" stroke-width="1.1" stroke-linejoin="miter"/>
<path d="M847.5 1474.25h5M847.5 1381.8h5M847.5 1289.4h5M847.5 1197h5" stroke="#000" stroke-width="1.2"/>
<text x="859.5" y="1480.65" font-size="19.5" text-anchor="start" >0</text>
<text x="859.5" y="1388.2" font-size="19.5" text-anchor="start" >0.1</text>
<text x="859.5" y="1295.8" font-size="19.5" text-anchor="start" >0.2</text>
<text x="859.5" y="1203.4" font-size="19.5" text-anchor="start" >0.3</text>
<text x="909.5" y="1336.6" font-size="28.5" text-anchor="middle" transform="rotate(-90 909.5 1336.6)" >Mean Error For SST [°C]</text>
<g transform="translate(935.25 1165)">
<clipPath id="axH"><rect x="77.5" y="18" width="748" height="291.5"/></clipPath>
<clipPath id="mkH"><path d="M70.52 318.73 L91.62 297.62 L102.17 297.62 L123.28 276.52 L133.82 276.52 L144.38 265.98 L154.93 265.98 L176.03 244.88 L176.03 234.33 L186.57 223.78 L197.12 223.78 L228.78 192.12 L239.32 192.12 L270.98 160.48 L270.98 149.93 L281.52 139.38 L292.07 139.38 L302.62 128.82 L313.18 128.82 L323.73 118.28 L334.27 118.28 L376.48 76.08 L376.48 54.98 L397.58 54.98 L408.12 44.42 L418.68 54.98 L439.78 54.98 L450.33 44.42 L460.88 54.98 L471.43 44.42 L513.62 44.42 L524.17 54.98 L566.38 54.98 L566.38 65.53 L598.03 97.18 L598.03 107.72 L608.58 118.28 L619.12 118.28 L619.12 139.38 L629.67 149.93 L629.67 160.48 L640.23 171.03 L650.78 171.03 L661.33 181.57 L661.33 244.88 L650.78 255.43 L650.78 265.98 L671.88 287.08 L682.42 287.08 L692.98 297.62 L714.08 297.62 L724.62 287.08 L756.28 287.08 L766.83 276.52 L809.03 318.73Z"/></clipPath>
<g clip-path="url(#axH)">
<g fill="#d3d3d3" stroke="#000" stroke-width="1.1" stroke-linejoin="round">
<path d="M75.5 16 L75.5 281.49 L77.56 281.49 L82.96 278.25 L88.36 276.09 L93.22 275.33 L96.46 276.63 L98.62 279.87 L98.29 283.11 L100.24 278.79 L101.64 270.37 L102.4 276.09 L104.56 279.33 L107.26 279.87 L106.18 281.81 L109.96 276.63 L113.2 272.31 L114.28 266.91 L116.44 261.51 L118.06 257.19 L120.76 255.57 L124 255.57 L129.4 255.9 L132.63 256.65 L136.95 258.27 L141.27 256.44 L147.75 254.49 L153.15 252.33 L158.55 249.09 L161.79 245.31 L163.95 242.07 L164.49 235.59 L163.95 231.81 L161.79 234.51 L160.17 233.43 L159.63 231.27 L161.25 228.03 L163.95 224.25 L167.19 221.02 L171.51 218.32 L177.99 215.08 L184.47 211.84 L190.95 209.14 L196.35 206.44 L200.67 203.74 L202.29 200.5 L204.99 199.42 L208.23 195.1 L210.39 190.78 L213.63 187.54 L216.87 184.84 L221.19 182.14 L226.59 179.44 L231.99 177.28 L237.39 175.12 L239.55 171.88 L242.79 168.64 L247.11 164.32 L250.8 157.95 L257.28 149.31 L263.76 141.21 L265.38 139.05 L270.24 134.19 L275.64 129.33 L281.58 125.01 L287.52 121.23 L294 117.99 L300.48 114.75 L306.95 112.05 L314.51 109.89 L320.99 108.27 L326.39 106.65 L331.79 104.49 L332.33 102.87 L328.55 99.63 L325.31 96.93 L324.45 96.18 L329.63 99.09 L333.95 101.79 L335.03 102.33 L337.19 97.47 L339.35 94.23 L343.67 92.07 L347.99 89.91 L351.23 86.67 L351.77 84.51 L349.61 83.43 L351.23 80.19 L354.47 77.49 L358.79 74.79 L361.49 72.63 L358.79 69.94 L356.09 69.4 L358.25 66.16 L356.63 61.84 L354.47 57.52 L353.39 53.2 L354.47 47.8 L357.71 43.48 L362.03 39.7 L367.43 37 L373.91 34.84 L380.39 33.22 L386.87 32.14 L393.35 29.98 L398.75 26.2 L401.99 21.88 L404.15 18.64 L404.69 17.78 L404.69 16Z"/>
<path d="M566.2 16 L566.2 17.78 L564.58 22.96 L565.66 31.6 L566.2 39.16 L569.98 40.24 L571.6 44.56 L573.76 51.04 L577 56.44 L581.32 64 L582.94 58.6 L584.34 64 L585.64 70.48 L589.96 73.71 L594.28 79.11 L598.6 84.51 L601.84 89.91 L602.92 83.43 L600.76 76.95 L598.6 73.17 L601.84 76.95 L605.08 85.59 L607.24 89.91 L605.08 94.23 L609.4 97.47 L611.56 94.23 L614.79 85.59 L617.49 79.65 L616.41 87.75 L614.79 93.15 L618.03 94.23 L613.71 99.63 L614.79 108.27 L619.11 107.19 L622.35 109.35 L621.27 103.95 L620.19 99.63 L625.59 100.17 L628.83 99.09 L632.07 102.87 L632.07 107.19 L634.23 111.51 L636.39 107.19 L640.71 106.11 L645.03 106.11 L641.79 110.43 L639.63 113.67 L645.03 114.75 L648.27 116.91 L651.51 122.31 L654.75 126.63 L656.91 129.87 L657.99 135.27 L657.99 141.75 L659.07 148.23 L662.31 151.47 L666.63 155.79 L665.55 159.03 L667.71 164.43 L669.87 170.04 L667.54 159.32 L669.16 165.8 L672.4 172.28 L670.78 174.98 L674.02 176.6 L675.64 183.08 L676.18 189.56 L678.34 196.04 L680.5 202.52 L681.58 205.76 L680.5 209 L681.04 215.48 L677.8 219.79 L676.18 224.11 L675.64 228.43 L673.48 233.83 L672.4 239.23 L671.32 244.63 L668.62 248.95 L667 254.35 L665.92 260.83 L664.84 267.31 L665.92 271.63 L669.16 272.17 L672.4 271.63 L673.48 278.11 L675.64 274.87 L677.8 269.47 L681.04 261.91 L684.28 256.51 L684.82 250.03 L686.98 250.03 L686.44 256.51 L683.2 264.07 L681.04 273.79 L685.36 277.03 L687.52 280.27 L690.76 273.79 L694 264.07 L697.24 261.91 L694 267.31 L692.92 273.79 L691.84 279.19 L696.16 281.35 L700.48 279.19 L702.1 272.71 L702.63 267.31 L704.79 266.23 L705.87 273.79 L705.33 280.27 L709.11 277.03 L710.19 271.63 L713.43 266.23 L713.43 273.79 L710.73 279.19 L711.27 282.43 L715.59 283.51 L719.91 280.27 L724.23 275.95 L727.47 271.63 L728.55 266.23 L731.79 265.15 L735.03 261.91 L738.27 261.91 L741.51 257.59 L744.75 256.51 L747.99 257.59 L752.31 254.35 L754.47 251.11 L752.31 246.79 L750.15 241.39 L749.07 238.69 L752.31 237.61 L751.23 241.39 L752.31 245.71 L755.55 250.03 L759.87 251.11 L764.19 250.57 L768.51 247.87 L771.75 243.55 L774.45 238.15 L776.07 232.75 L778.23 228.43 L778.77 224.11 L777.69 218.71 L778.23 214.4 L776.07 212.24 L778.23 210.62 L780.39 214.4 L783.63 217.63 L786.87 221.95 L789.57 225.19 L793.35 224.11 L790.11 227.35 L791.19 231.67 L792.27 237.07 L795.51 242.47 L797.67 247.87 L799.29 250.03 L804.15 248.95 L812.79 247.33 L809.55 250.03 L808.47 256.51 L808.47 262.99 L807.39 268.39 L809.01 273.79 L811.71 279.19 L812.79 284.59 L813.87 291.07 L814.95 296.47 L814.41 301.87 L817.11 306.19 L817.65 309.21 L817.65 311.5 L827.5 311.5 L827.5 16Z"/>
<path d="M405.53 16 L405.53 17.97 L405.53 18.67 L404.13 32.36 L407.99 33.06 L409.74 28.14 L411.5 34.46 L413.6 36.57 L415.71 34.46 L418.16 32.36 L420.97 33.06 L422.38 28.85 L423.78 37.27 L425.89 36.57 L427.64 32.36 L429.4 26.04 L431.5 24.64 L432.2 32.36 L433.26 36.22 L435.71 35.87 L437.82 37.97 L440.63 37.27 L441.33 34.46 L439.92 32.36 L444.14 33.76 L447.65 33.41 L448.35 31.65 L446.24 27.44 L451.16 26.74 L453.26 28.14 L453.96 32.36 L456.77 31.65 L457.47 26.74 L460.28 26.04 L460.98 28.85 L463.79 28.14 L465.9 23.93 L468 24.64 L468.7 29.55 L470.81 30.25 L472.92 27.44 L477.83 24.64 L482.04 22.53 L481.69 19.72 L482.74 17.97 L482.74 16Z"/>
<path d="M487.66 16 L487.66 17.97 L488.01 23.23 L491.17 24.99 L494.68 26.39 L498.19 24.28 L500.29 21.83 L501.7 23.93 L504.5 20.42 L507.31 19.02 L509.42 23.23 L512.23 20.42 L512.93 18.67 L513.63 17.97 L513.63 16Z"/>
<path d="M635.31 127.17 L639.63 126.63 L643.95 130.95 L649.35 135.27 L652.59 138.51 L654.75 146.07 L653.67 150.39 L649.35 148.23 L643.95 142.83 L639.63 137.43 L636.39 133.11 L634.77 129.87Z"/>
<path d="M641.79 122.31 L646.11 121.77 L650.43 124.47 L653.67 126.63 L652.59 130.95 L648.27 133.11 L645.03 129.87 L642.87 125.55Z"/>
<path d="M634.77 149.85 L640.71 148.77 L645.03 150.39 L645.57 155.79 L642.87 158.49 L639.09 156.33 L636.39 152.55Z"/>
<path d="M566.2 20.8 L568.9 24.04 L571.6 28.36 L572.68 33.76 L571.06 38.62 L567.28 39.37 L565.98 34.84 L566.2 28.36 L564.58 25.12Z"/>
<path d="M800.91 250.57 L804.15 249.49 L807.39 251.11 L806.85 257.59 L805.77 262.45 L803.61 258.67 L801.99 254.35Z"/>
<path d="M281.58 124.47 L280.5 121.23 L283.2 116.91 L286.44 112.59 L290.76 108.81 L295.08 106.44 L298.86 107.19 L299.61 110.43 L299.18 114.21 L295.08 116.37 L288.6 119.61 L283.2 122.85Z" fill="#fff"/>
<path d="M410.09 19.02 L409.04 23.23 L410.09 28.14M423.08 19.72 L423.78 26.04 L422.73 29.55M427.99 19.72 L426.94 26.04 L425.89 35.16M431.5 19.02 L431.85 24.64M440.63 19.02 L444.14 21.13 L446.94 22.53 L447.3 27.44M460.28 19.72 L460.63 26.04M465.2 19.72 L465.9 23.93M472.21 21.13 L471.51 24.64 L472.92 27.44M436.42 33.06 L438.52 28.85 L439.22 32.36" fill="none"/>
</g>
<g clip-path="url(#mkH)">
<rect x="60" y="0" width="790" height="330" fill="#8c96c6"/><path d="M56.75 341.95 L56.75 220.47 L323.61 98.99 L323.61 118.63 L328.06 131.38 L326.04 147.58 L319.96 163.78 L309.84 177.95 L301.74 190.1 L297.69 210.35 L299.72 230.59 L305.79 246.79 L313.89 260.96 L319.96 277.16 L317.94 291.33 L309.84 309.96 L309.84 341.95Z" fill="#b3cde3"/><path d="M355.4 321.71C317.36 319.75 354.55 315.02 355.4 309.96C356.24 304.9 358.6 297.81 360.46 291.33C362.31 284.86 363.83 277.84 366.53 271.09C369.23 264.34 374.12 257.59 376.66 250.84C379.19 244.09 380.87 240.11 381.72 230.59C382.57 221.08 380.84 201.9 381.75 193.74C382.65 185.57 386.47 184.96 387.15 181.59C387.82 178.21 386.7 176.19 385.8 173.49C384.9 170.79 382.87 167.64 381.75 165.39C380.62 163.14 378.24 162.13 379.05 159.99C379.86 157.85 384.13 152.56 386.61 152.56C389.08 152.56 392.91 156.95 393.9 159.99C394.89 163.03 391.65 167.86 392.55 170.79C393.45 173.71 396.6 175.51 399.3 177.54C402 179.56 406.05 181.59 408.75 182.94C411.45 184.29 411.9 184.51 415.5 185.64C419.09 186.76 425.84 189.46 430.34 189.69C434.84 189.91 439.34 188.34 442.49 186.99C445.64 185.64 446.77 181.59 449.24 181.59C451.72 181.59 455.09 184.96 457.34 186.99C459.59 189.01 460.49 191.94 462.74 193.74C464.99 195.54 467.69 197.11 470.84 197.79C473.99 198.46 479.39 199.14 481.64 197.79C483.89 196.44 483.33 191.94 484.34 189.69C485.35 187.44 487.71 185.86 487.71 184.29C487.71 182.71 485.8 182.49 484.34 180.24C482.88 177.99 480.96 173.26 478.94 170.79C476.92 168.31 473.88 168.09 472.19 165.39C470.5 162.69 469.27 157.74 468.82 154.59C468.37 151.44 469.15 150.09 469.49 146.49C469.83 142.89 470.17 136.59 470.84 132.99C471.52 129.39 471.74 127.14 473.54 124.89C475.34 122.64 478.94 120.84 481.64 119.49C484.34 118.14 487.04 118.14 489.74 116.79C492.44 115.44 496.71 114.09 497.84 111.39C498.96 108.69 496.94 104.19 496.49 100.59C496.04 96.99 496.26 93.39 495.14 89.79C494.01 86.2 490.86 82.37 489.74 79C488.61 75.62 488.16 72.7 488.39 69.55C488.61 66.4 489.96 62.35 491.09 60.1C492.21 57.85 493.18 57.4 495.14 56.05C497.1 54.7 500.81 51.77 502.83 52C504.86 52.22 505.87 55.82 507.29 57.4C508.71 58.97 510.89 59.42 511.34 61.45C511.79 63.47 509.88 66.62 509.99 69.55C510.1 72.47 511.79 75.62 512.01 79C512.24 82.37 511.67 86.2 511.34 89.79C511 93.39 510.44 96.99 509.99 100.59C509.54 104.19 509.76 109.14 508.64 111.39C507.51 113.64 504.59 112.29 503.24 114.09C501.89 115.89 501.89 119.04 500.54 122.19C499.19 125.34 496.26 128.94 495.14 132.99C494.01 137.04 493.79 141.99 493.79 146.49C493.79 150.99 494.91 155.94 495.14 159.99C495.36 164.04 493.79 167.41 495.14 170.79C496.49 174.16 500.54 177.09 503.24 180.24C505.94 183.39 508.41 186.76 511.34 189.69C514.26 192.61 517.19 195.76 520.79 197.79C524.39 199.81 529.56 201.84 532.94 201.84C536.31 201.84 538.34 199.81 541.04 197.79C543.73 195.76 546.43 192.61 549.13 189.69C551.83 186.76 556.33 183.39 557.23 180.24C558.13 177.09 555.66 174.16 554.53 170.79C553.41 167.41 551.61 164.04 550.48 159.99C549.36 155.94 548.01 150.99 547.78 146.49C547.56 141.99 548.01 137.04 549.13 132.99C550.26 128.94 552.73 125.79 554.53 122.19C556.33 118.59 559.26 114.99 559.93 111.39C560.61 107.79 558.58 103.74 558.58 100.59C558.58 97.44 558.81 94.52 559.93 92.49C561.06 90.47 563.53 88.67 565.33 88.44C567.13 88.22 568.93 89.57 570.73 91.14C572.53 92.72 575.01 94.97 576.13 97.89C577.26 100.82 576.13 105.09 577.48 108.69C578.83 112.29 581.98 115.67 584.23 119.49C586.48 123.32 589.63 127.59 590.98 131.64C592.33 135.69 592.78 139.97 592.33 143.79C591.88 147.62 590.08 150.99 588.28 154.59C586.48 158.19 584.01 161.11 581.53 165.39C579.06 169.66 575.23 175.51 573.43 180.24C571.63 184.96 569.71 191.42 570.73 193.74C571.76 196.06 577.6 191.38 579.58 194.15C581.56 196.92 582.28 204.27 582.62 210.35C582.96 216.42 581.44 223.84 581.61 230.59C581.77 237.34 583.63 244.09 583.63 250.84C583.63 257.59 581.61 265.01 581.61 271.09C581.61 277.16 581.94 282.22 583.63 287.29C585.32 292.35 591.73 297.68 591.73 301.46C591.73 305.24 584.98 306.59 583.63 309.96C582.28 313.34 621.67 319.75 583.63 321.71C545.59 323.66 393.44 323.66 355.4 321.71Z" fill="#b3cde3"/><path d="M640.32 198.2C643.36 197.35 646.9 197.52 650.45 199.21C653.99 200.9 657.87 204.78 661.58 208.32C665.29 211.87 670.86 213.72 672.72 220.47C674.57 227.22 676.09 242.74 672.72 248.82C669.34 254.89 655.84 253.88 652.47 256.91C649.1 259.95 649.1 261.98 652.47 267.04C655.84 272.1 669.01 283.24 672.72 287.29C676.43 291.33 675.42 288.97 674.74 291.33C674.07 293.7 670.69 299.1 668.67 301.46C666.64 303.82 665.29 305.51 662.59 305.51C659.89 305.51 655.84 304.16 652.47 301.46C649.1 298.76 645.72 293.02 642.35 289.31C638.97 285.6 634.92 283.24 632.22 279.19C629.52 275.14 627.5 269.74 626.15 265.01C624.8 260.29 623.96 256.58 624.12 250.84C624.29 245.1 626.49 236.33 627.16 230.59C627.84 224.86 627.33 220.81 628.17 216.42C629.02 212.03 630.2 207.31 632.22 204.27C634.25 201.24 637.28 199.04 640.32 198.2Z" fill="#b3cde3"/><path d="M609.95 147.58C610.63 145.22 615.35 141.17 618.05 139.48C620.75 137.79 623.11 135.77 626.15 137.46C629.19 139.14 634.59 145.22 636.27 149.61C637.96 153.99 638.63 162.09 636.27 163.78C633.91 165.47 625.81 161.42 622.1 159.73C618.39 158.04 616.03 155.68 614 153.65C611.98 151.63 609.28 149.94 609.95 147.58Z" fill="#b3cde3"/><path d="M454.64 52C456.1 51.66 458.69 54.02 460.72 54.02C462.74 54.02 465.33 50.99 466.79 52C468.25 53.01 469.94 57.85 469.49 60.1C469.04 62.35 465.89 63.92 464.09 65.5C462.29 67.07 459.7 67.3 458.69 69.55C457.68 71.8 458.02 75.62 458.02 79C458.02 82.37 458.8 86.2 458.69 89.79C458.58 93.39 458.02 96.99 457.34 100.59C456.67 104.19 455.99 108.92 454.64 111.39C453.29 113.87 451.04 115.44 449.24 115.44C447.44 115.44 444.97 112.97 443.84 111.39C442.72 109.82 442.94 108.69 442.49 105.99C442.04 103.29 441.59 98.79 441.14 95.19C440.69 91.59 440.24 87.1 439.79 84.4C439.34 81.7 439.79 80.12 438.44 79C437.09 77.87 433.04 78.55 431.69 77.65C430.34 76.75 429.67 74.95 430.34 73.6C431.02 72.25 433.94 70.9 435.74 69.55C437.54 68.2 439.12 67.07 441.14 65.5C443.17 63.92 446.09 61.67 447.89 60.1C449.69 58.52 450.82 57.4 451.94 56.05C453.07 54.7 453.18 52.34 454.64 52Z" fill="#b3cde3"/><path d="M555.61 58.75 L562.63 65.5 L555.61 73.6 L549.13 65.5Z" fill="#b3cde3"/><path d="M386.61 88.44 L395.25 97.22 L386.61 105.99 L377.97 97.22Z" fill="#b3cde3"/><path d="M386.61 120.17 L395.25 128.67 L386.61 137.04 L377.97 128.67Z" fill="#b3cde3"/><path d="M407.8 58.75 L414.15 65.5 L407.8 72.25 L401.32 65.5Z" fill="#b3cde3"/><path d="M103.32 298.42C104.67 295.38 107.37 302.98 111.42 303.48C115.47 303.99 122.22 302.81 127.62 301.46C133.02 300.11 138.08 296.9 143.82 295.38C149.55 293.87 156.98 292.18 162.04 292.35C167.1 292.52 170.47 293.46 174.19 296.4C177.9 299.33 182.62 305.74 184.31 309.96C186 314.18 197.81 319.75 184.31 321.71C170.81 323.66 116.82 325.59 103.32 321.71C89.82 317.82 101.97 301.46 103.32 298.42Z" fill="#8c96c6"/><path d="M164.06 258.94C163.05 255.23 164.16 245.78 166.09 240.72C168.01 235.66 172.23 231.94 175.6 228.57C178.98 225.19 182.52 221.82 186.33 220.47C190.15 219.12 195.28 221.15 198.48 220.47C201.69 219.8 204.22 214.73 205.57 216.42C206.92 218.11 207.09 225.53 206.58 230.59C206.07 235.66 204.22 242.4 202.53 246.79C200.84 251.18 199.16 254.05 196.46 256.91C193.76 259.78 190.38 262.99 186.33 264C182.28 265.01 175.87 263.83 172.16 262.99C168.45 262.15 165.07 262.65 164.06 258.94Z" fill="#8c96c6"/><path d="M238.98 236.67C242.01 234.64 245.05 231.94 249.1 230.59C253.15 229.24 259.56 227.89 263.27 228.57C266.98 229.24 269.35 231.61 271.37 234.64C273.4 237.68 274.75 242.4 275.42 246.79C276.1 251.18 276.43 256.58 275.42 260.96C274.41 265.35 271.03 269.06 269.35 273.11C267.66 277.16 265.3 281.21 265.3 285.26C265.3 289.31 267.32 293.29 269.35 297.41C271.37 301.53 275.93 305.91 277.45 309.96C278.96 314.01 286.39 319.75 278.46 321.71C270.53 323.66 237.8 323.66 229.86 321.71C221.93 319.75 229.36 314.01 230.88 309.96C232.4 305.91 237.29 301.19 238.98 297.41C240.66 293.63 241.68 290.66 241 287.29C240.33 283.91 236.95 280.87 234.93 277.16C232.9 273.45 230.03 269.06 228.85 265.01C227.67 260.96 227.5 256.58 227.84 252.87C228.18 249.15 229.02 245.44 230.88 242.74C232.73 240.04 235.94 238.69 238.98 236.67Z" fill="#8c96c6"/><path d="M270.36 143.53C273.9 139.14 276.94 134.08 280.48 133.41C284.03 132.73 289.42 137.12 291.62 139.48C293.81 141.84 293.98 144.21 293.64 147.58C293.31 150.96 291.28 155.68 289.59 159.73C287.91 163.78 285.21 168.17 283.52 171.88C281.83 175.59 281.49 179.47 279.47 182C277.45 184.53 274.75 186.05 271.37 187.06C268 188.07 262.94 188.41 259.22 188.07C255.51 187.74 251.12 187.06 249.1 185.04C247.07 183.01 245.39 180.14 247.07 175.93C248.76 171.71 255.34 165.13 259.22 159.73C263.1 154.33 266.82 147.92 270.36 143.53Z" fill="#8c96c6"/><path d="M396.9 212.37C398.59 207.31 401.63 202.75 405 200.22C408.38 197.69 413.1 196.51 417.15 197.19C421.2 197.86 425.25 201.07 429.3 204.27C433.35 207.48 437.4 212.37 441.45 216.42C445.5 220.47 450.56 224.52 453.59 228.57C456.63 232.62 458.32 235.32 459.67 240.72C461.02 246.12 461.69 254.22 461.69 260.96C461.69 267.71 460.34 273.04 459.67 281.21C458.99 289.38 457.98 303.21 457.64 309.96C457.31 316.71 465.74 319.75 457.64 321.71C449.55 323.66 417.15 323.66 409.05 321.71C400.95 319.75 410.4 315.02 409.05 309.96C407.7 304.9 402.64 297.81 400.95 291.33C399.26 284.86 398.93 277.84 398.93 271.09C398.93 264.34 401.63 257.59 400.95 250.84C400.28 244.09 395.55 237.01 394.88 230.59C394.2 224.18 395.22 217.43 396.9 212.37Z" fill="#8c96c6"/><path d="M520.86 222.49C523.56 220.81 528.29 219.46 530.99 220.47C533.69 221.48 535.71 224.52 537.06 228.57C538.41 232.62 539.09 239.37 539.09 244.77C539.09 250.17 537.06 254.89 537.06 260.96C537.06 267.04 538.07 275.14 539.09 281.21C540.1 287.29 541.79 292.62 543.14 297.41C544.49 302.2 546.34 305.91 547.19 309.96C548.03 314.01 556.8 319.75 548.2 321.71C539.59 323.66 504.16 323.66 495.56 321.71C486.95 319.75 495.72 314.01 496.57 309.96C497.41 305.91 499.27 302.2 500.62 297.41C501.97 292.62 503.32 287.29 504.67 281.21C506.02 275.14 507.7 267.04 508.72 260.96C509.73 254.89 509.73 249.83 510.74 244.77C511.75 239.7 513.1 234.31 514.79 230.59C516.48 226.88 518.16 224.18 520.86 222.49Z" fill="#8c96c6"/><path d="M79.02 313.61 L81.05 309.96 L92.19 298.42 L103.32 297.81 L103.73 309.96 L103.73 313.61Z" fill="#8c54a6"/><path d="M172.16 236.67C174.52 232.11 182.96 224.52 186.33 222.49C189.71 220.47 191.23 222.83 192.41 224.52C193.59 226.21 194.1 229.58 193.42 232.62C192.75 235.66 190.89 240.04 188.36 242.74C185.83 245.44 180.93 247.63 178.24 248.82C175.54 250 173.17 251.85 172.16 249.83C171.15 247.8 169.8 241.22 172.16 236.67Z" fill="#8c54a6"/><path d="M340.21 98.99 L348.31 103.04 L360.46 107.09 L365.55 103.29 L375 99.92 L380.4 92.49 L388.5 89.79 L393.9 95.19 L393.9 105.99 L397.95 114.09 L406.05 122.19 L415.5 124.89 L423.59 119.49 L430.34 111.39 L434.39 100.59 L433.04 89.79 L431.69 79 L435.74 69.55 L442.49 60.1 L447.89 52 L450.05 44.57 L450.05 30.4 L327.75 30.4Z" fill="#8c54a6"/><path d="M379.72 107.34C377.36 105.09 379.25 96.88 380.4 93.84C381.55 90.81 384.36 89.12 386.61 89.12C388.86 89.12 392.57 90.81 393.9 93.84C395.22 96.88 396.93 105.09 394.57 107.34C392.21 109.59 382.09 109.59 379.72 107.34Z" fill="#8c96c6"/><path d="M386.61 89.79 L393.9 97.22 L386.61 104.64 L379.32 97.22Z" fill="#b3cde3"/><path d="M470.84 38.5C473.54 36.92 486.59 37.49 489.74 38.5C492.89 39.51 489.96 41.87 489.74 44.57C489.51 47.27 489.29 51.44 488.39 54.7C487.49 57.96 484.79 61.67 484.34 64.15C483.89 66.62 484.79 67.07 485.69 69.55C486.59 72.02 488.39 75.62 489.74 79C491.09 82.37 493.34 86.42 493.79 89.79C494.24 93.17 493.56 96.54 492.44 99.24C491.31 101.94 489.29 104.42 487.04 105.99C484.79 107.57 481.64 108.47 478.94 108.69C476.24 108.92 473.32 108.47 470.84 107.34C468.37 106.22 465.89 104.19 464.09 101.94C462.29 99.69 460.27 96.77 460.04 93.84C459.82 90.92 461.39 87.32 462.74 84.4C464.09 81.47 466.12 78.77 468.14 76.3C470.17 73.82 472.87 71.57 474.89 69.55C476.92 67.52 479.62 66.62 480.29 64.15C480.96 61.67 480.06 57.4 478.94 54.7C477.82 52 474.89 50.65 473.54 47.95C472.19 45.25 468.14 40.07 470.84 38.5Z" fill="#8c54a6"/><path d="M523.49 86.42C525.74 85.63 530.01 84.73 532.94 85.07C535.86 85.41 539.01 86.53 541.04 88.44C543.06 90.36 544.63 93.62 545.08 96.54C545.53 99.47 544.63 103.52 543.73 105.99C542.83 108.47 541.49 109.93 539.69 111.39C537.89 112.86 535.41 114.77 532.94 114.77C530.46 114.77 527.09 113.08 524.84 111.39C522.59 109.71 520.79 107.12 519.44 104.64C518.09 102.17 516.74 99.02 516.74 96.54C516.74 94.07 518.31 91.48 519.44 89.79C520.56 88.11 521.24 87.21 523.49 86.42Z" fill="#8c54a6"/><path d="M418.19 137.04C421.34 135.24 424.27 134.34 427.64 134.34C431.02 134.34 435.07 135.47 438.44 137.04C441.82 138.62 445.42 141.09 447.89 143.79C450.37 146.49 452.28 150.31 453.29 153.24C454.3 156.16 454.64 158.41 453.97 161.34C453.29 164.26 451.83 168.54 449.24 170.79C446.66 173.04 442.04 173.94 438.44 174.84C434.84 175.74 431.24 176.64 427.64 176.19C424.04 175.74 419.77 173.94 416.85 172.14C413.92 170.34 411.78 168.09 410.1 165.39C408.41 162.69 406.95 159.31 406.72 155.94C406.5 152.56 406.83 148.29 408.75 145.14C410.66 141.99 415.05 138.84 418.19 137.04Z" fill="#8c54a6"/><path d="M523.49 140.42C525.51 141.09 526.19 145.93 527.54 149.19C528.89 152.45 530.46 156.61 531.59 159.99C532.71 163.36 534.74 166.96 534.29 169.44C533.84 171.91 530.69 173.49 528.89 174.84C527.09 176.19 525.51 177.99 523.49 177.54C521.46 177.09 518.54 174.84 516.74 172.14C514.94 169.44 513.47 164.94 512.69 161.34C511.9 157.74 511.56 153.24 512.01 150.54C512.46 147.84 513.47 146.83 515.39 145.14C517.3 143.45 521.46 139.74 523.49 140.42Z" fill="#8c54a6"/><path d="M338.19 165.8C341.56 164.45 346.62 163.27 350.33 163.78C354.05 164.28 357.42 166.14 360.46 168.84C363.5 171.54 366.7 175.76 368.56 179.98C370.41 184.19 371.59 189.09 371.59 194.15C371.59 199.21 370.41 204.95 368.56 210.35C366.7 215.75 363.83 221.82 360.46 226.54C357.08 231.27 352.36 235.82 348.31 238.69C344.26 241.56 340.21 243.75 336.16 243.75C332.11 243.75 327.39 241.22 324.01 238.69C320.64 236.16 317.77 232.62 315.91 228.57C314.06 224.52 312.88 219.46 312.88 214.4C312.88 209.33 314.4 203.26 315.91 198.2C317.43 193.14 319.63 188.41 321.99 184.03C324.35 179.64 327.39 174.91 330.09 171.88C332.79 168.84 334.81 167.15 338.19 165.8Z" fill="#8c54a6"/><path d="M429.3 239.7C432.34 238.69 436.38 241.22 439.42 244.77C442.46 248.31 445.66 254.89 447.52 260.96C449.38 267.04 450.56 274.46 450.56 281.21C450.56 287.96 449.04 296.67 447.52 301.46C446 306.25 442.63 306.59 441.45 309.96C440.27 313.34 443.81 319.75 440.43 321.71C437.06 323.66 424.41 323.66 421.2 321.71C417.99 319.75 421.37 315.02 421.2 309.96C421.03 304.9 420.52 297.81 420.19 291.33C419.85 284.86 419.01 277.84 419.17 271.09C419.34 264.34 419.51 256.07 421.2 250.84C422.89 245.61 426.26 240.72 429.3 239.7Z" fill="#8c54a6"/><path d="M595.78 177.95C598.31 175.93 604.21 175.59 607.93 175.93C611.64 176.26 615.69 177.95 618.05 179.98C620.41 182 621.76 184.7 622.1 188.07C622.44 191.45 621.42 196.17 620.07 200.22C618.73 204.27 616.03 207.98 614 212.37C611.98 216.76 609.95 226.54 607.93 226.54C605.9 226.54 603.88 216.76 601.85 212.37C599.83 207.98 597.3 204.27 595.78 200.22C594.26 196.17 592.74 191.79 592.74 188.07C592.74 184.36 593.25 179.98 595.78 177.95Z" fill="#8c54a6"/><path d="M571.48 321.71C547.86 319.75 568.78 313.34 571.48 309.96C574.18 306.59 583.63 304.9 587.68 301.46C591.73 298.02 593.42 293.02 595.78 289.31C598.14 285.6 599.49 281.21 601.85 279.19C604.21 277.16 606.91 276.82 609.95 277.16C612.99 277.5 616.36 279.36 620.07 281.21C623.79 283.07 628.17 286.61 632.22 288.3C636.27 289.98 641 289.14 644.37 291.33C647.75 293.53 649.77 298.76 652.47 301.46C655.17 304.16 657.53 306.86 660.57 307.53C663.61 308.21 668.33 307.87 670.69 305.51C673.05 303.15 673.39 296.06 674.74 293.36C676.09 290.66 677.1 290.15 678.79 289.31C680.48 288.47 681.83 288.64 684.87 288.3C687.9 287.96 692.29 288.47 697.01 287.29C701.74 286.1 710.51 275.47 713.21 281.21C715.91 286.95 736.83 314.96 713.21 321.71C689.59 328.45 595.1 323.66 571.48 321.71Z" fill="#8c54a6"/><path d="M507.7 321.71C502.81 319.75 507.2 313 508.72 309.96C510.23 306.92 513.78 304.9 516.82 303.48C519.85 302.07 523.56 300.38 526.94 301.46C530.31 302.54 535.21 306.59 537.06 309.96C538.92 313.34 542.97 319.75 538.07 321.71C533.18 323.66 512.6 323.66 507.7 321.71Z" fill="#8c54a6"/><path d="M569.46 74.69 L575.53 82.79 L583.63 92.91 L591.73 103.04 L597.8 107.09 L603.88 107.09 L603.88 94.94 L575.53 66.59Z" fill="#8c54a6"/><path d="M489.74 41.2C476.69 43 487.94 49.3 489.74 52C491.54 54.7 497.16 55.82 500.54 57.4C503.91 58.97 506.84 59.65 509.99 61.45C513.14 63.25 516.06 66.73 519.44 68.2C522.81 69.66 526.19 70.22 530.24 70.22C534.29 70.22 540.14 69.21 543.73 68.2C547.33 67.18 549.13 65.5 551.83 64.15C554.53 62.8 557.23 61 559.93 60.1C562.63 59.2 566.68 61.9 568.03 58.75C569.38 55.6 581.08 44.12 568.03 41.2C554.98 38.27 502.79 39.4 489.74 41.2Z" fill="#8c54a6"/><path d="M362.85 88.44 L368.25 85.75 L381.75 83.05 L393.9 76.3 L399.3 68.2 L400.65 60.1 L411.45 56.05 L422.24 60.1 L430.34 61.45 L438.44 57.4 L443.84 52 L447.89 46.6 L450.05 38.5 L341.25 38.5 L341.25 95.19Z" fill="#810f7c"/><path d="M412.12 97.22 L417.52 91.82 L422.24 97.22 L417.52 103.29Z" fill="#810f7c"/><path d="M338.19 192.12 L345.27 187.06 L354.38 192.12 L345.27 203.26Z" fill="#810f7c"/><path d="M79.02 313.61 L81.05 309.96 L86.11 304.5 L87.53 309.96 L87.53 313.61Z" fill="#810f7c"/><path d="M489.74 38.5C476.24 39.62 488.39 43.67 489.74 45.25C491.09 46.82 494.91 46.82 497.84 47.95C500.76 49.07 504.81 50.42 507.29 52C509.76 53.57 510.66 55.6 512.69 57.4C514.71 59.2 516.51 61.45 519.44 62.8C522.36 64.15 526.19 65.27 530.24 65.5C534.29 65.72 539.69 64.82 543.73 64.15C547.78 63.47 550.93 62.35 554.53 61.45C558.13 60.55 562.63 59.42 565.33 58.75C568.03 58.07 569.83 60.77 570.73 57.4C571.63 54.02 584.23 41.65 570.73 38.5C557.23 35.35 503.24 37.37 489.74 38.5Z" fill="#810f7c"/><path d="M595.78 321.71C586.33 319.75 593.75 313 595.78 309.96C597.8 306.92 603.88 305.07 607.93 303.48C611.98 301.9 616.03 300.78 620.07 300.45C624.12 300.11 628.17 300.61 632.22 301.46C636.27 302.3 641 304.09 644.37 305.51C647.75 306.92 651.12 307.26 652.47 309.96C653.82 312.66 661.92 319.75 652.47 321.71C643.02 323.66 605.23 323.66 595.78 321.71Z" fill="#810f7c"/><path d="M670.69 321.71C660.57 319.75 671.7 313.34 672.72 309.96C673.73 306.59 675.08 304.23 676.77 301.46C678.45 298.69 680.48 295.05 682.84 293.36C685.2 291.67 687.56 292.01 690.94 291.33C694.31 290.66 699.38 291 703.09 289.31C706.8 287.62 708.15 282.56 713.21 281.21C718.27 279.86 730.08 274.46 733.46 281.21C736.83 287.96 743.92 314.96 733.46 321.71C723 328.45 680.82 323.66 670.69 321.71Z" fill="#810f7c"/><path d="M373.65 76.3 L376.35 74.95 L384.45 69.55 L391.2 62.8 L395.25 54.7 L395.25 45.25 L373.65 45.25Z" fill="#4d004b"/><path d="M503.24 38.5C496.04 39.62 501.44 43 503.24 45.25C505.04 47.5 511.11 49.75 514.04 52C516.96 54.25 518.09 57.28 520.79 58.75C523.49 60.21 526.86 60.77 530.24 60.77C533.61 60.77 538.79 59.76 541.04 58.75C543.28 57.73 542.83 58.07 543.73 54.7C544.63 51.32 553.18 41.2 546.43 38.5C539.69 35.8 510.44 37.37 503.24 38.5Z" fill="#4d004b"/><path d="M688.91 321.71 L688.91 309.96 L686.89 301.46 L690.94 295.38 L697.01 293.36 L713.21 281.21 L814.45 260.96 L814.45 321.71Z" fill="#4d004b"/><path d="M747.63 298.02 L756.74 293.76 L765.85 298.02 L756.74 302.47Z" fill="#8c54a6"/><path d="M752.09 298.02 L756.74 295.79 L761.4 298.02 L756.74 300.45Z" fill="#b3cde3"/><path d="M123.28 290.02L129.47 297.62L123.28 305.23L117.08 297.62ZM144.38 268.92L150.57 276.52L144.38 284.12L138.18 276.52ZM207.68 290.02L213.88 297.62L207.68 305.23L201.48 297.62ZM207.68 258.38L213.88 265.98L207.68 273.58L201.48 265.98ZM218.22 226.73L224.42 234.33L218.22 241.93L212.03 234.33ZM239.32 195.08L245.52 202.68L239.32 210.28L233.12 202.68ZM292.07 290.02L298.27 297.62L292.07 305.23L285.88 297.62ZM292.07 258.38L298.27 265.98L292.07 273.58L285.88 265.98ZM292.07 226.73L298.27 234.33L292.07 241.93L285.88 234.33ZM292.07 195.08L298.27 202.68L292.07 210.28L285.88 202.68ZM302.62 152.88L308.82 160.48L302.62 168.08L296.43 160.48ZM313.18 121.22L319.38 128.82L313.18 136.42L306.98 128.82ZM387.02 290.02L393.22 297.62L387.02 305.23L380.82 297.62ZM387.02 258.38L393.22 265.98L387.02 273.58L380.82 265.98ZM387.02 226.73L393.22 234.33L387.02 241.93L380.82 234.33ZM387.02 195.08L393.22 202.68L387.02 210.28L380.82 202.68ZM387.02 152.88L393.22 160.48L387.02 168.08L380.82 160.48ZM387.02 121.22L393.22 128.82L387.02 136.42L380.82 128.82ZM387.02 89.58L393.22 97.18L387.02 104.78L380.82 97.18ZM408.12 57.93L414.32 65.53L408.12 73.12L401.93 65.53ZM450.33 68.48L456.53 76.08L450.33 83.67L444.13 76.08ZM450.33 79.03L456.53 86.62L450.33 94.22L444.13 86.62ZM450.33 100.12L456.53 107.72L450.33 115.32L444.13 107.72ZM450.33 184.53L456.53 192.12L450.33 199.72L444.13 192.12ZM450.33 205.63L456.53 213.23L450.33 220.83L444.13 213.23ZM460.88 47.38L467.07 54.98L460.88 62.58L454.68 54.98ZM481.98 121.22L488.18 128.82L481.98 136.42L475.78 128.82ZM481.98 152.88L488.18 160.48L481.98 168.08L475.78 160.48ZM481.98 226.73L488.18 234.33L481.98 241.93L475.78 234.33ZM481.98 258.38L488.18 265.98L481.98 273.58L475.78 265.98ZM481.98 290.02L488.18 297.62L481.98 305.23L475.78 297.62ZM503.08 47.38L509.28 54.98L503.08 62.58L496.88 54.98ZM503.08 68.48L509.28 76.08L503.08 83.67L496.88 76.08ZM503.08 79.03L509.28 86.62L503.08 94.22L496.88 86.62ZM503.08 100.12L509.28 107.72L503.08 115.32L496.88 107.72ZM503.08 184.53L509.28 192.12L503.08 199.72L496.88 192.12ZM503.08 205.63L509.28 213.23L503.08 220.83L496.88 213.23ZM555.83 57.93L562.03 65.53L555.83 73.12L549.62 65.53ZM566.38 89.58L572.58 97.18L566.38 104.78L560.17 97.18ZM566.38 121.22L572.58 128.82L566.38 136.42L560.17 128.82ZM566.38 152.88L572.58 160.48L566.38 168.08L560.17 160.48ZM566.38 195.08L572.58 202.68L566.38 210.28L560.17 202.68ZM566.38 226.73L572.58 234.33L566.38 241.93L560.17 234.33ZM566.38 258.38L572.58 265.98L566.38 273.58L560.17 265.98ZM566.38 290.02L572.58 297.62L566.38 305.23L560.17 297.62ZM629.67 142.33L635.88 149.93L629.67 157.53L623.47 149.93ZM640.23 205.63L646.43 213.23L640.23 220.83L634.02 213.23ZM640.23 258.38L646.43 265.98L640.23 273.58L634.02 265.98ZM661.33 290.02L667.53 297.62L661.33 305.23L655.12 297.62Z" fill="#e4eff6"/><path d="M207.19 281.21 L211.64 293.36 L213.67 299.43 L207.19 305.51 L200.91 299.43 L202.94 293.36Z" fill="#e4eff6"/><path d="M291.62 260.96 L296.68 267.04 L294.66 281.21 L296.68 297.41 L291.62 304.5 L286.56 297.41 L288.58 281.21 L286.56 267.04Z" fill="#e4eff6"/><path d="M386.37 284.25 L390.83 294.37 L392.45 299.43 L386.37 305.51 L380.3 299.43 L381.92 294.37Z" fill="#e4eff6"/>
</g>
<path d="M123.28 292.93L124.36 296.13L127.74 296.17L125.03 298.2L126.04 301.43L123.28 299.48L120.51 301.43L121.52 298.2L118.81 296.17L122.19 296.13ZM144.38 271.82L145.46 275.03L148.84 275.07L146.13 277.1L147.14 280.33L144.38 278.38L141.61 280.33L142.62 277.1L139.91 275.07L143.29 275.03ZM207.68 292.93L208.76 296.13L212.14 296.17L209.43 298.2L210.44 301.43L207.68 299.48L204.91 301.43L205.92 298.2L203.21 296.17L206.59 296.13ZM207.68 261.28L208.76 264.48L212.14 264.52L209.43 266.55L210.44 269.78L207.68 267.83L204.91 269.78L205.92 266.55L203.21 264.52L206.59 264.48ZM218.22 229.63L219.31 232.83L222.69 232.87L219.98 234.9L220.99 238.13L218.22 236.18L215.46 238.13L216.47 234.9L213.76 232.87L217.14 232.83ZM239.32 197.98L240.41 201.18L243.79 201.22L241.08 203.25L242.09 206.48L239.32 204.53L236.56 206.48L237.57 203.25L234.86 201.22L238.24 201.18ZM292.07 292.93L293.16 296.13L296.54 296.17L293.83 298.2L294.84 301.43L292.07 299.48L289.31 301.43L290.32 298.2L287.61 296.17L290.99 296.13ZM292.07 261.28L293.16 264.48L296.54 264.52L293.83 266.55L294.84 269.78L292.07 267.83L289.31 269.78L290.32 266.55L287.61 264.52L290.99 264.48ZM292.07 229.63L293.16 232.83L296.54 232.87L293.83 234.9L294.84 238.13L292.07 236.18L289.31 238.13L290.32 234.9L287.61 232.87L290.99 232.83ZM292.07 197.98L293.16 201.18L296.54 201.22L293.83 203.25L294.84 206.48L292.07 204.53L289.31 206.48L290.32 203.25L287.61 201.22L290.99 201.18ZM302.62 155.78L303.71 158.98L307.09 159.02L304.38 161.05L305.39 164.28L302.62 162.33L299.86 164.28L300.87 161.05L298.16 159.02L301.54 158.98ZM313.18 124.12L314.26 127.33L317.64 127.37L314.93 129.4L315.94 132.63L313.18 130.67L310.41 132.63L311.42 129.4L308.71 127.37L312.09 127.33ZM387.02 292.93L388.11 296.13L391.49 296.17L388.78 298.2L389.79 301.43L387.02 299.48L384.26 301.43L385.27 298.2L382.56 296.17L385.94 296.13ZM387.02 261.28L388.11 264.48L391.49 264.52L388.78 266.55L389.79 269.78L387.02 267.83L384.26 269.78L385.27 266.55L382.56 264.52L385.94 264.48ZM387.02 229.63L388.11 232.83L391.49 232.87L388.78 234.9L389.79 238.13L387.02 236.18L384.26 238.13L385.27 234.9L382.56 232.87L385.94 232.83ZM387.02 197.98L388.11 201.18L391.49 201.22L388.78 203.25L389.79 206.48L387.02 204.53L384.26 206.48L385.27 203.25L382.56 201.22L385.94 201.18ZM387.02 155.78L388.11 158.98L391.49 159.02L388.78 161.05L389.79 164.28L387.02 162.33L384.26 164.28L385.27 161.05L382.56 159.02L385.94 158.98ZM387.02 124.12L388.11 127.33L391.49 127.37L388.78 129.4L389.79 132.63L387.02 130.67L384.26 132.63L385.27 129.4L382.56 127.37L385.94 127.33ZM387.02 92.48L388.11 95.68L391.49 95.72L388.78 97.75L389.79 100.98L387.02 99.03L384.26 100.98L385.27 97.75L382.56 95.72L385.94 95.68ZM408.12 60.83L409.21 64.03L412.59 64.07L409.88 66.1L410.89 69.33L408.12 67.38L405.36 69.33L406.37 66.1L403.66 64.07L407.04 64.03ZM450.33 71.38L451.41 74.58L454.79 74.62L452.08 76.65L453.09 79.88L450.33 77.92L447.56 79.88L448.57 76.65L445.86 74.62L449.24 74.58ZM450.33 81.92L451.41 85.13L454.79 85.17L452.08 87.2L453.09 90.43L450.33 88.47L447.56 90.43L448.57 87.2L445.86 85.17L449.24 85.13ZM450.33 103.02L451.41 106.23L454.79 106.27L452.08 108.3L453.09 111.53L450.33 109.57L447.56 111.53L448.57 108.3L445.86 106.27L449.24 106.23ZM450.33 187.43L451.41 190.63L454.79 190.67L452.08 192.7L453.09 195.93L450.33 193.97L447.56 195.93L448.57 192.7L445.86 190.67L449.24 190.63ZM450.33 208.53L451.41 211.73L454.79 211.77L452.08 213.8L453.09 217.03L450.33 215.08L447.56 217.03L448.57 213.8L445.86 211.77L449.24 211.73ZM460.88 50.27L461.96 53.48L465.34 53.52L462.63 55.55L463.64 58.78L460.88 56.83L458.11 58.78L459.12 55.55L456.41 53.52L459.79 53.48ZM481.98 124.12L483.06 127.33L486.44 127.37L483.73 129.4L484.74 132.63L481.98 130.67L479.21 132.63L480.22 129.4L477.51 127.37L480.89 127.33ZM481.98 155.78L483.06 158.98L486.44 159.02L483.73 161.05L484.74 164.28L481.98 162.33L479.21 164.28L480.22 161.05L477.51 159.02L480.89 158.98ZM481.98 229.63L483.06 232.83L486.44 232.87L483.73 234.9L484.74 238.13L481.98 236.18L479.21 238.13L480.22 234.9L477.51 232.87L480.89 232.83ZM481.98 261.28L483.06 264.48L486.44 264.52L483.73 266.55L484.74 269.78L481.98 267.83L479.21 269.78L480.22 266.55L477.51 264.52L480.89 264.48ZM481.98 292.93L483.06 296.13L486.44 296.17L483.73 298.2L484.74 301.43L481.98 299.48L479.21 301.43L480.22 298.2L477.51 296.17L480.89 296.13ZM503.08 50.27L504.16 53.48L507.54 53.52L504.83 55.55L505.84 58.78L503.08 56.83L500.31 58.78L501.32 55.55L498.61 53.52L501.99 53.48ZM503.08 71.38L504.16 74.58L507.54 74.62L504.83 76.65L505.84 79.88L503.08 77.92L500.31 79.88L501.32 76.65L498.61 74.62L501.99 74.58ZM503.08 81.92L504.16 85.13L507.54 85.17L504.83 87.2L505.84 90.43L503.08 88.47L500.31 90.43L501.32 87.2L498.61 85.17L501.99 85.13ZM503.08 103.02L504.16 106.23L507.54 106.27L504.83 108.3L505.84 111.53L503.08 109.57L500.31 111.53L501.32 108.3L498.61 106.27L501.99 106.23ZM503.08 187.43L504.16 190.63L507.54 190.67L504.83 192.7L505.84 195.93L503.08 193.97L500.31 195.93L501.32 192.7L498.61 190.67L501.99 190.63ZM503.08 208.53L504.16 211.73L507.54 211.77L504.83 213.8L505.84 217.03L503.08 215.08L500.31 217.03L501.32 213.8L498.61 211.77L501.99 211.73ZM555.83 60.83L556.91 64.03L560.29 64.07L557.58 66.1L558.59 69.33L555.83 67.38L553.06 69.33L554.07 66.1L551.36 64.07L554.74 64.03ZM566.38 92.48L567.46 95.68L570.84 95.72L568.13 97.75L569.14 100.98L566.38 99.03L563.61 100.98L564.62 97.75L561.91 95.72L565.29 95.68ZM566.38 124.12L567.46 127.33L570.84 127.37L568.13 129.4L569.14 132.63L566.38 130.67L563.61 132.63L564.62 129.4L561.91 127.37L565.29 127.33ZM566.38 155.78L567.46 158.98L570.84 159.02L568.13 161.05L569.14 164.28L566.38 162.33L563.61 164.28L564.62 161.05L561.91 159.02L565.29 158.98ZM566.38 197.98L567.46 201.18L570.84 201.22L568.13 203.25L569.14 206.48L566.38 204.53L563.61 206.48L564.62 203.25L561.91 201.22L565.29 201.18ZM566.38 229.63L567.46 232.83L570.84 232.87L568.13 234.9L569.14 238.13L566.38 236.18L563.61 238.13L564.62 234.9L561.91 232.87L565.29 232.83ZM566.38 261.28L567.46 264.48L570.84 264.52L568.13 266.55L569.14 269.78L566.38 267.83L563.61 269.78L564.62 266.55L561.91 264.52L565.29 264.48ZM566.38 292.93L567.46 296.13L570.84 296.17L568.13 298.2L569.14 301.43L566.38 299.48L563.61 301.43L564.62 298.2L561.91 296.17L565.29 296.13ZM629.67 145.23L630.76 148.43L634.14 148.47L631.43 150.5L632.44 153.73L629.67 151.78L626.91 153.73L627.92 150.5L625.21 148.47L628.59 148.43ZM640.23 208.53L641.31 211.73L644.69 211.77L641.98 213.8L642.99 217.03L640.23 215.08L637.46 217.03L638.47 213.8L635.76 211.77L639.14 211.73ZM640.23 261.28L641.31 264.48L644.69 264.52L641.98 266.55L642.99 269.78L640.23 267.83L637.46 269.78L638.47 266.55L635.76 264.52L639.14 264.48ZM661.33 292.93L662.41 296.13L665.79 296.17L663.08 298.2L664.09 301.43L661.33 299.48L658.56 301.43L659.57 298.2L656.86 296.17L660.24 296.13ZM756.28 292.93L757.36 296.13L760.74 296.17L758.03 298.2L759.04 301.43L756.28 299.48L753.51 301.43L754.52 298.2L751.81 296.17L755.19 296.13Z" fill="#000" stroke="#000" stroke-width="1.8" stroke-linejoin="round"/>
<path d="M170.75 18V309.5M276.25 18V309.5M381.75 18V309.5M487.25 18V309.5M592.75 18V309.5M698.25 18V309.5M803.75 18V309.5M77.5 271.25H825.5M77.5 229.05H825.5M77.5 186.85H825.5M77.5 144.65H825.5M77.5 102.45H825.5M77.5 60.25H825.5" stroke="#000" stroke-opacity="0.2" stroke-width="0.6" fill="none"/>
</g>
<rect x="77.5" y="18" width="748" height="291.5" fill="none" stroke="#000" stroke-width="1.5"/>
<text x="170.75" y="330.6" font-size="17.3" text-anchor="middle" >82.5°E</text>
<text x="276.25" y="330.6" font-size="17.3" text-anchor="middle" >85°E</text>
<text x="381.75" y="330.6" font-size="17.3" text-anchor="middle" >87.5°E</text>
<text x="487.25" y="330.6" font-size="17.3" text-anchor="middle" >90°E</text>
<text x="592.75" y="330.6" font-size="17.3" text-anchor="middle" >92.5°E</text>
<text x="698.25" y="330.6" font-size="17.3" text-anchor="middle" >95°E</text>
<text x="803.75" y="330.6" font-size="17.3" text-anchor="middle" >97.5°E</text>
<text x="67.8" y="275.65" font-size="17.3" text-anchor="end" >16°N</text>
<text x="67.8" y="233.45" font-size="17.3" text-anchor="end" >17°N</text>
<text x="67.8" y="191.25" font-size="17.3" text-anchor="end" >18°N</text>
<text x="67.8" y="149.05" font-size="17.3" text-anchor="end" >19°N</text>
<text x="67.8" y="106.85" font-size="17.3" text-anchor="end" >20°N</text>
<text x="67.8" y="64.65" font-size="17.3" text-anchor="end" >21°N</text>
<text x="152" y="54.2" font-size="31" text-anchor="middle" font-weight="bold" >(H)</text>
</g>
<rect x="1768.5" y="1418.8" width="13.75" height="55.75" fill="#e4eff6"/>
<rect x="1768.5" y="1363.35" width="13.75" height="55.75" fill="#b3cde3"/>
<rect x="1768.5" y="1307.9" width="13.75" height="55.75" fill="#8c96c6"/>
<rect x="1768.5" y="1252.45" width="13.75" height="55.75" fill="#8c54a6"/>
<rect x="1768.5" y="1197" width="13.75" height="55.75" fill="#810f7c"/>
<path d="M1768.5 1197.3L1775.38 1182L1782.25 1197.3Z" fill="#4d004b"/>
<path d="M1768.5 1474.25L1768.5 1197L1775.38 1182L1782.25 1197L1782.25 1474.25Z" fill="none" stroke="#000" stroke-width="1.1" stroke-linejoin="miter"/>
<path d="M1782.25 1474.25h5M1782.25 1418.8h5M1782.25 1363.35h5M1782.25 1307.9h5M1782.25 1252.45h5M1782.25 1197h5" stroke="#000" stroke-width="1.2"/>
<text x="1794.25" y="1480.65" font-size="19.5" text-anchor="start" >0</text>
<text x="1794.25" y="1425.2" font-size="19.5" text-anchor="start" >0.1</text>
<text x="1794.25" y="1369.75" font-size="19.5" text-anchor="start" >0.2</text>
<text x="1794.25" y="1314.3" font-size="19.5" text-anchor="start" >0.3</text>
<text x="1794.25" y="1258.85" font-size="19.5" text-anchor="start" >0.4</text>
<text x="1794.25" y="1203.4" font-size="19.5" text-anchor="start" >0.5</text>
<text x="1844.5" y="1337.2" font-size="28.5" text-anchor="middle" transform="rotate(-90 1844.5 1337.2)" >Mean Error For SSS [psu]</text>
</svg>
</body></html>
